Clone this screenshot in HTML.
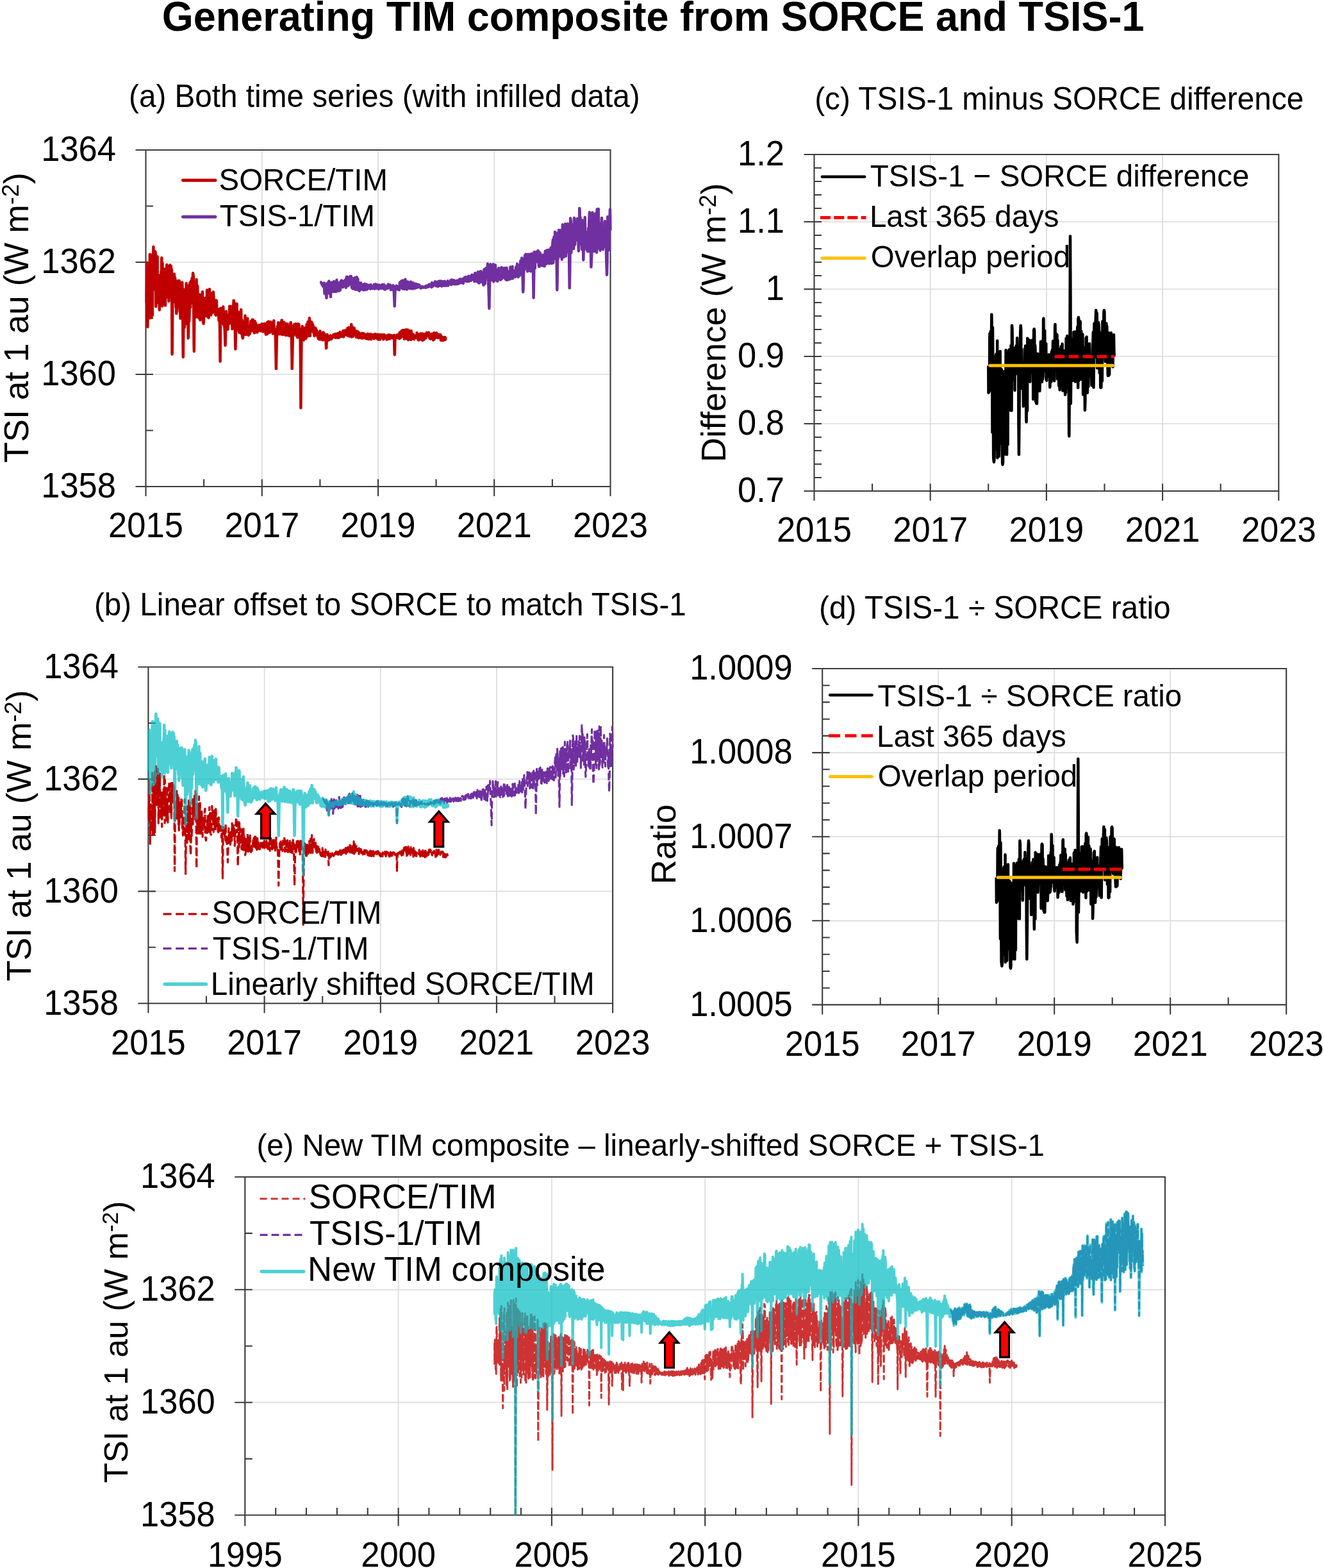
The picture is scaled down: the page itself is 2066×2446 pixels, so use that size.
<!DOCTYPE html>
<html><head><meta charset="utf-8"><title>Generating TIM composite from SORCE and TSIS-1</title>
<style>html,body{margin:0;padding:0;background:#fff;}svg{display:block;filter:blur(0.5px);}</style></head>
<body>
<svg width="2066" height="2446" viewBox="0 0 2066 2446" font-family="Liberation Sans, Arial, sans-serif" fill="#000">
<rect width="100%" height="100%" fill="#fff"/>
<defs>
<clipPath id="ca"><rect x="226.5" y="231.0" width="729.0" height="528.0"/></clipPath>
<clipPath id="cb"><rect x="230.4" y="1037.5" width="728.7" height="527.8"/></clipPath>
<clipPath id="cc"><rect x="1269.5" y="238.0" width="728.8" height="528.0"/></clipPath>
<clipPath id="cd"><rect x="1282.2" y="1040.0" width="728.0" height="527.4"/></clipPath>
<clipPath id="ce"><rect x="381.3" y="1833.0" width="1439.7" height="530.5"/></clipPath>
</defs>
<text transform="translate(252.7 47.8) scale(1 1.03)" font-size="63" font-weight="bold">Generating TIM composite from SORCE and TSIS-1</text>
<path d="M408.8 234.0V759.0M590.0 234.0V759.0M771.2 234.0V759.0M227.5 584.0H952.5M227.5 409.0H952.5" stroke="#dcdcdc" stroke-width="1.7" fill="none"/>
<path d="M227.5 234.0H952.5V759.0H227.5ZM211.5 759.0H239.0M211.5 584.0H239.0M211.5 409.0H239.0M211.5 234.0H239.0M227.5 671.5H239.0M227.5 496.5H239.0M227.5 321.5H239.0M227.5 747.5V774.0M408.8 747.5V774.0M590.0 747.5V774.0M771.2 747.5V774.0M952.5 747.5V774.0M318.1 759.0V747.5M499.4 759.0V747.5M680.6 759.0V747.5M861.9 759.0V747.5" stroke="#3c3c3c" stroke-width="2.1" fill="none"/>
<text transform="translate(181.0 776.3) scale(1 1.04)" font-size="52.5" text-anchor="end">1358</text>
<text transform="translate(181.0 601.3) scale(1 1.04)" font-size="52.5" text-anchor="end">1360</text>
<text transform="translate(181.0 426.3) scale(1 1.04)" font-size="52.5" text-anchor="end">1362</text>
<text transform="translate(181.0 251.3) scale(1 1.04)" font-size="52.5" text-anchor="end">1364</text>
<text transform="translate(227.5 838.3) scale(1 1.04)" font-size="52.5" text-anchor="middle">2015</text>
<text transform="translate(408.8 838.3) scale(1 1.04)" font-size="52.5" text-anchor="middle">2017</text>
<text transform="translate(590.0 838.3) scale(1 1.04)" font-size="52.5" text-anchor="middle">2019</text>
<text transform="translate(771.2 838.3) scale(1 1.04)" font-size="52.5" text-anchor="middle">2021</text>
<text transform="translate(952.5 838.3) scale(1 1.04)" font-size="52.5" text-anchor="middle">2023</text>
<path d="M412.6 1040.5V1565.3M593.8 1040.5V1565.3M774.9 1040.5V1565.3M231.4 1390.4H956.1M231.4 1215.4H956.1" stroke="#dcdcdc" stroke-width="1.7" fill="none"/>
<path d="M231.4 1040.5H956.1V1565.3H231.4ZM215.4 1565.3H242.9M215.4 1390.4H242.9M215.4 1215.4H242.9M215.4 1040.5H242.9M231.4 1477.8H242.9M231.4 1302.9H242.9M231.4 1128.0H242.9M231.4 1553.8V1580.3M412.6 1553.8V1580.3M593.8 1553.8V1580.3M774.9 1553.8V1580.3M956.1 1553.8V1580.3M322.0 1565.3V1553.8M503.2 1565.3V1553.8M684.3 1565.3V1553.8M865.5 1565.3V1553.8" stroke="#3c3c3c" stroke-width="2.1" fill="none"/>
<text transform="translate(184.9 1582.6) scale(1 1.04)" font-size="52.5" text-anchor="end">1358</text>
<text transform="translate(184.9 1407.7) scale(1 1.04)" font-size="52.5" text-anchor="end">1360</text>
<text transform="translate(184.9 1232.8) scale(1 1.04)" font-size="52.5" text-anchor="end">1362</text>
<text transform="translate(184.9 1057.8) scale(1 1.04)" font-size="52.5" text-anchor="end">1364</text>
<text transform="translate(231.4 1644.6) scale(1 1.04)" font-size="52.5" text-anchor="middle">2015</text>
<text transform="translate(412.6 1644.6) scale(1 1.04)" font-size="52.5" text-anchor="middle">2017</text>
<text transform="translate(593.8 1644.6) scale(1 1.04)" font-size="52.5" text-anchor="middle">2019</text>
<text transform="translate(774.9 1644.6) scale(1 1.04)" font-size="52.5" text-anchor="middle">2021</text>
<text transform="translate(956.1 1644.6) scale(1 1.04)" font-size="52.5" text-anchor="middle">2023</text>
<path d="M1451.7 241.0V766.0M1632.9 241.0V766.0M1814.1 241.0V766.0M1270.5 661.0H1995.3M1270.5 556.0H1995.3M1270.5 451.0H1995.3M1270.5 346.0H1995.3" stroke="#dcdcdc" stroke-width="1.7" fill="none"/>
<path d="M1270.5 241.0H1995.3V766.0H1270.5ZM1254.5 766.0H1282.0M1254.5 661.0H1282.0M1254.5 556.0H1282.0M1254.5 451.0H1282.0M1254.5 346.0H1282.0M1254.5 241.0H1282.0M1270.5 745.0H1282.0M1270.5 724.0H1282.0M1270.5 703.0H1282.0M1270.5 682.0H1282.0M1270.5 640.0H1282.0M1270.5 619.0H1282.0M1270.5 598.0H1282.0M1270.5 577.0H1282.0M1270.5 535.0H1282.0M1270.5 514.0H1282.0M1270.5 493.0H1282.0M1270.5 472.0H1282.0M1270.5 430.0H1282.0M1270.5 409.0H1282.0M1270.5 388.0H1282.0M1270.5 367.0H1282.0M1270.5 325.0H1282.0M1270.5 304.0H1282.0M1270.5 283.0H1282.0M1270.5 262.0H1282.0M1270.5 754.5V781.0M1451.7 754.5V781.0M1632.9 754.5V781.0M1814.1 754.5V781.0M1995.3 754.5V781.0M1361.1 766.0V754.5M1542.3 766.0V754.5M1723.5 766.0V754.5M1904.7 766.0V754.5" stroke="#3c3c3c" stroke-width="2.1" fill="none"/>
<text transform="translate(1224.0 783.3) scale(1 1.04)" font-size="52.5" text-anchor="end">0.7</text>
<text transform="translate(1224.0 678.3) scale(1 1.04)" font-size="52.5" text-anchor="end">0.8</text>
<text transform="translate(1224.0 573.3) scale(1 1.04)" font-size="52.5" text-anchor="end">0.9</text>
<text transform="translate(1224.0 468.3) scale(1 1.04)" font-size="52.5" text-anchor="end">1</text>
<text transform="translate(1224.0 363.3) scale(1 1.04)" font-size="52.5" text-anchor="end">1.1</text>
<text transform="translate(1224.0 258.3) scale(1 1.04)" font-size="52.5" text-anchor="end">1.2</text>
<text transform="translate(1270.5 845.3) scale(1 1.04)" font-size="52.5" text-anchor="middle">2015</text>
<text transform="translate(1451.7 845.3) scale(1 1.04)" font-size="52.5" text-anchor="middle">2017</text>
<text transform="translate(1632.9 845.3) scale(1 1.04)" font-size="52.5" text-anchor="middle">2019</text>
<text transform="translate(1814.1 845.3) scale(1 1.04)" font-size="52.5" text-anchor="middle">2021</text>
<text transform="translate(1995.3 845.3) scale(1 1.04)" font-size="52.5" text-anchor="middle">2023</text>
<path d="M1464.2 1043.0V1567.4M1645.2 1043.0V1567.4M1826.2 1043.0V1567.4M1283.2 1436.3H2007.2M1283.2 1305.2H2007.2M1283.2 1174.1H2007.2" stroke="#dcdcdc" stroke-width="1.7" fill="none"/>
<path d="M1283.2 1043.0H2007.2V1567.4H1283.2ZM1267.2 1567.4H1294.7M1267.2 1436.3H1294.7M1267.2 1305.2H1294.7M1267.2 1174.1H1294.7M1267.2 1043.0H1294.7M1283.2 1541.2H1294.7M1283.2 1515.0H1294.7M1283.2 1488.7H1294.7M1283.2 1462.5H1294.7M1283.2 1410.1H1294.7M1283.2 1383.9H1294.7M1283.2 1357.6H1294.7M1283.2 1331.4H1294.7M1283.2 1279.0H1294.7M1283.2 1252.8H1294.7M1283.2 1226.5H1294.7M1283.2 1200.3H1294.7M1283.2 1147.9H1294.7M1283.2 1121.7H1294.7M1283.2 1095.4H1294.7M1283.2 1069.2H1294.7M1283.2 1555.9V1582.4M1464.2 1555.9V1582.4M1645.2 1555.9V1582.4M1826.2 1555.9V1582.4M2007.2 1555.9V1582.4M1373.7 1567.4V1555.9M1554.7 1567.4V1555.9M1735.7 1567.4V1555.9M1916.7 1567.4V1555.9" stroke="#3c3c3c" stroke-width="2.1" fill="none"/>
<text transform="translate(1236.7 1584.7) scale(1 1.04)" font-size="52.5" text-anchor="end">1.0005</text>
<text transform="translate(1236.7 1453.6) scale(1 1.04)" font-size="52.5" text-anchor="end">1.0006</text>
<text transform="translate(1236.7 1322.5) scale(1 1.04)" font-size="52.5" text-anchor="end">1.0007</text>
<text transform="translate(1236.7 1191.4) scale(1 1.04)" font-size="52.5" text-anchor="end">1.0008</text>
<text transform="translate(1236.7 1060.3) scale(1 1.04)" font-size="52.5" text-anchor="end">1.0009</text>
<text transform="translate(1283.2 1646.7) scale(1 1.04)" font-size="52.5" text-anchor="middle">2015</text>
<text transform="translate(1464.2 1646.7) scale(1 1.04)" font-size="52.5" text-anchor="middle">2017</text>
<text transform="translate(1645.2 1646.7) scale(1 1.04)" font-size="52.5" text-anchor="middle">2019</text>
<text transform="translate(1826.2 1646.7) scale(1 1.04)" font-size="52.5" text-anchor="middle">2021</text>
<text transform="translate(2007.2 1646.7) scale(1 1.04)" font-size="52.5" text-anchor="middle">2023</text>
<path d="M621.6 1836.0V2363.5M860.9 1836.0V2363.5M1100.2 1836.0V2363.5M1339.4 1836.0V2363.5M1578.7 1836.0V2363.5M382.3 2187.7H1818.0M382.3 2011.8H1818.0" stroke="#dcdcdc" stroke-width="1.7" fill="none"/>
<path d="M382.3 1836.0H1818.0V2363.5H382.3ZM366.3 2363.5H393.8M366.3 2187.7H393.8M366.3 2011.8H393.8M366.3 1836.0H393.8M382.3 2275.6H393.8M382.3 2099.8H393.8M382.3 1923.9H393.8M382.3 2352.0V2380.5M621.6 2352.0V2380.5M860.9 2352.0V2380.5M1100.2 2352.0V2380.5M1339.4 2352.0V2380.5M1578.7 2352.0V2380.5M1818.0 2352.0V2380.5M430.2 2363.5V2352.0M478.0 2363.5V2352.0M525.9 2363.5V2352.0M573.7 2363.5V2352.0M669.4 2363.5V2352.0M717.3 2363.5V2352.0M765.2 2363.5V2352.0M813.0 2363.5V2352.0M908.7 2363.5V2352.0M956.6 2363.5V2352.0M1004.4 2363.5V2352.0M1052.3 2363.5V2352.0M1148.0 2363.5V2352.0M1195.9 2363.5V2352.0M1243.7 2363.5V2352.0M1291.6 2363.5V2352.0M1387.3 2363.5V2352.0M1435.1 2363.5V2352.0M1483.0 2363.5V2352.0M1530.9 2363.5V2352.0M1626.6 2363.5V2352.0M1674.4 2363.5V2352.0M1722.3 2363.5V2352.0M1770.1 2363.5V2352.0" stroke="#3c3c3c" stroke-width="2.1" fill="none"/>
<text transform="translate(335.8 2380.8) scale(1 1.04)" font-size="52.5" text-anchor="end">1358</text>
<text transform="translate(335.8 2205.0) scale(1 1.04)" font-size="52.5" text-anchor="end">1360</text>
<text transform="translate(335.8 2029.2) scale(1 1.04)" font-size="52.5" text-anchor="end">1362</text>
<text transform="translate(335.8 1853.3) scale(1 1.04)" font-size="52.5" text-anchor="end">1364</text>
<text transform="translate(382.3 2443.5) scale(1 1.04)" font-size="52.5" text-anchor="middle">1995</text>
<text transform="translate(621.6 2443.5) scale(1 1.04)" font-size="52.5" text-anchor="middle">2000</text>
<text transform="translate(860.9 2443.5) scale(1 1.04)" font-size="52.5" text-anchor="middle">2005</text>
<text transform="translate(1100.2 2443.5) scale(1 1.04)" font-size="52.5" text-anchor="middle">2010</text>
<text transform="translate(1339.4 2443.5) scale(1 1.04)" font-size="52.5" text-anchor="middle">2015</text>
<text transform="translate(1578.7 2443.5) scale(1 1.04)" font-size="52.5" text-anchor="middle">2020</text>
<text transform="translate(1818.0 2443.5) scale(1 1.04)" font-size="52.5" text-anchor="middle">2025</text>
<text transform="translate(201.0 167.0) scale(1 1.03)" font-size="47.7">(a) Both time series (with infilled data)</text>
<text transform="translate(147.0 960.2) scale(1 1.03)" font-size="47.6">(b) Linear offset to SORCE to match TSIS-1</text>
<text transform="translate(1271.2 170.7) scale(1 1.03)" font-size="47.8">(c) TSIS-1 minus SORCE difference</text>
<text transform="translate(1278.1 965.3) scale(1 1.03)" font-size="47.8">(d) TSIS-1 &#247; SORCE ratio</text>
<text transform="translate(400.4 1802.5) scale(1 1.03)" font-size="47.4">(e) New TIM composite &#8211; linearly-shifted SORCE + TSIS-1</text>
<text transform="translate(43.7 495.7) rotate(-90)" text-anchor="middle" font-size="53.3">TSI at 1 au (W m<tspan font-size="36.2" dy="-14.7">-2</tspan><tspan dy="14.7">)</tspan></text>
<text transform="translate(47.8 1303.6) rotate(-90)" text-anchor="middle" font-size="53.5">TSI at 1 au (W m<tspan font-size="36.4" dy="-14.7">-2</tspan><tspan dy="14.7">)</tspan></text>
<text transform="translate(1131.5 503.5) rotate(-90)" text-anchor="middle" font-size="53.5">Difference (W m<tspan font-size="36.4" dy="-14.7">-2</tspan><tspan dy="14.7">)</tspan></text>
<text transform="translate(1053.7 1317.2) rotate(-90)" text-anchor="middle" font-size="53.7">Ratio</text>
<text transform="translate(198.6 2093.5) rotate(-90)" text-anchor="middle" font-size="51.8">TSI at 1 au (W m<tspan font-size="35.2" dy="-14.2">-2</tspan><tspan dy="14.2">)</tspan></text>
<path clip-path="url(#ca)" d="M227.7 453.9 228.2 471.7 229.2 409.8 229.7 451.0 230.4 509.9 230.7 455.7 231.2 483.1 231.4 448.2 232.2 491.0 232.7 457.5 233.4 459.8 233.7 440.7 233.9 396.8 234.4 496.2 234.9 486.0 235.6 421.0 236.4 494.7 236.6 428.7 237.1 412.0 237.6 397.5 237.9 491.8 238.6 396.9 239.1 430.3 239.4 385.0 239.9 407.2 240.1 449.0 240.9 451.1 241.1 421.2 242.1 445.7 242.3 392.6 243.1 399.3 243.3 477.9 243.8 441.9 244.3 409.6 245.3 425.8 245.6 400.2 245.8 471.9 246.3 438.9 247.3 450.0 247.6 429.6 247.8 466.3 248.5 444.0 248.8 483.5 249.5 429.5 250.0 469.1 250.5 443.6 251.3 467.0 251.5 424.0 251.8 435.9 252.3 402.3 253.3 477.6 253.5 410.2 253.8 455.9 254.5 437.0 254.8 434.1 255.5 458.0 255.7 473.6 256.5 446.0 256.7 419.7 257.5 454.9 258.0 476.5 258.5 449.2 259.2 448.7 259.5 425.6 260.2 413.0 260.5 436.0 261.4 427.6 261.7 463.7 261.9 438.9 262.7 462.3 263.2 415.2 263.4 469.7 263.9 451.0 264.4 439.7 265.2 413.4 265.7 446.8 266.2 444.0 266.4 432.2 266.9 415.1 267.7 442.3 267.9 420.7 268.6 552.4 268.9 535.7 269.4 453.5 270.1 469.9 270.6 445.3 271.1 452.4 271.4 445.6 271.9 427.4 272.6 470.6 272.9 460.7 273.1 433.2 273.9 458.9 274.6 480.0 274.8 437.9 275.3 489.0 276.3 474.7 276.6 460.2 276.8 471.6 277.3 445.1 277.8 464.1 278.3 445.1 278.8 467.7 279.1 437.8 279.8 438.2 280.6 485.9 280.8 468.6 281.5 496.7 282.0 484.3 282.3 495.6 283.0 483.4 283.3 494.7 283.8 462.8 284.3 440.4 285.0 462.3 285.5 537.1 285.8 557.0 286.5 493.4 286.8 490.0 287.5 452.3 287.8 452.0 288.0 510.5 289.2 451.3 289.5 472.9 289.7 496.1 290.2 467.4 290.7 442.1 291.2 504.9 292.0 483.8 292.5 449.4 292.7 445.6 293.7 527.5 294.0 520.8 294.7 472.3 294.9 476.5 295.2 501.0 295.9 472.9 296.2 441.4 297.2 479.3 297.7 439.6 297.9 438.6 298.2 458.7 299.2 458.6 299.7 433.4 300.2 439.4 300.7 456.6 300.9 472.4 301.1 425.9 301.9 431.3 302.6 536.8 302.9 547.9 303.4 466.5 304.4 493.7 304.6 462.5 305.1 447.1 305.4 488.4 306.1 494.6 306.6 436.0 306.9 493.9 307.4 457.3 307.8 463.2 308.3 446.2 308.8 494.1 309.3 475.9 310.1 469.9 310.3 495.9 311.1 459.4 311.3 478.3 312.3 499.2 312.6 480.7 312.8 487.8 313.1 470.1 313.8 474.9 314.3 467.0 315.0 484.0 315.5 457.8 316.0 455.2 316.3 492.8 316.8 499.8 317.5 504.8 317.8 502.8 318.5 485.7 318.8 476.6 319.3 473.5 319.8 492.9 320.3 464.9 320.8 489.4 321.5 479.9 322.0 492.8 322.5 470.7 322.7 485.6 323.0 452.6 324.0 461.6 324.5 494.5 324.7 494.7 325.5 495.7 325.7 495.2 326.7 468.8 327.0 451.0 327.7 472.0 328.2 457.6 328.7 479.4 329.4 491.4 329.7 474.9 329.9 460.4 330.7 474.0 331.2 486.4 331.7 457.0 331.9 458.8 332.4 487.3 332.9 455.4 333.7 470.2 333.9 475.9 334.4 484.3 335.4 468.5 335.6 477.9 336.1 490.4 336.4 481.8 336.9 491.9 337.4 468.5 337.9 469.7 338.4 489.7 338.9 481.9 339.6 489.0 340.4 490.6 340.6 482.5 341.1 491.4 341.6 499.6 341.8 500.5 342.3 483.1 342.8 492.6 343.6 563.8 343.8 540.1 344.3 480.7 344.8 489.3 345.6 487.4 345.8 488.4 346.6 496.6 346.8 498.9 347.1 491.7 348.0 504.7 348.3 478.6 348.8 493.2 349.3 507.2 349.8 500.0 350.3 509.2 350.8 514.8 351.5 538.8 351.8 531.2 352.5 500.5 353.0 485.7 353.3 506.8 354.0 499.7 354.2 492.5 354.7 500.4 355.2 512.7 355.7 513.6 356.5 491.4 357.0 500.6 357.5 493.4 357.7 505.0 358.2 477.8 359.0 498.0 359.7 483.8 360.0 495.1 360.2 477.9 360.9 492.6 361.7 497.4 361.9 486.1 362.4 513.1 362.9 502.6 363.4 485.4 364.2 477.4 364.7 468.7 365.2 472.6 365.7 492.1 366.2 487.8 366.7 502.7 366.9 520.3 367.4 544.5 367.9 519.9 368.4 473.7 369.1 515.3 369.6 474.0 370.4 510.5 370.6 486.8 370.9 511.8 371.1 486.3 372.4 503.4 372.6 494.5 373.1 518.4 373.6 504.0 373.8 487.5 374.6 513.2 374.8 490.3 375.1 517.2 375.8 519.6 376.1 482.9 376.8 512.9 377.6 499.2 377.8 522.3 378.6 526.6 378.8 527.5 379.6 523.2 379.8 510.9 380.3 502.5 380.8 517.2 381.0 504.3 382.3 512.4 382.5 492.4 382.8 521.7 383.0 508.5 383.8 521.9 384.5 499.9 385.3 501.7 385.5 512.1 385.8 510.6 386.3 496.8 386.7 514.4 387.5 522.4 387.7 522.9 388.5 521.5 388.7 521.0 389.0 512.8 389.7 520.7 390.5 513.4 390.7 514.9 391.5 501.1 391.7 516.8 392.2 501.0 393.0 514.8 393.7 498.8 394.2 499.4 394.4 512.2 394.9 498.8 395.7 516.7 396.2 501.8 396.4 517.0 396.9 519.3 397.4 507.3 397.9 501.3 398.7 518.0 398.9 508.0 399.2 504.4 399.9 509.2 400.1 516.7 400.9 512.0 401.6 518.5 401.9 516.5 402.1 512.1 402.9 514.8 403.4 508.1 404.1 514.3 404.4 506.9 405.1 514.4 405.4 509.9 405.9 516.0 406.6 512.2 406.8 508.0 407.6 514.2 407.8 515.0 408.6 505.3 408.8 516.6 409.6 513.4 409.8 511.5 410.3 517.3 411.3 512.5 411.6 509.8 412.1 505.1 412.3 515.8 412.8 515.0 413.0 505.6 414.0 505.0 414.5 520.3 414.8 517.1 415.0 521.8 416.3 511.9 416.5 510.4 417.0 502.9 417.3 521.0 417.8 505.6 418.3 507.6 419.0 501.4 419.5 508.7 419.7 511.2 420.0 514.9 420.7 518.6 421.2 506.1 422.2 516.7 422.5 502.2 422.7 516.8 423.5 503.8 424.2 505.9 424.5 511.7 425.0 510.1 425.7 520.5 426.0 513.5 426.7 506.4 427.2 500.2 427.7 516.0 428.2 516.3 428.4 513.5 429.2 514.4 429.7 522.9 429.9 525.9 430.7 564.1 430.9 575.1 431.7 535.2 432.2 519.9 432.7 509.2 433.4 520.2 433.6 514.0 433.9 511.7 434.1 503.2 434.9 521.0 435.4 508.0 435.9 509.7 436.4 519.7 436.9 521.1 437.4 508.4 437.9 509.9 438.1 502.9 438.9 511.5 439.6 499.5 439.8 499.6 440.3 521.9 440.8 503.5 441.3 514.4 442.3 521.8 442.6 512.2 442.8 514.8 443.1 502.7 444.1 513.5 444.3 506.7 444.8 504.4 445.6 522.9 445.8 512.6 446.5 515.8 446.8 515.7 447.3 508.6 447.8 521.0 448.5 505.3 449.0 523.1 449.3 513.9 450.3 510.8 450.5 516.5 451.0 518.1 451.5 523.7 452.0 507.8 452.5 517.7 452.7 523.9 453.5 503.2 453.7 503.1 454.5 512.0 454.7 517.4 455.5 556.1 455.7 575.1 456.5 540.7 456.7 527.5 457.5 508.7 458.0 511.0 458.2 523.1 459.2 505.9 459.7 517.1 460.2 517.1 460.7 511.4 461.2 514.4 461.4 505.2 461.9 516.4 462.2 509.7 462.9 524.3 463.7 511.0 463.9 506.4 464.4 526.4 464.9 505.3 465.2 519.4 466.4 505.8 466.6 514.9 466.9 512.0 467.4 518.4 468.1 514.4 468.6 532.2 468.9 564.4 469.4 636.3 469.9 580.0 470.6 519.0 471.4 519.5 471.6 509.0 471.9 513.7 472.4 523.2 472.8 520.6 473.6 511.4 473.8 530.6 474.1 514.9 474.8 528.8 475.3 513.6 475.8 511.5 476.6 523.6 476.8 521.3 477.3 528.0 477.8 526.0 478.6 507.8 478.8 505.7 479.5 523.0 480.3 521.5 480.5 501.9 480.8 501.9 481.0 524.3 482.0 503.0 482.3 512.7 482.8 496.3 483.5 502.6 484.0 524.0 484.3 512.6 484.8 515.9 485.3 504.9 486.2 502.4 486.5 511.1 486.7 514.9 487.2 504.5 488.0 516.8 488.5 507.2 489.2 513.7 489.5 519.5 490.2 518.6 490.5 523.9 490.7 524.0 491.7 512.6 492.2 511.5 492.7 514.2 492.9 513.3 493.4 522.3 493.9 520.6 494.2 515.5 494.9 519.4 495.4 522.3 496.2 526.7 496.4 521.2 496.9 528.4 497.4 519.7 497.9 525.8 498.7 529.5 499.4 516.5 499.6 520.9 499.9 519.7 500.6 525.2 500.9 522.3 501.4 529.6 502.1 521.3 502.6 524.7 502.9 525.9 503.1 528.5 503.9 530.5 504.1 518.6 504.9 524.3 505.1 519.1 506.3 522.7 506.6 526.6 507.1 524.4 507.6 530.0 508.3 522.2 508.6 533.9 509.1 543.3 509.6 535.1 510.1 529.7 510.6 521.9 510.8 528.2 511.6 531.1 512.3 528.2 512.5 530.2 513.0 526.4 513.3 530.3 514.0 528.0 514.5 524.5 514.8 527.8 515.5 523.5 515.8 524.6 516.5 527.7 516.8 529.1 517.5 526.2 517.8 527.5 518.3 524.8 518.7 524.1 519.5 526.0 520.0 525.0 520.5 522.0 521.0 524.1 521.5 522.2 522.0 522.9 522.5 526.2 523.0 521.1 523.2 524.3 524.0 526.9 524.2 522.1 525.4 524.6 525.7 525.9 525.9 523.8 526.4 521.1 526.9 520.2 527.4 526.9 527.9 520.9 528.7 522.4 528.9 526.9 529.4 524.1 530.4 518.1 530.7 524.1 530.9 524.7 531.7 521.3 532.1 519.5 532.6 524.9 533.1 518.8 533.6 523.7 534.4 518.5 534.6 520.4 535.1 520.0 535.6 516.1 535.9 519.7 536.1 525.5 537.1 519.4 537.6 522.4 537.9 523.0 538.3 516.1 539.1 515.4 539.6 522.0 539.8 515.5 540.3 519.0 541.1 522.1 541.3 519.4 542.3 512.0 542.6 523.6 543.1 519.8 543.3 515.6 543.8 515.9 544.1 510.9 545.0 524.6 545.5 518.9 546.0 524.4 546.3 515.7 547.3 520.5 547.5 514.6 548.3 506.1 548.5 525.0 548.8 525.6 549.3 511.6 550.0 510.2 550.5 515.1 550.8 517.4 551.0 524.7 551.7 518.0 552.0 512.8 552.7 511.9 553.5 519.9 554.0 517.6 554.5 521.1 554.7 518.2 555.0 521.1 556.2 526.1 556.5 516.6 556.7 521.5 557.7 519.9 558.0 522.0 558.2 518.9 559.2 518.0 559.7 527.3 560.2 519.7 560.7 524.0 560.9 524.4 561.4 520.3 562.4 521.4 562.7 526.5 562.9 523.9 563.4 522.5 563.9 527.6 564.6 519.9 565.1 522.7 565.4 527.6 565.9 525.6 566.6 520.0 567.1 521.0 567.6 523.2 568.1 520.4 568.4 526.3 568.9 527.1 569.6 521.6 569.9 527.4 570.4 523.4 570.9 523.5 571.3 526.5 571.8 524.2 572.3 528.6 572.8 524.2 573.6 521.5 573.8 520.8 574.1 525.6 575.3 529.0 575.6 521.3 576.1 528.9 576.6 524.5 576.8 528.4 577.6 522.0 578.0 523.3 578.5 521.3 579.3 529.3 579.5 522.2 579.8 523.7 580.0 525.2 581.0 522.2 581.5 524.9 581.8 525.6 582.5 522.8 582.8 525.3 583.5 522.0 583.8 528.3 584.5 524.5 585.0 525.5 585.5 521.5 585.7 521.2 586.2 523.2 587.2 524.4 587.5 527.1 588.0 523.4 588.5 528.3 588.7 527.9 589.0 521.7 590.5 529.7 590.7 525.6 591.4 525.8 591.7 524.1 591.9 521.9 592.7 525.8 593.2 529.5 593.7 523.5 593.9 524.1 594.4 522.2 594.9 522.8 595.2 524.3 595.9 524.1 596.7 526.5 596.9 522.3 597.2 526.8 597.9 524.7 598.4 529.5 598.9 527.0 599.1 521.9 599.9 522.9 600.6 527.1 601.1 526.5 601.4 523.4 602.1 523.6 602.6 525.9 603.4 527.4 603.6 529.7 603.9 529.7 604.3 528.6 604.8 528.1 605.6 522.6 605.8 528.8 606.1 526.3 607.1 524.5 607.6 525.6 607.8 522.4 608.1 528.6 608.8 523.5 609.3 526.3 609.8 525.8 610.3 527.1 610.8 523.2 611.5 525.8 611.8 525.6 612.3 526.9 612.8 525.8 613.5 526.7 614.0 528.1 614.3 523.1 615.0 523.1 615.5 546.5 615.8 553.5 616.5 526.7 617.0 524.7 617.5 526.3 617.7 525.7 618.5 523.6 618.7 523.5 619.2 526.9 619.7 522.6 620.2 525.1 620.7 524.7 621.2 522.0 621.7 527.4 622.0 524.4 623.2 528.1 623.7 518.8 623.9 526.6 624.4 518.2 625.4 526.8 625.7 517.4 625.9 521.7 626.7 516.4 627.2 515.8 627.4 519.5 627.9 518.4 628.4 521.8 628.9 515.0 629.7 525.7 630.2 522.7 630.6 515.2 630.9 528.8 631.4 519.9 632.1 523.7 632.6 526.8 632.9 523.1 633.4 514.2 634.1 528.3 634.4 519.6 634.9 523.8 635.6 516.2 636.1 514.5 636.6 524.9 637.1 530.3 637.3 515.2 637.8 525.5 638.6 518.5 638.8 518.3 639.6 523.1 639.8 517.8 640.3 523.7 641.3 530.0 641.6 516.1 642.1 521.3 642.6 524.3 643.1 523.6 643.3 525.5 643.8 524.9 644.0 528.2 644.8 521.4 645.0 522.4 645.8 522.9 646.0 529.3 647.3 525.1 647.5 526.4 647.8 527.1 648.5 524.6 648.8 523.8 649.5 526.0 649.8 526.1 650.5 519.3 651.0 522.7 651.2 526.2 651.7 523.1 652.2 529.7 653.0 530.4 653.2 522.0 654.0 521.7 654.2 529.8 654.7 523.4 655.5 528.9 656.2 520.4 656.5 527.5 657.2 520.6 657.7 528.8 657.9 529.6 658.7 525.5 659.4 530.9 659.7 520.6 660.2 530.0 660.7 521.4 660.9 524.0 661.2 525.3 661.9 529.5 662.2 527.4 662.9 527.9 663.6 524.3 664.1 520.5 664.6 525.7 665.1 527.0 665.6 523.3 665.9 519.0 666.1 524.1 667.1 522.5 667.6 518.9 667.9 522.6 668.4 520.6 669.1 518.9 669.6 521.6 670.1 524.9 670.6 527.8 671.1 523.7 671.3 528.2 671.8 528.7 672.6 521.9 672.8 523.0 673.3 521.4 673.8 521.0 674.1 526.4 675.3 524.0 675.6 527.4 675.8 526.0 676.1 530.6 677.3 519.3 677.5 528.1 677.8 528.9 678.5 521.9 679.3 520.4 679.5 526.7 680.3 520.4 680.5 523.4 681.0 519.3 681.5 525.7 681.8 520.4 682.5 525.1 683.0 525.2 683.3 527.1 683.7 525.7 684.5 523.4 685.0 522.0 685.2 526.6 686.0 526.1 686.5 525.1 686.7 525.9 687.2 522.1 687.7 523.3 688.0 530.8 688.7 525.4 689.2 527.2 689.9 525.5 690.7 530.9 691.2 530.8 691.7 527.1 691.9 527.4 692.2 530.8 693.2 526.3 693.7 527.5 694.4 526.2 694.7 529.1 694.9 529.8 695.4 528.0 695.9 528.8" stroke="#C00000" stroke-width="4.5" fill="none" stroke-linejoin="round"/>
<path clip-path="url(#ca)" d="M499.4 439.5 500.4 440.0 500.6 440.2 501.4 441.1 501.9 441.6 502.4 443.3 502.6 444.5 503.3 443.0 504.1 446.4 504.3 443.7 505.1 443.6 505.3 447.9 505.8 441.6 506.3 455.2 506.6 457.9 507.3 446.7 507.6 446.3 508.3 451.9 508.6 448.4 509.1 456.9 509.5 464.8 510.3 442.2 511.0 443.5 511.3 457.7 512.0 455.2 512.3 440.4 512.8 448.4 513.3 438.5 513.5 443.4 514.0 455.7 514.5 440.7 514.8 454.0 516.0 463.1 516.2 453.1 516.5 451.0 516.7 442.7 517.5 440.5 518.2 454.8 518.5 443.1 519.2 447.8 519.7 446.5 520.2 452.7 520.7 455.1 521.0 438.9 521.5 451.6 521.7 444.5 522.4 452.0 522.9 448.9 523.4 450.9 524.2 454.9 524.4 451.1 525.2 441.3 525.4 436.8 525.9 444.1 526.7 442.9 526.9 448.5 527.4 454.0 527.7 447.3 528.4 442.7 528.7 453.8 529.4 446.3 530.1 440.5 530.4 444.2 530.9 452.4 531.4 447.6 532.1 438.3 532.9 443.9 533.1 437.5 533.6 440.9 534.1 447.0 534.9 443.6 535.1 448.0 535.6 445.7 536.3 438.4 536.6 443.6 536.8 440.9 537.8 441.4 538.3 437.5 538.6 436.7 539.3 444.4 539.8 448.7 540.1 442.6 540.6 432.3 540.8 446.6 541.6 431.7 542.3 443.7 542.8 437.2 543.0 445.8 543.5 445.4 544.0 434.6 544.5 442.8 545.3 432.5 545.8 436.5 546.3 431.1 546.8 436.8 547.3 443.2 547.8 431.0 548.3 443.0 548.5 434.8 548.8 446.5 549.5 449.5 550.0 434.0 550.7 450.4 551.2 435.9 552.0 439.1 552.2 435.9 552.5 436.2 553.0 443.3 554.0 433.3 554.2 451.6 554.5 441.4 554.7 450.6 555.7 451.5 555.9 442.5 556.4 445.6 556.7 432.3 557.7 437.4 557.9 448.6 558.4 435.2 558.9 452.2 559.9 441.1 560.2 446.3 560.4 450.4 560.7 453.7 561.7 444.2 561.9 449.2 562.6 451.9 563.1 441.2 563.4 445.5 564.1 449.7 564.4 445.8 565.1 449.2 565.6 450.5 566.1 451.6 567.1 443.8 567.4 452.3 568.1 448.1 568.4 444.7 568.8 442.8 569.3 451.1 569.6 451.9 570.1 449.9 570.8 451.9 571.3 447.0 571.6 443.4 572.3 445.7 572.6 446.1 573.1 451.3 573.6 448.1 573.8 445.5 574.6 448.5 575.1 444.8 575.8 449.3 576.0 446.1 577.0 446.0 577.3 447.0 578.0 450.7 578.3 448.0 578.5 444.0 578.8 447.9 580.0 448.9 580.3 446.4 580.5 447.8 581.0 446.6 581.5 450.1 582.0 447.4 582.7 448.5 583.2 446.2 583.7 443.9 584.2 447.4 584.5 450.5 585.2 445.0 586.0 443.4 586.2 445.7 586.7 449.7 587.2 445.6 588.0 444.2 588.2 446.7 588.4 448.8 589.2 447.9 589.7 450.0 589.9 445.5 590.4 446.1 590.9 450.9 591.4 444.5 591.9 449.0 592.4 447.2 592.7 445.2 593.9 448.6 594.2 447.1 594.7 449.7 595.1 445.2 595.9 447.6 596.1 445.9 596.6 443.9 597.1 447.4 598.1 446.3 598.4 450.4 598.6 448.0 599.4 444.1 599.6 446.9 600.4 451.3 600.9 448.3 601.1 451.5 601.6 447.8 601.8 448.7 602.6 449.6 603.1 446.2 603.8 447.2 604.3 448.4 604.6 449.9 605.3 447.1 605.6 448.6 605.8 443.5 606.8 448.4 607.1 446.2 607.8 445.5 608.1 448.7 608.8 444.4 609.3 449.2 609.8 452.0 610.0 450.9 610.5 451.3 611.3 446.3 611.8 449.5 612.3 451.3 612.5 451.6 613.0 448.7 613.5 445.3 614.3 449.0 614.5 448.6 615.2 464.7 615.7 477.6 616.2 461.9 616.5 454.8 616.7 447.5 617.7 447.2 618.0 448.9 618.5 448.5 618.7 445.7 619.5 446.4 620.2 450.2 620.7 451.3 621.0 448.4 621.4 451.0 621.7 448.5 622.7 447.5 622.9 452.3 623.4 448.9 623.9 440.6 624.7 445.2 625.2 441.6 625.9 444.9 626.2 438.6 626.4 448.6 626.7 444.1 627.4 449.4 627.9 441.1 628.4 437.6 628.6 450.6 629.4 448.9 629.9 440.0 630.9 443.3 631.1 451.0 631.6 440.2 632.4 435.8 632.9 440.4 633.4 439.3 633.6 442.2 634.4 447.2 634.6 447.8 634.8 451.4 635.6 450.3 636.3 439.5 636.6 441.4 636.8 446.6 637.6 443.7 638.1 446.3 638.8 449.7 639.3 446.2 639.6 442.3 640.1 445.4 640.8 439.6 641.1 450.3 641.8 440.6 642.3 444.9 642.5 449.1 643.3 447.5 644.0 441.1 644.3 450.4 645.0 447.7 645.3 443.9 645.5 441.8 646.3 447.5 646.5 449.4 647.0 444.6 647.5 449.7 647.7 444.8 648.7 446.8 649.2 442.7 649.5 446.5 650.2 447.8 650.5 448.9 650.7 445.4 651.5 448.1 651.7 443.8 652.5 447.4 653.2 446.2 653.5 444.3 654.0 446.5 654.4 444.7 654.9 448.0 655.4 447.6 656.2 449.4 656.4 449.2 656.9 448.5 657.7 449.0 658.2 447.7 658.4 448.1 658.9 446.9 659.4 448.1 659.9 447.6 660.4 448.1 660.7 448.3 661.6 448.6 661.9 448.4 662.4 448.3 662.6 447.9 663.9 446.7 664.4 448.7 664.6 446.3 665.4 445.7 666.1 446.2 666.4 447.8 666.6 447.8 667.1 445.7 667.8 445.1 668.3 447.6 668.8 447.1 669.1 445.5 669.6 446.6 669.8 443.8 670.6 444.4 671.3 443.9 671.6 444.4 671.8 446.1 672.8 444.6 673.3 447.9 673.8 446.2 674.0 441.1 674.5 447.2 675.3 446.1 675.5 446.3 676.0 442.2 676.5 442.2 677.3 444.3 677.8 444.4 678.3 441.5 679.0 439.2 679.3 443.3 679.5 443.0 680.3 445.9 680.7 444.4 681.0 445.0 681.5 445.2 681.7 439.9 682.7 444.0 683.2 447.0 683.5 439.6 683.7 446.0 684.5 440.6 685.2 438.7 685.7 445.7 686.0 438.5 686.7 440.5 687.2 443.0 687.4 443.4 688.2 438.4 688.4 439.9 689.2 446.4 689.4 439.1 689.7 443.7 690.4 441.8 690.9 439.3 691.4 445.5 692.2 440.4 692.4 443.2 693.2 439.6 693.7 445.8 693.9 438.8 694.4 444.5 694.6 441.9 695.6 441.0 695.9 445.6 696.4 442.5 696.6 445.6 697.9 443.9 698.4 440.8 698.6 438.3 699.1 445.4 699.6 441.1 699.9 444.1 700.6 442.1 701.3 440.0 701.6 440.4 701.8 441.7 702.6 441.8 703.3 437.3 703.6 440.3 704.3 444.0 704.8 442.0 705.3 436.6 705.8 436.8 706.3 439.8 706.6 441.3 707.0 437.9 707.8 443.0 708.3 437.3 709.0 438.3 709.3 439.8 709.5 440.3 710.0 443.2 710.8 438.2 711.3 441.3 711.8 438.5 712.0 443.2 712.5 438.8 712.8 440.0 713.7 437.6 714.2 441.4 714.7 438.9 715.0 442.7 715.7 439.5 716.2 442.1 716.5 440.5 717.0 435.8 718.0 436.0 718.2 435.3 718.7 435.9 719.0 438.1 719.5 439.6 719.7 441.3 720.4 438.5 720.7 436.5 721.7 441.1 722.2 435.0 722.4 438.9 722.9 442.0 723.4 438.8 724.2 433.5 724.7 433.7 724.9 435.5 725.7 432.6 726.2 436.9 726.7 436.8 726.9 432.2 727.4 438.7 727.9 435.1 728.6 437.9 728.9 436.3 729.6 438.8 730.1 436.8 730.6 437.1 731.1 430.7 731.6 438.9 732.4 435.1 732.9 431.5 733.1 437.8 734.1 431.6 734.3 435.7 734.6 433.0 734.8 437.8 736.1 428.9 736.3 435.0 736.6 429.0 737.3 436.1 738.1 429.9 738.3 434.7 738.6 429.3 739.3 433.6 739.6 436.8 740.3 428.7 740.5 439.1 741.3 426.0 741.8 428.2 742.3 431.4 742.5 433.7 742.8 438.1 743.8 437.3 744.3 428.9 744.5 439.3 744.8 429.0 745.8 424.1 746.3 440.5 746.7 428.6 747.2 438.6 747.7 441.5 748.2 432.6 748.7 436.4 749.2 430.6 749.5 423.4 750.0 433.6 750.5 423.2 751.2 434.4 751.7 437.5 752.0 440.2 752.5 437.5 753.0 426.4 753.7 426.9 754.2 441.9 754.4 444.8 754.9 430.0 755.4 420.5 756.2 428.9 756.4 420.1 756.7 442.8 757.4 431.8 758.2 418.3 758.4 424.5 758.9 419.4 759.4 426.0 759.7 418.4 760.4 426.4 760.9 411.6 761.4 425.0 762.1 442.8 762.4 445.7 763.4 480.9 763.6 466.7 764.4 424.3 765.1 423.5 765.4 412.2 765.6 423.8 766.1 415.4 766.6 418.8 767.1 437.0 767.6 433.4 768.3 422.2 768.6 422.6 769.3 428.5 769.8 412.2 770.3 439.3 770.6 421.7 771.1 414.3 772.1 433.2 772.3 422.7 773.0 413.6 773.3 424.6 773.8 431.4 774.0 437.1 774.5 430.1 775.0 420.4 776.0 424.7 776.3 438.7 776.5 438.0 776.8 429.5 777.8 434.3 778.3 418.3 778.5 426.7 778.8 433.0 779.7 423.1 780.0 427.1 780.5 429.6 781.0 436.7 781.5 427.6 782.2 431.7 782.5 417.3 783.0 434.9 783.5 426.0 784.0 417.7 784.7 423.4 785.2 421.0 785.5 425.7 786.2 433.1 786.4 430.7 787.2 425.8 787.9 417.9 788.2 433.5 788.7 435.5 789.2 424.0 789.7 423.8 789.9 430.4 790.4 436.8 790.7 417.9 791.4 429.6 791.9 436.6 792.4 429.0 792.9 434.2 793.4 427.0 793.6 423.9 794.4 427.0 794.6 435.9 795.6 434.9 796.4 416.5 796.6 423.7 797.1 434.7 797.9 432.6 798.1 426.9 798.6 423.2 799.1 416.4 799.6 415.9 799.8 434.5 800.6 421.4 801.3 430.2 802.1 423.1 802.3 430.6 803.1 430.3 803.3 432.3 803.6 430.5 803.8 425.5 804.8 424.8 805.3 416.6 805.6 423.4 806.0 430.8 806.5 425.5 807.0 411.8 807.5 419.9 808.0 430.0 808.5 432.1 809.3 426.2 809.8 421.9 810.3 426.1 810.5 413.4 811.0 429.7 811.5 422.7 812.3 407.1 812.5 427.6 813.0 409.5 813.7 411.2 814.2 402.6 814.5 409.3 815.2 425.4 815.5 426.3 816.2 455.4 816.5 450.5 817.2 422.9 817.5 422.6 818.2 406.5 818.5 406.4 819.2 398.0 819.4 408.8 819.7 419.7 820.7 396.5 821.2 404.9 821.9 398.4 822.2 416.0 822.9 414.8 823.2 423.3 823.7 418.5 824.2 396.8 824.4 416.3 825.2 399.3 825.4 409.6 825.9 422.2 826.4 403.4 827.1 412.9 827.4 396.4 827.9 414.9 828.4 423.2 829.1 396.0 829.6 410.7 829.9 418.8 830.9 414.8 831.4 404.6 831.6 395.6 832.3 445.4 832.6 464.5 833.3 421.7 833.8 392.9 834.3 413.4 834.8 418.3 835.1 401.9 835.6 408.3 835.8 397.3 837.1 408.4 837.3 404.8 837.8 392.7 838.3 404.2 839.0 402.4 839.3 394.2 839.5 390.9 840.3 404.7 840.8 415.2 841.0 404.5 841.5 416.1 842.3 394.1 842.8 412.6 843.3 406.6 843.8 396.9 844.3 410.4 844.5 411.8 845.0 398.4 845.7 403.6 846.0 414.4 846.5 406.4 847.0 398.0 847.7 408.8 848.2 398.9 849.0 397.6 849.2 415.3 849.5 415.2 850.2 413.5 850.5 411.7 850.7 392.0 851.5 393.3 852.2 412.0 852.9 410.2 853.2 390.5 853.9 405.8 854.2 391.7 854.7 396.1 855.2 390.1 855.4 410.6 855.9 392.8 856.4 405.0 856.7 411.2 857.4 403.2 857.9 391.2 858.6 388.7 858.9 409.6 859.4 405.3 859.6 386.5 860.6 410.9 861.1 392.6 861.4 395.7 862.1 382.7 862.9 373.9 863.1 410.2 863.9 395.5 864.4 369.8 865.1 381.6 865.3 394.7 865.6 394.5 866.1 361.7 866.8 378.1 867.3 403.8 867.8 373.8 868.1 394.4 868.6 407.9 869.3 452.3 869.6 439.0 870.3 363.7 870.6 404.3 870.8 392.0 872.0 359.1 872.3 380.7 872.5 396.0 873.0 369.2 873.5 359.8 874.3 389.3 874.8 359.2 875.0 400.6 875.5 373.5 876.3 381.9 876.5 390.0 876.8 404.7 877.8 350.6 878.3 376.0 878.5 386.0 879.0 368.7 879.5 364.0 880.0 400.7 880.5 371.4 881.2 356.5 882.0 349.2 882.2 377.2 882.7 370.3 883.0 399.5 883.5 364.4 883.7 371.6 884.5 373.6 884.7 360.5 885.9 349.0 886.2 374.4 886.4 393.5 886.9 374.7 887.9 362.0 888.2 411.7 888.7 449.2 889.2 424.1 889.4 408.3 890.2 340.6 890.9 344.4 891.2 371.9 891.4 394.0 891.9 368.3 892.9 353.7 893.1 375.6 893.4 384.3 893.6 350.4 894.6 355.1 895.1 387.9 896.1 340.1 896.4 374.0 896.6 368.2 897.1 382.0 897.6 372.1 898.3 368.6 899.1 351.6 899.3 370.3 899.6 350.0 899.8 373.4 900.8 341.3 901.1 374.6 901.6 356.1 902.3 367.4 902.8 391.5 903.3 354.0 903.8 364.1 904.3 324.9 904.6 328.8 905.0 361.2 905.5 338.8 906.0 380.4 907.0 347.8 907.3 365.8 908.0 389.0 908.3 343.6 908.8 368.8 909.3 349.3 909.5 359.9 910.3 405.4 910.5 398.9 911.3 369.1 911.5 370.1 912.2 358.4 912.7 338.9 913.2 359.4 913.7 382.2 914.0 367.4 914.5 388.1 914.7 369.5 915.7 362.2 916.2 390.6 916.5 373.1 917.2 392.3 917.9 392.3 918.2 356.0 918.7 377.9 919.2 347.7 919.9 331.2 920.2 350.3 920.4 360.1 920.7 349.0 921.4 347.2 922.2 409.8 922.4 416.6 923.2 399.5 923.4 393.5 924.2 344.9 924.4 331.6 925.1 374.5 925.9 386.0 926.1 356.1 926.4 334.4 926.9 374.0 927.4 391.9 927.9 345.8 928.9 373.0 929.1 333.2 929.6 351.5 929.9 344.0 931.1 393.7 931.3 359.3 931.6 326.6 931.8 388.1 932.6 383.2 933.3 349.7 933.8 326.1 934.1 352.7 934.6 375.0 935.3 348.5 935.6 355.6 936.3 388.5 936.6 390.7 937.1 359.2 937.6 353.2 938.3 384.7 939.0 340.1 939.3 365.1 939.8 357.1 940.3 377.2 941.0 389.2 941.3 360.5 941.5 378.9 942.3 362.2 942.5 370.1 943.3 360.0 943.5 362.5 943.8 345.3 944.5 360.6 945.0 385.3 945.7 368.2 946.2 404.0 946.5 412.8 947.0 428.8 947.5 409.7 948.2 338.2 948.7 343.8 949.0 388.4 949.7 389.6 950.2 357.9 950.5 389.9 950.7 363.7 951.9 326.8 952.2 343.2 952.4 359.5" stroke="#7030A0" stroke-width="4.5" fill="none" stroke-linejoin="round"/>
<path clip-path="url(#cb)" d="M231.6 1260.3 232.1 1278.1 233.1 1216.2 233.6 1257.4 234.3 1316.3 234.6 1262.1 235.1 1289.5 235.3 1254.6 236.1 1297.4 236.6 1263.9 237.3 1266.2 237.6 1247.1 237.8 1203.3 238.3 1302.6 238.8 1292.5 239.5 1227.4 240.3 1301.1 240.5 1235.1 241.0 1218.4 241.5 1203.9 241.8 1298.2 242.5 1203.3 243.0 1236.8 243.3 1191.5 243.8 1213.6 244.0 1255.4 244.8 1257.6 245.0 1227.6 246.0 1252.1 246.2 1199.1 247.0 1205.8 247.2 1284.3 247.7 1248.3 248.2 1216.0 249.2 1232.2 249.5 1206.6 249.7 1278.4 250.2 1245.3 251.2 1256.4 251.4 1236.0 251.7 1272.7 252.4 1250.4 252.7 1289.9 253.4 1236.0 253.9 1275.5 254.4 1250.0 255.2 1273.4 255.4 1230.5 255.7 1242.4 256.2 1208.7 257.2 1284.0 257.4 1216.6 257.6 1262.3 258.4 1243.4 258.6 1240.6 259.4 1264.4 259.6 1280.0 260.4 1252.4 260.6 1226.1 261.4 1261.4 261.9 1282.9 262.4 1255.7 263.1 1255.1 263.4 1232.0 264.1 1219.4 264.3 1242.4 265.3 1234.0 265.6 1270.1 265.8 1245.4 266.6 1268.7 267.1 1221.6 267.3 1276.1 267.8 1257.5 268.3 1246.1 269.1 1219.9 269.6 1253.2 270.0 1250.4 270.3 1238.6 270.8 1221.5 271.5 1248.7 271.8 1227.1 272.5 1358.8 272.8 1342.1 273.3 1259.9 274.0 1276.3 274.5 1251.8 275.0 1258.8 275.3 1252.0 275.8 1233.8 276.5 1277.0 276.7 1267.1 277.0 1239.7 277.7 1265.4 278.5 1286.5 278.7 1244.3 279.2 1295.4 280.2 1281.1 280.5 1266.6 280.7 1278.1 281.2 1251.5 281.7 1270.6 282.2 1251.5 282.7 1274.1 282.9 1244.2 283.7 1244.6 284.4 1292.3 284.7 1275.0 285.4 1303.1 285.9 1290.7 286.2 1302.0 286.9 1289.8 287.2 1301.1 287.7 1269.2 288.2 1246.8 288.9 1268.7 289.4 1343.5 289.6 1363.3 290.4 1299.8 290.6 1296.4 291.4 1258.7 291.6 1258.5 291.9 1316.9 293.1 1257.7 293.4 1279.3 293.6 1302.5 294.6 1248.5 295.1 1311.3 295.3 1282.9 295.8 1290.2 296.6 1252.0 296.8 1316.1 297.6 1333.9 297.8 1327.2 298.6 1278.7 298.8 1282.9 299.1 1307.4 299.8 1279.3 300.1 1247.8 301.1 1285.7 301.5 1246.0 301.8 1245.0 302.0 1265.1 303.0 1265.1 303.5 1239.9 304.0 1245.8 304.5 1263.1 304.8 1278.8 305.0 1232.4 305.8 1237.7 306.5 1343.2 306.8 1354.3 307.3 1272.9 308.2 1300.1 308.5 1268.9 309.0 1253.5 309.2 1294.8 310.0 1301.0 310.5 1242.4 310.7 1300.3 311.2 1263.7 311.7 1269.6 312.2 1252.6 312.7 1300.5 313.2 1282.3 313.9 1276.3 314.2 1302.3 314.9 1265.8 315.2 1284.7 316.2 1305.6 316.4 1287.1 316.7 1294.2 316.9 1276.5 317.7 1281.3 318.2 1273.4 318.9 1290.4 319.4 1264.2 319.9 1261.6 320.1 1299.2 320.6 1306.2 321.4 1311.2 321.6 1309.2 322.4 1292.1 322.6 1283.1 323.1 1280.0 323.6 1299.3 324.1 1271.3 324.6 1295.8 325.6 1284.3 325.9 1299.2 326.3 1277.2 326.8 1259.0 327.6 1299.6 327.8 1268.0 328.6 1301.1 328.8 1301.4 329.3 1302.1 329.8 1301.0 330.6 1275.2 330.8 1257.4 331.6 1278.4 332.1 1264.0 332.5 1285.8 333.3 1297.8 333.5 1281.3 333.8 1266.8 334.5 1280.4 335.0 1292.8 335.5 1263.4 335.8 1265.3 336.3 1293.7 336.8 1261.8 337.5 1276.6 337.8 1282.3 338.3 1290.7 339.2 1274.9 339.5 1284.3 340.0 1296.8 340.2 1288.2 340.7 1298.3 341.2 1275.0 341.7 1276.1 342.2 1296.1 342.7 1288.3 343.5 1295.4 344.2 1297.0 344.5 1288.9 344.9 1297.8 345.4 1306.0 345.7 1306.9 346.2 1289.5 346.7 1299.0 347.4 1370.1 347.7 1346.5 348.2 1287.1 348.7 1295.7 349.4 1293.8 349.7 1294.8 350.4 1303.0 350.7 1305.3 350.9 1298.1 351.9 1311.1 352.1 1285.0 352.6 1299.6 353.1 1313.6 353.6 1306.4 354.1 1315.6 354.6 1321.2 355.4 1345.2 355.6 1337.6 356.6 1295.8 356.9 1292.1 357.1 1313.2 358.1 1298.9 358.6 1306.8 358.8 1307.4 359.6 1320.0 360.3 1297.8 360.6 1305.0 361.3 1299.8 361.6 1311.3 361.8 1310.5 362.1 1284.2 362.8 1304.4 363.5 1290.2 363.8 1301.5 364.0 1284.3 364.8 1299.0 365.5 1303.8 365.8 1292.5 366.3 1319.5 366.8 1309.0 367.3 1291.8 368.0 1283.8 368.5 1275.1 369.0 1279.0 369.5 1298.5 370.0 1294.2 370.5 1309.1 370.7 1326.7 371.2 1350.9 371.7 1326.3 372.2 1280.1 373.0 1321.7 373.5 1280.4 374.2 1316.9 374.5 1293.2 374.7 1318.2 375.0 1292.7 376.2 1309.8 376.4 1300.9 376.9 1324.8 377.4 1310.4 377.7 1293.9 378.4 1319.6 378.7 1296.7 378.9 1323.6 379.7 1326.0 379.9 1289.3 380.7 1319.3 381.4 1305.6 381.7 1328.7 382.4 1333.0 382.6 1333.9 383.4 1329.6 383.6 1317.3 384.1 1308.9 384.6 1323.6 384.9 1310.7 386.1 1318.8 386.4 1298.8 386.6 1328.1 386.9 1314.9 387.6 1328.3 388.4 1306.3 389.1 1308.1 389.3 1318.5 390.1 1303.2 390.6 1320.8 390.8 1327.9 391.6 1329.3 391.8 1329.0 392.6 1327.4 392.8 1319.2 393.3 1327.2 394.1 1324.0 394.3 1319.8 395.3 1307.5 395.5 1323.2 396.0 1307.4 396.5 1316.4 396.8 1321.2 397.5 1305.2 398.0 1305.8 398.3 1318.6 398.8 1305.2 399.5 1323.1 400.0 1308.2 400.3 1323.3 400.8 1325.7 401.2 1313.7 401.7 1307.7 402.5 1324.4 402.7 1314.4 403.0 1310.8 403.7 1315.6 404.0 1323.1 404.7 1318.4 405.5 1324.8 405.7 1322.9 406.0 1318.5 406.7 1321.2 407.2 1314.5 407.9 1320.7 408.2 1313.3 408.9 1320.8 409.2 1316.3 409.7 1322.4 410.4 1318.5 410.7 1314.4 411.4 1320.6 411.7 1321.4 412.4 1311.7 412.7 1323.0 413.4 1319.8 413.6 1317.9 414.1 1323.7 415.1 1318.9 415.4 1316.2 415.9 1311.5 416.1 1322.2 416.6 1321.3 416.9 1312.0 417.9 1311.4 418.4 1326.7 418.9 1328.2 419.6 1317.2 420.3 1316.8 420.6 1319.9 420.8 1309.3 421.1 1327.3 422.1 1314.0 422.6 1311.7 422.8 1307.8 423.6 1317.6 424.1 1318.3 424.6 1325.0 425.1 1312.5 425.3 1322.7 426.3 1308.6 426.5 1323.2 427.3 1310.2 427.5 1317.4 428.0 1312.3 428.5 1320.3 428.8 1316.5 429.5 1326.9 429.8 1319.9 430.5 1312.8 431.0 1306.6 431.5 1322.4 432.0 1322.7 432.3 1319.9 433.0 1320.8 433.5 1329.3 433.7 1332.3 434.5 1370.5 434.7 1381.5 435.5 1341.6 436.0 1326.3 436.5 1315.6 437.2 1326.6 437.5 1320.4 437.7 1318.1 438.0 1309.6 438.7 1327.4 439.2 1314.4 439.7 1316.1 440.2 1326.1 440.7 1327.5 441.2 1314.8 441.7 1316.3 441.9 1309.3 442.7 1317.9 443.4 1305.9 443.7 1306.0 444.2 1328.3 444.7 1309.9 445.1 1320.8 446.1 1328.2 446.4 1318.6 446.6 1321.2 446.9 1309.1 447.9 1319.9 448.1 1313.1 448.6 1310.8 449.4 1329.3 449.6 1319.0 450.4 1322.2 451.1 1315.0 451.6 1327.4 452.3 1311.7 452.6 1326.9 452.8 1329.5 453.6 1317.4 454.1 1317.2 454.6 1327.0 455.3 1330.1 455.6 1322.7 455.8 1314.2 456.6 1330.3 456.8 1321.4 457.5 1309.5 458.0 1309.5 458.5 1323.8 458.8 1335.6 459.5 1381.5 459.8 1373.7 460.5 1333.9 461.3 1315.1 461.5 1322.0 461.8 1317.4 462.0 1329.5 463.0 1312.3 463.5 1323.5 464.0 1323.5 464.5 1317.8 465.0 1320.8 465.2 1311.6 465.7 1322.8 466.0 1316.1 466.7 1330.7 467.5 1317.4 467.7 1312.8 468.2 1332.8 468.7 1311.7 469.0 1325.8 470.2 1312.2 470.4 1321.3 470.7 1318.4 471.2 1324.8 471.9 1320.8 472.4 1338.6 472.7 1370.7 473.2 1442.7 473.7 1386.4 474.4 1325.4 475.2 1325.8 475.4 1315.4 475.7 1320.1 476.1 1329.5 476.6 1327.0 477.4 1317.8 477.6 1337.0 477.9 1321.3 478.6 1335.2 479.1 1320.0 479.6 1317.9 480.4 1330.0 480.6 1327.6 481.1 1334.4 481.9 1322.2 482.6 1312.1 482.8 1312.3 483.3 1329.4 484.1 1327.9 484.6 1308.3 484.8 1330.7 485.6 1317.1 486.1 1319.1 486.6 1302.7 486.8 1307.8 487.6 1330.0 487.8 1330.4 488.1 1319.0 488.8 1317.9 489.0 1311.3 490.0 1308.8 490.5 1321.3 490.8 1318.5 491.0 1310.9 492.3 1313.6 492.5 1324.8 493.0 1320.1 493.5 1328.7 494.0 1325.0 494.5 1330.4 494.7 1329.4 495.5 1319.0 496.0 1317.9 496.5 1320.6 496.7 1319.6 497.2 1328.7 497.7 1327.0 498.0 1321.9 498.7 1325.8 499.2 1328.7 500.0 1333.1 500.2 1327.6 500.7 1334.8 501.2 1326.1 501.7 1332.2 502.4 1335.9 503.2 1322.9 503.4 1327.3 503.7 1326.1 504.4 1331.6 504.7 1328.7 505.2 1336.0 505.9 1327.6 506.4 1331.1 506.7 1332.3 506.9 1334.9 507.6 1336.9 507.9 1325.0 508.6 1330.7 508.9 1325.5 510.1 1329.1 510.4 1333.0 510.9 1330.7 511.4 1336.4 512.1 1328.6 512.4 1340.3 512.9 1349.7 513.6 1334.8 513.8 1336.1 514.3 1328.3 515.1 1335.0 515.3 1337.5 516.3 1336.5 516.6 1333.9 517.1 1336.7 517.6 1332.3 517.8 1334.4 518.3 1330.9 518.8 1333.2 519.3 1329.8 520.0 1331.2 520.5 1335.5 521.0 1334.4 521.3 1332.6 521.8 1333.8 522.5 1330.5 523.3 1332.4 523.5 1328.6 523.8 1331.3 524.3 1328.4 525.3 1328.6 525.5 1331.9 526.2 1332.6 526.5 1328.5 526.7 1327.5 527.0 1330.7 527.7 1333.3 528.0 1328.5 529.2 1331.0 529.5 1332.3 529.7 1330.2 530.2 1327.5 530.7 1326.5 531.2 1333.3 531.7 1327.3 532.4 1328.8 532.7 1333.3 533.2 1330.5 534.2 1324.5 534.4 1330.5 534.7 1331.1 535.4 1327.7 535.9 1325.9 536.4 1331.3 536.9 1325.2 537.4 1330.1 538.2 1324.9 538.4 1326.7 538.9 1326.3 539.4 1322.5 539.6 1326.1 539.9 1331.9 540.9 1325.7 541.4 1328.8 541.6 1329.4 542.1 1322.5 542.9 1321.8 543.4 1328.4 543.6 1321.9 544.6 1326.9 544.8 1328.5 545.6 1324.7 546.1 1318.4 546.3 1330.0 546.8 1326.1 547.1 1322.0 547.8 1317.3 548.6 1326.8 548.8 1331.0 549.3 1325.3 549.8 1330.8 550.1 1322.1 551.0 1326.9 551.5 1315.8 552.0 1312.5 552.5 1332.0 552.8 1331.8 553.0 1318.0 553.8 1316.6 554.5 1323.8 554.8 1331.1 555.0 1324.4 556.0 1320.6 556.5 1318.3 556.8 1321.4 557.2 1326.3 557.7 1324.0 558.2 1327.5 559.0 1325.9 559.5 1327.9 560.0 1332.5 560.2 1323.0 560.7 1327.5 561.5 1326.3 561.7 1328.4 562.0 1325.3 563.0 1324.4 563.5 1333.7 563.9 1326.1 564.4 1330.4 564.7 1330.8 565.2 1326.7 566.2 1327.8 566.4 1332.9 566.7 1330.3 567.2 1328.9 567.7 1334.0 568.4 1326.2 568.9 1329.1 569.2 1334.0 569.7 1331.9 570.4 1326.4 570.9 1327.4 571.4 1329.6 571.9 1326.8 572.1 1332.7 572.6 1333.5 573.4 1328.0 573.6 1333.8 574.1 1329.8 574.6 1329.9 575.1 1332.9 576.1 1335.0 576.6 1330.6 576.8 1329.1 577.6 1327.1 578.1 1329.7 578.6 1332.5 579.1 1335.4 579.3 1327.6 579.8 1335.3 580.3 1330.9 580.8 1330.9 581.3 1328.4 582.3 1327.7 582.5 1331.2 583.0 1335.7 583.3 1328.6 583.8 1331.6 584.5 1328.6 584.8 1328.6 585.5 1332.0 586.3 1329.2 586.5 1331.7 587.3 1328.4 587.5 1334.7 588.0 1333.7 588.5 1330.0 588.7 1331.9 589.5 1327.6 589.7 1327.6 590.5 1331.4 591.2 1333.5 591.5 1330.4 591.7 1329.8 592.2 1334.7 592.7 1328.0 593.5 1334.7 594.2 1336.1 594.5 1332.0 595.2 1332.2 595.4 1330.5 595.7 1328.3 596.4 1332.2 596.9 1335.9 597.4 1329.9 597.7 1330.5 598.2 1328.5 598.7 1329.2 598.9 1330.7 599.7 1330.5 600.4 1332.9 600.7 1328.6 600.9 1333.2 601.6 1331.1 602.1 1335.9 602.6 1333.4 602.9 1328.3 603.6 1329.3 604.4 1333.5 604.9 1332.9 605.1 1329.8 605.9 1330.0 606.6 1334.3 607.1 1333.8 607.3 1336.1 607.8 1336.1 608.6 1334.4 609.3 1329.0 609.6 1335.2 610.3 1333.3 610.6 1331.9 611.3 1332.0 611.6 1328.8 611.8 1335.0 612.6 1329.9 612.8 1330.0 613.1 1332.7 614.0 1333.5 614.5 1329.6 615.0 1330.8 615.3 1332.2 616.0 1333.3 616.5 1332.2 617.3 1333.1 617.5 1332.1 617.8 1334.5 618.0 1329.5 618.8 1329.5 619.5 1359.9 619.7 1347.4 620.5 1332.1 620.7 1331.1 621.2 1332.7 621.7 1331.2 622.5 1329.9 623.0 1333.3 623.5 1329.0 623.7 1330.2 624.0 1331.5 625.0 1328.4 625.5 1333.8 625.7 1330.7 626.2 1333.6 626.9 1334.5 627.4 1325.2 627.7 1333.0 628.2 1324.6 629.2 1333.2 629.4 1323.8 629.7 1328.1 630.4 1322.8 630.9 1322.2 631.2 1325.9 631.7 1324.8 632.2 1328.2 632.6 1321.4 633.4 1332.1 633.9 1329.1 634.4 1321.6 634.6 1335.2 635.1 1326.2 635.9 1330.1 636.4 1333.1 636.6 1329.5 637.1 1320.6 637.9 1334.7 638.1 1326.0 638.8 1327.2 639.3 1322.6 639.8 1320.8 640.3 1331.2 640.8 1336.7 641.1 1321.6 641.8 1328.0 642.6 1324.7 643.3 1329.5 643.6 1324.2 643.8 1327.0 644.6 1332.3 645.0 1336.4 645.3 1322.5 645.8 1327.7 646.5 1331.5 646.8 1329.9 647.0 1331.8 647.8 1334.6 648.5 1327.8 649.0 1328.4 649.5 1329.2 649.8 1335.7 650.0 1329.6 651.0 1331.5 651.5 1333.4 652.0 1331.9 652.5 1330.2 652.7 1330.6 653.5 1332.5 654.0 1331.6 654.2 1325.7 654.7 1329.1 655.0 1332.6 656.0 1336.1 656.2 1330.1 656.7 1336.8 657.0 1328.4 657.7 1328.1 657.9 1336.2 658.7 1330.2 659.2 1335.3 659.9 1326.7 660.2 1333.9 660.9 1327.0 661.4 1335.2 661.7 1335.9 662.4 1331.9 663.2 1337.3 663.4 1327.0 663.9 1336.4 664.4 1327.8 664.6 1330.4 664.9 1331.6 665.6 1335.8 665.9 1333.7 666.6 1334.3 667.4 1330.7 667.9 1326.9 668.4 1332.1 668.9 1333.4 669.6 1325.4 669.8 1330.5 670.6 1325.5 671.3 1325.3 671.6 1329.0 671.8 1328.9 672.6 1326.8 672.8 1325.3 673.6 1331.7 673.8 1331.3 674.3 1334.1 674.8 1330.1 675.6 1335.1 675.8 1331.6 676.3 1328.3 677.3 1329.0 677.5 1327.4 677.8 1332.8 678.0 1329.1 679.0 1330.4 679.3 1333.8 679.8 1336.9 680.5 1329.8 681.0 1325.7 681.5 1335.2 681.8 1333.6 682.2 1328.3 683.0 1326.8 683.2 1333.1 684.0 1326.8 684.2 1329.8 684.7 1325.6 685.2 1332.1 686.0 1330.3 686.5 1333.1 686.7 1331.5 687.0 1333.5 687.7 1331.5 688.2 1329.8 688.7 1328.4 688.9 1333.0 689.7 1332.5 690.2 1331.5 690.9 1328.5 691.2 1330.4 691.7 1337.2 691.9 1330.8 692.7 1332.2 692.9 1333.6 693.7 1331.9 694.4 1337.3 694.9 1337.1 695.4 1333.5 695.6 1333.8 695.9 1337.2 696.9 1332.6 697.4 1333.9 698.1 1332.6 698.4 1335.5 698.6 1336.2 699.1 1334.4 699.6 1335.2" stroke="#C00000" stroke-width="3.2" stroke-dasharray="12 5" fill="none" stroke-linejoin="round"/>
<path clip-path="url(#cb)" d="M503.2 1245.9 504.2 1246.4 504.4 1246.6 505.1 1247.6 505.6 1248.0 506.1 1249.7 506.4 1250.9 507.1 1249.4 507.9 1252.8 508.1 1250.1 508.9 1250.1 509.1 1254.3 509.6 1248.0 510.1 1261.7 510.4 1264.3 511.1 1253.1 511.3 1252.7 512.1 1258.4 512.3 1254.8 512.8 1263.3 513.3 1271.2 514.1 1248.7 514.8 1250.0 515.1 1264.1 515.8 1261.6 516.1 1246.8 516.6 1254.8 517.1 1244.9 517.3 1249.8 517.8 1262.1 518.3 1247.1 518.5 1260.4 519.8 1269.5 520.0 1259.5 520.3 1257.4 520.5 1249.1 521.3 1246.9 522.0 1261.3 522.3 1249.6 523.0 1254.2 523.5 1252.9 524.0 1259.1 524.5 1261.5 524.7 1245.3 525.2 1258.1 525.5 1250.9 526.2 1258.5 526.7 1255.3 527.2 1257.3 528.0 1261.3 528.2 1257.5 529.0 1247.8 529.2 1243.2 529.7 1250.5 530.4 1249.3 530.7 1254.9 531.2 1260.4 531.4 1253.7 532.2 1249.1 532.4 1260.2 533.2 1252.7 533.9 1247.0 534.2 1250.7 534.7 1258.8 535.4 1251.9 535.9 1244.7 536.6 1250.3 536.9 1243.9 537.4 1247.3 537.9 1253.4 538.6 1250.0 538.9 1254.4 539.4 1252.2 540.1 1244.8 540.4 1250.0 540.6 1247.3 541.6 1247.8 542.1 1243.9 542.3 1243.1 543.1 1250.8 543.6 1255.1 543.8 1249.0 544.3 1238.7 544.6 1253.0 545.3 1238.1 546.1 1250.1 546.6 1243.6 546.8 1252.3 547.3 1251.8 547.8 1241.0 548.3 1249.2 549.0 1238.9 549.5 1242.9 550.0 1237.5 550.5 1243.3 551.0 1249.6 551.5 1237.4 552.0 1249.5 552.3 1241.3 552.5 1252.9 553.3 1255.9 553.8 1240.5 554.5 1256.9 555.0 1242.3 555.7 1245.5 556.0 1242.3 556.2 1242.6 556.7 1249.8 557.7 1239.8 558.0 1258.0 558.2 1247.8 558.5 1257.0 559.5 1257.9 559.7 1249.0 560.2 1252.0 560.5 1238.7 561.4 1243.9 561.7 1255.0 562.2 1241.7 562.7 1258.6 563.7 1247.5 563.9 1252.7 564.2 1256.8 564.4 1260.1 565.4 1250.7 566.2 1256.4 566.4 1258.3 566.9 1247.6 567.9 1256.1 568.1 1252.2 568.6 1254.2 568.9 1255.6 569.4 1256.9 569.9 1258.1 570.9 1250.2 571.1 1258.8 571.9 1254.5 572.1 1251.1 572.6 1249.2 573.1 1257.5 573.4 1258.3 573.8 1256.3 574.6 1258.3 575.1 1253.4 575.3 1249.8 576.1 1252.1 576.3 1252.5 576.8 1257.7 577.3 1254.5 577.6 1251.9 578.3 1254.9 578.8 1251.3 579.6 1255.7 579.8 1252.6 580.8 1252.4 581.0 1253.4 581.8 1257.2 582.0 1254.4 582.3 1250.4 582.5 1254.3 583.8 1255.3 584.0 1252.8 584.3 1254.2 584.8 1253.0 585.3 1256.6 585.8 1253.9 586.5 1255.0 587.0 1252.6 587.5 1250.3 588.0 1253.8 588.2 1256.9 589.0 1251.4 589.7 1249.8 590.0 1252.1 590.5 1256.1 591.0 1252.0 591.7 1250.7 592.0 1253.1 592.2 1255.2 592.9 1254.3 593.4 1256.4 593.7 1251.9 594.2 1252.5 594.7 1257.3 595.2 1250.9 595.7 1255.4 596.4 1251.6 597.2 1254.6 597.9 1253.5 598.2 1255.4 598.4 1256.1 598.9 1251.6 599.6 1254.0 600.1 1252.2 600.4 1250.3 601.1 1254.5 601.9 1252.7 602.1 1256.8 602.4 1254.4 603.1 1250.5 603.4 1253.3 604.1 1257.7 604.6 1254.7 604.8 1257.9 605.3 1254.2 605.6 1255.1 606.3 1256.0 606.8 1252.7 607.6 1253.6 608.1 1254.8 608.3 1256.3 609.1 1253.5 609.3 1255.0 609.6 1249.9 610.6 1254.8 610.8 1252.6 611.5 1251.9 611.8 1255.1 612.5 1250.8 613.0 1255.6 613.5 1258.4 613.8 1257.3 614.3 1257.7 615.0 1252.8 615.5 1255.9 616.0 1257.7 616.3 1258.0 616.8 1255.1 617.2 1251.7 618.0 1255.4 618.2 1255.0 619.0 1271.1 619.5 1284.0 620.0 1268.3 620.2 1261.2 620.5 1253.9 621.5 1253.6 621.7 1255.4 622.2 1254.9 622.5 1252.1 623.2 1252.8 623.9 1256.6 624.4 1257.7 624.7 1254.8 625.2 1257.5 625.4 1254.9 626.4 1253.9 626.7 1258.8 627.2 1255.3 627.7 1247.0 628.4 1251.6 628.9 1248.1 629.9 1245.1 630.1 1255.0 630.4 1250.5 631.1 1255.8 631.9 1249.9 632.1 1244.0 632.4 1257.0 632.9 1250.9 633.6 1246.5 634.1 1252.0 634.6 1249.7 634.9 1257.4 635.4 1246.6 636.1 1242.3 636.6 1246.9 637.1 1245.7 637.3 1248.6 638.1 1253.7 638.3 1254.2 638.6 1257.8 639.3 1256.7 640.1 1246.0 640.3 1247.8 640.6 1253.1 641.3 1250.1 641.8 1252.7 642.5 1256.1 643.0 1252.7 643.3 1248.7 643.8 1251.8 644.5 1246.0 644.8 1256.7 645.5 1247.0 646.0 1251.3 646.3 1255.5 647.0 1254.0 647.8 1247.5 648.0 1256.8 648.7 1254.2 649.0 1250.4 649.2 1248.2 650.0 1253.9 650.2 1255.8 650.7 1251.0 651.2 1256.1 651.5 1251.2 652.5 1253.3 653.0 1249.1 653.2 1252.9 654.0 1254.2 654.2 1255.4 654.5 1251.8 655.2 1254.5 655.4 1250.2 656.2 1253.8 656.9 1252.6 657.2 1250.7 657.7 1252.9 658.2 1251.1 658.7 1254.4 659.2 1254.0 659.9 1255.8 660.9 1255.3 661.1 1254.5 661.4 1255.4 661.9 1254.1 662.6 1253.3 663.1 1254.6 663.6 1254.1 664.1 1254.5 664.9 1254.6 665.1 1255.0 665.4 1255.0 666.1 1254.7 666.4 1254.3 667.1 1254.7 667.6 1253.1 668.1 1255.1 668.3 1252.7 669.1 1252.1 669.8 1252.7 670.1 1254.2 670.3 1254.2 670.8 1252.1 671.6 1251.5 672.1 1254.0 672.6 1253.5 672.8 1251.9 673.3 1253.0 673.5 1250.2 674.3 1250.8 675.0 1250.3 675.3 1250.8 675.5 1252.6 676.5 1251.0 677.0 1254.4 677.5 1252.6 677.8 1247.6 678.3 1253.6 679.0 1252.6 679.3 1252.8 679.7 1248.6 680.2 1248.7 681.0 1250.8 681.5 1250.8 682.0 1247.9 682.7 1245.6 683.0 1249.7 683.2 1249.5 684.0 1252.3 684.5 1250.8 684.7 1251.4 685.2 1251.6 685.5 1246.3 686.4 1250.4 686.9 1253.5 687.2 1246.0 687.4 1252.4 688.2 1247.0 688.9 1245.1 689.4 1252.1 689.7 1244.9 690.4 1246.9 691.2 1249.8 691.4 1248.6 691.9 1244.8 692.9 1252.9 693.1 1245.6 693.4 1250.1 693.6 1246.0 694.6 1245.7 695.1 1251.9 695.6 1250.0 695.9 1246.8 696.4 1247.2 697.1 1245.6 697.4 1252.2 697.6 1245.2 698.4 1248.3 698.8 1250.7 699.3 1247.4 699.6 1252.0 700.3 1252.0 700.8 1249.4 701.6 1250.3 702.1 1247.2 702.3 1244.7 702.8 1251.8 703.3 1247.5 703.6 1250.6 704.3 1248.5 705.0 1246.4 705.3 1246.9 705.5 1248.1 706.3 1248.2 707.0 1243.7 707.3 1246.7 708.0 1250.4 708.5 1248.4 709.0 1243.0 709.5 1243.2 710.0 1246.2 710.3 1247.7 710.8 1244.3 711.5 1249.4 712.0 1243.7 712.7 1244.8 713.0 1246.2 713.2 1246.7 713.7 1249.6 714.5 1244.6 715.0 1247.7 715.5 1244.9 715.7 1249.7 716.2 1245.3 716.5 1246.4 717.4 1244.0 717.9 1247.8 718.4 1245.3 718.7 1249.2 719.4 1245.9 719.9 1248.6 720.2 1247.0 720.7 1242.2 721.9 1241.7 722.2 1242.8 722.4 1242.3 723.2 1246.0 723.4 1247.7 724.1 1244.9 724.4 1242.9 724.9 1244.5 725.4 1247.5 725.9 1241.4 726.6 1248.4 727.1 1245.2 727.4 1242.4 727.9 1239.9 728.4 1240.1 728.6 1241.9 729.4 1239.1 729.8 1243.3 730.6 1238.6 731.1 1245.1 731.6 1241.5 731.8 1243.6 732.6 1242.7 733.1 1245.0 733.3 1245.3 733.8 1243.2 734.3 1243.5 734.8 1237.1 735.3 1245.4 736.0 1241.5 736.5 1237.9 736.8 1244.2 737.8 1238.0 738.0 1242.1 738.3 1239.5 738.5 1244.2 739.8 1235.3 740.0 1241.4 740.3 1235.5 741.0 1242.5 741.8 1236.3 742.0 1241.1 742.2 1235.7 743.0 1240.0 743.2 1243.2 744.0 1235.1 744.2 1245.5 745.0 1232.4 745.5 1234.6 746.0 1237.8 746.2 1240.1 746.5 1244.5 747.5 1243.7 748.0 1235.4 748.2 1245.8 748.4 1235.5 749.4 1230.6 749.9 1246.9 750.4 1235.0 750.9 1245.0 751.4 1247.9 751.9 1239.1 752.4 1242.8 753.2 1229.8 753.7 1240.1 754.2 1229.6 754.4 1238.2 755.1 1246.1 755.4 1243.9 755.6 1246.6 756.6 1232.9 756.9 1239.9 757.4 1233.3 758.1 1251.3 758.4 1242.6 759.1 1227.0 759.9 1235.4 760.1 1226.5 760.4 1249.2 761.1 1238.2 761.6 1233.4 761.8 1224.7 762.6 1225.8 763.1 1232.5 763.3 1224.8 764.1 1232.8 764.3 1232.2 764.6 1218.1 765.3 1240.2 766.1 1252.1 766.3 1261.9 767.1 1287.3 767.3 1273.1 768.0 1230.7 768.8 1230.0 769.0 1218.6 769.3 1230.3 769.8 1221.8 770.3 1225.3 770.8 1243.4 771.3 1239.8 772.0 1228.6 772.3 1229.0 773.0 1234.9 773.5 1218.6 774.0 1245.7 774.2 1228.1 774.7 1220.8 775.7 1239.6 776.0 1229.1 776.7 1220.0 777.0 1231.0 777.5 1237.8 777.7 1243.5 778.2 1236.5 778.7 1226.9 779.7 1231.1 779.9 1245.1 780.2 1244.5 780.4 1235.9 781.4 1240.7 781.9 1224.7 782.2 1233.2 782.4 1239.4 783.4 1229.5 783.7 1233.6 784.7 1243.1 785.2 1234.0 785.9 1238.1 786.1 1223.7 786.6 1241.3 786.9 1229.4 787.6 1224.1 787.9 1230.7 788.9 1227.4 789.1 1232.1 789.4 1234.8 789.9 1239.5 790.9 1232.2 791.1 1234.7 791.6 1224.3 791.9 1239.9 792.3 1242.0 792.8 1230.4 793.3 1230.2 794.1 1243.2 794.3 1224.3 795.1 1236.0 795.6 1243.0 796.1 1235.4 796.6 1240.6 797.1 1233.4 797.3 1230.3 798.1 1233.4 798.3 1242.3 799.0 1232.9 799.3 1241.3 800.0 1222.9 800.3 1230.1 800.8 1241.2 801.5 1239.0 801.8 1233.3 802.3 1229.6 802.8 1222.8 803.3 1222.3 803.5 1240.9 804.3 1227.8 805.0 1236.6 805.7 1229.5 806.0 1237.0 806.7 1236.7 807.0 1238.7 807.2 1236.9 807.5 1231.9 808.5 1231.3 809.0 1223.0 809.2 1229.8 809.7 1237.2 810.2 1231.9 810.7 1218.3 811.2 1226.3 811.7 1236.5 812.2 1238.5 812.9 1232.6 813.4 1228.3 813.9 1232.5 814.2 1219.9 814.7 1236.1 815.9 1213.6 816.2 1234.0 816.9 1223.1 817.1 1215.7 817.4 1217.6 817.9 1209.0 818.6 1224.9 819.1 1232.7 819.4 1241.5 819.9 1261.8 820.4 1248.4 821.1 1229.0 821.4 1225.5 822.1 1212.9 822.9 1204.4 823.1 1215.3 823.3 1226.1 824.1 1203.5 824.3 1203.0 824.8 1211.3 825.6 1204.8 825.8 1222.4 826.8 1229.8 827.1 1215.3 827.3 1225.0 827.8 1203.3 828.8 1205.8 829.1 1216.0 829.6 1228.7 830.0 1209.8 830.8 1219.3 831.0 1202.8 831.3 1204.6 832.0 1229.6 832.3 1216.2 832.8 1202.4 833.3 1217.1 833.5 1225.3 834.5 1221.2 835.0 1211.1 835.3 1202.0 836.0 1251.8 836.2 1271.0 837.0 1228.1 837.5 1199.3 838.0 1219.8 838.5 1224.7 838.7 1208.3 839.2 1214.7 839.5 1203.7 840.7 1214.8 841.0 1211.2 841.5 1199.1 842.0 1210.6 842.7 1208.9 842.9 1200.6 843.2 1197.4 843.9 1211.1 844.4 1221.6 844.7 1211.0 845.2 1222.5 845.9 1200.5 846.4 1219.0 847.2 1211.9 847.4 1203.3 848.2 1218.2 848.4 1214.2 848.6 1204.9 849.4 1210.0 849.6 1220.8 850.6 1204.5 850.9 1208.3 851.4 1215.3 851.9 1205.3 852.6 1204.0 852.9 1221.7 853.4 1221.6 854.1 1218.1 854.4 1198.5 854.6 1212.6 855.3 1201.6 855.8 1218.4 856.6 1216.6 856.8 1196.9 857.6 1212.2 857.8 1198.2 858.8 1196.5 859.1 1217.0 859.3 1212.4 859.6 1199.3 860.3 1217.6 861.0 1209.6 861.3 1209.5 861.5 1197.7 862.3 1195.1 862.5 1216.0 863.3 1193.0 863.5 1208.8 864.3 1217.3 864.8 1199.0 865.3 1201.1 865.8 1189.1 866.5 1180.3 866.8 1216.7 867.5 1202.0 868.0 1176.3 868.7 1188.0 869.0 1201.2 869.2 1201.0 869.7 1168.2 870.5 1184.5 871.0 1210.3 871.5 1180.2 871.7 1200.8 872.2 1214.3 873.0 1258.7 873.2 1245.4 873.9 1170.2 874.2 1210.7 874.4 1198.5 875.7 1165.6 875.9 1187.2 876.2 1202.5 876.7 1175.6 877.2 1166.2 877.9 1195.8 878.4 1165.7 878.7 1207.0 879.4 1181.7 880.1 1196.4 880.4 1211.2 881.1 1166.4 881.4 1157.0 882.1 1192.4 882.9 1178.7 883.1 1170.5 883.6 1207.1 884.1 1177.9 884.6 1174.7 885.1 1158.0 885.6 1155.7 886.1 1185.2 886.6 1206.0 887.1 1170.9 887.8 1176.2 888.1 1180.0 888.3 1166.9 888.8 1176.3 889.6 1155.4 890.1 1200.0 890.8 1189.9 891.1 1178.6 891.6 1168.5 892.1 1233.7 892.3 1255.7 893.0 1214.7 893.3 1178.9 893.8 1147.0 894.5 1150.8 895.0 1200.5 895.8 1194.6 896.0 1163.4 896.5 1160.2 897.0 1190.8 897.3 1156.8 897.8 1174.6 898.3 1161.6 898.7 1194.3 899.7 1146.5 900.0 1180.4 900.2 1174.7 900.7 1188.4 901.2 1178.5 902.0 1175.1 902.7 1158.0 903.0 1176.7 903.2 1156.5 903.5 1179.9 904.5 1147.8 904.7 1181.1 905.2 1162.6 905.9 1173.9 906.4 1197.9 906.9 1160.4 907.4 1170.5 907.9 1131.3 908.2 1135.3 908.7 1167.7 909.2 1145.2 909.7 1186.8 910.7 1154.3 910.9 1172.3 911.6 1195.4 911.9 1150.1 912.4 1175.3 912.9 1155.8 913.4 1202.2 913.9 1211.8 914.4 1200.1 914.9 1175.6 915.6 1168.5 916.1 1154.0 916.4 1145.3 917.1 1181.0 917.6 1173.9 918.1 1194.6 918.6 1183.4 919.1 1172.5 919.3 1168.7 919.8 1197.1 920.8 1198.7 921.1 1176.3 921.6 1198.8 921.8 1162.5 922.3 1184.3 923.1 1153.2 923.5 1137.6 924.0 1166.5 924.8 1161.1 925.0 1153.7 925.3 1204.1 926.0 1223.0 926.3 1217.8 927.0 1200.0 927.3 1192.8 928.0 1138.1 928.3 1158.8 928.8 1181.0 929.5 1192.4 930.0 1140.8 930.2 1154.6 931.0 1198.4 931.5 1152.3 932.0 1169.6 932.5 1179.5 932.7 1139.7 933.2 1157.9 933.5 1150.5 934.7 1200.1 935.0 1165.8 935.2 1133.1 935.5 1194.6 936.2 1189.6 936.9 1156.1 937.4 1132.5 937.7 1159.2 938.2 1181.4 938.9 1154.9 939.2 1162.0 939.9 1194.9 940.2 1197.2 941.2 1159.6 941.7 1165.4 941.9 1191.1 942.6 1146.6 943.1 1173.9 943.4 1163.6 943.9 1183.7 944.6 1195.6 944.9 1167.0 945.4 1176.9 945.9 1168.7 946.4 1175.7 946.9 1166.5 947.4 1151.8 948.1 1167.0 948.3 1187.2 949.1 1198.7 949.3 1174.7 950.1 1219.2 950.6 1235.3 951.1 1216.2 951.3 1207.5 951.8 1144.7 952.3 1150.2 952.6 1194.8 953.8 1164.3 954.1 1196.3 954.8 1175.4 955.0 1149.1 955.5 1133.3 956.0 1166.0" stroke="#7030A0" stroke-width="3.2" stroke-dasharray="12 5" fill="none" stroke-linejoin="round"/>
<path clip-path="url(#cb)" d="M231.6 1182.5 232.1 1200.3 233.1 1138.4 233.6 1179.6 234.3 1238.4 234.6 1184.3 235.1 1211.7 235.3 1176.8 236.1 1219.5 236.6 1186.1 237.3 1188.4 237.6 1169.3 237.8 1125.4 238.3 1224.8 238.8 1214.6 239.5 1149.6 240.3 1223.2 240.5 1157.3 241.0 1140.6 241.5 1126.1 241.8 1220.3 242.5 1125.5 243.0 1158.9 243.3 1113.6 243.8 1135.8 244.0 1177.6 244.8 1179.7 245.0 1149.8 246.0 1174.2 246.2 1121.2 247.0 1127.9 247.2 1206.4 247.7 1170.5 248.2 1138.2 249.2 1154.4 249.5 1128.8 249.7 1200.5 250.2 1167.4 251.2 1178.6 251.4 1158.2 251.7 1194.9 252.4 1172.6 252.7 1212.1 253.4 1158.1 253.9 1197.6 254.4 1172.2 255.2 1195.5 255.4 1152.6 255.7 1164.5 256.2 1130.9 257.2 1206.1 257.4 1138.8 257.6 1184.4 258.4 1165.6 258.6 1162.7 259.4 1186.6 259.6 1202.2 260.4 1174.6 260.6 1148.3 261.4 1183.5 261.9 1205.0 262.4 1177.8 263.1 1177.2 263.4 1154.2 264.1 1141.5 264.3 1164.6 265.3 1156.2 265.6 1192.2 265.8 1167.5 266.6 1190.8 267.1 1143.7 267.3 1198.3 267.8 1179.6 268.3 1168.3 269.1 1142.0 269.6 1175.4 270.0 1172.6 270.3 1160.8 270.8 1143.7 271.5 1170.9 271.8 1149.3 272.5 1280.9 272.8 1264.3 273.3 1182.1 274.0 1198.4 274.5 1173.9 275.0 1180.9 275.3 1174.2 275.8 1156.0 276.5 1199.2 276.7 1189.3 277.0 1161.8 277.7 1187.5 278.5 1208.6 278.7 1166.4 279.2 1217.6 280.2 1203.2 280.5 1188.8 280.7 1200.2 281.2 1173.7 281.7 1192.7 282.2 1173.7 282.7 1196.3 282.9 1166.4 283.7 1166.7 284.4 1214.5 284.7 1197.1 285.4 1225.2 285.9 1212.9 286.2 1224.2 286.9 1212.0 287.2 1223.3 287.7 1191.4 288.2 1169.0 288.9 1190.9 289.4 1265.6 289.6 1285.5 290.4 1222.0 290.6 1218.6 291.4 1180.9 291.6 1180.6 291.9 1239.1 293.1 1179.9 293.4 1201.4 293.6 1224.7 294.6 1170.6 295.1 1233.4 295.3 1205.0 295.8 1212.4 296.6 1174.2 296.8 1238.3 297.6 1256.0 297.8 1249.4 298.6 1200.8 298.8 1205.0 299.1 1229.6 299.8 1201.5 300.1 1169.9 301.1 1207.8 301.5 1168.2 301.8 1167.2 302.0 1187.3 303.0 1187.2 303.5 1162.0 304.0 1168.0 304.5 1185.2 304.8 1200.9 305.0 1154.5 305.8 1159.8 306.5 1265.4 306.8 1276.4 307.3 1195.1 308.2 1222.3 308.5 1191.1 309.0 1175.6 309.2 1216.9 310.0 1223.1 310.5 1164.6 310.7 1222.4 311.2 1185.9 311.7 1191.8 312.2 1174.7 312.7 1222.6 313.2 1204.5 313.9 1198.5 314.2 1224.4 314.9 1188.0 315.2 1206.8 316.2 1227.7 316.4 1209.3 316.7 1216.4 316.9 1198.6 317.7 1203.5 318.2 1195.5 318.9 1212.5 319.4 1186.4 319.9 1183.8 320.1 1221.4 320.6 1228.3 321.4 1233.3 321.6 1231.3 322.4 1214.3 322.6 1205.2 323.1 1202.1 323.6 1221.5 324.1 1193.4 324.6 1217.9 325.6 1206.5 325.9 1221.4 326.3 1199.3 326.8 1181.2 327.6 1221.7 327.8 1190.2 328.6 1223.3 328.8 1223.6 329.3 1224.3 329.8 1223.2 330.6 1197.4 330.8 1179.6 331.6 1200.5 332.1 1186.2 332.5 1208.0 333.3 1219.9 333.5 1203.5 333.8 1188.9 334.5 1202.6 335.0 1215.0 335.5 1185.6 335.8 1187.4 336.3 1215.9 336.8 1184.0 337.5 1198.8 337.8 1204.4 338.3 1212.8 339.2 1197.1 339.5 1206.5 340.0 1218.9 340.2 1210.4 340.7 1220.4 341.2 1197.1 341.7 1198.3 342.2 1218.3 342.7 1210.4 343.5 1217.5 344.2 1219.2 344.5 1211.1 344.9 1220.0 345.4 1228.2 345.7 1229.0 346.2 1211.6 346.7 1221.2 347.4 1292.3 347.7 1268.7 348.2 1209.3 348.7 1217.9 349.4 1216.0 349.7 1217.0 350.4 1225.2 350.7 1227.5 350.9 1220.3 351.9 1233.3 352.1 1207.1 352.6 1221.7 353.1 1235.8 353.6 1228.5 354.1 1237.8 354.6 1243.3 355.4 1267.3 355.6 1259.7 356.6 1218.0 356.9 1214.3 357.1 1235.3 358.1 1221.1 358.6 1228.9 358.8 1229.6 359.6 1242.2 360.3 1220.0 360.6 1227.1 361.3 1222.0 361.6 1233.5 361.8 1232.6 362.1 1206.3 362.8 1226.5 363.5 1212.4 363.8 1223.6 364.0 1206.5 364.8 1221.2 365.5 1225.9 365.8 1214.7 366.3 1241.6 366.8 1231.1 367.3 1214.0 368.0 1206.0 368.5 1197.3 369.0 1201.2 369.5 1220.6 370.0 1216.3 370.5 1231.3 370.7 1248.9 371.2 1273.0 371.7 1248.5 372.2 1202.3 373.0 1243.8 373.5 1202.5 374.2 1239.0 374.5 1215.3 374.7 1240.3 375.0 1214.8 376.2 1232.0 376.4 1223.0 376.9 1247.0 377.4 1232.6 377.7 1216.0 378.4 1241.8 378.7 1218.8 378.9 1245.8 379.7 1248.2 379.9 1211.5 380.7 1241.4 381.4 1227.7 381.7 1250.8 382.4 1255.2 382.6 1256.0 383.4 1251.8 383.6 1239.5 384.1 1231.0 384.6 1245.8 384.9 1232.9 386.1 1240.9 386.4 1220.9 386.6 1250.2 386.9 1237.0 387.6 1250.5 388.4 1228.4 389.1 1230.2 389.3 1240.7 390.1 1225.4 390.6 1242.9 390.8 1250.1 391.6 1251.5 391.8 1251.1 392.6 1249.5 392.8 1241.4 393.3 1249.3 394.1 1246.1 394.3 1242.0 395.3 1229.6 395.5 1245.3 396.0 1229.6 396.5 1238.5 396.8 1243.3 397.5 1227.3 398.0 1227.9 398.3 1240.7 398.8 1227.4 399.5 1245.3 400.0 1230.4 400.3 1245.5 400.8 1247.8 401.2 1235.9 401.7 1229.8 402.5 1246.5 402.7 1236.6 403.0 1232.9 403.7 1237.8 404.0 1245.2 404.7 1240.6 405.5 1247.0 405.7 1245.1 406.0 1240.6 406.7 1243.4 407.2 1236.7 407.9 1242.8 408.2 1235.4 408.9 1243.0 409.2 1238.5 409.7 1244.6 410.4 1240.7 410.7 1236.5 411.4 1242.7 411.7 1243.6 412.4 1233.9 412.7 1245.2 413.4 1241.9 413.6 1240.1 414.1 1245.9 415.1 1241.1 415.4 1238.4 415.9 1233.6 416.1 1244.4 416.6 1243.5 416.9 1234.1 417.9 1233.5 418.4 1248.9 418.9 1250.4 419.6 1239.3 420.3 1238.9 420.6 1242.0 420.8 1231.5 421.1 1249.5 422.1 1236.1 422.6 1233.9 422.8 1229.9 423.6 1239.8 424.1 1240.5 424.6 1247.2 425.1 1234.7 425.3 1244.8 426.3 1230.8 426.5 1245.3 427.3 1232.4 427.5 1239.5 428.0 1234.5 428.5 1242.5 428.8 1238.7 429.5 1249.0 429.8 1242.1 430.5 1234.9 431.0 1228.7 431.5 1244.6 432.0 1244.8 432.3 1242.1 433.0 1242.9 433.5 1251.4 433.7 1254.5 434.5 1292.6 434.7 1303.6 435.5 1263.7 436.0 1248.4 436.5 1237.8 437.2 1248.7 437.5 1242.5 437.7 1240.2 438.0 1231.8 438.7 1249.6 439.2 1236.6 439.7 1238.3 440.2 1248.2 440.7 1249.6 441.2 1237.0 441.7 1238.4 441.9 1231.5 442.7 1240.1 443.4 1228.1 443.7 1228.2 444.2 1250.5 444.7 1232.1 445.1 1243.0 446.1 1250.4 446.4 1240.7 446.6 1243.3 446.9 1231.3 447.9 1242.1 448.1 1235.3 448.6 1232.9 449.4 1251.5 449.6 1241.1 450.4 1244.3 451.1 1237.2 451.6 1249.6 452.3 1233.8 452.6 1249.1 452.8 1251.6 453.6 1239.6 454.1 1239.3 454.6 1249.1 455.3 1252.2 455.6 1244.9 455.8 1236.4 456.6 1252.4 456.8 1243.5 457.5 1231.6 458.0 1231.7 458.5 1246.0 458.8 1257.7 459.5 1303.6 459.8 1295.8 460.5 1256.0 461.3 1237.3 461.5 1244.2 461.8 1239.5 462.0 1251.7 463.0 1234.5 463.5 1245.7 464.0 1245.6 464.5 1239.9 465.0 1243.0 465.2 1233.8 465.7 1244.9 466.0 1238.2 466.7 1252.8 467.5 1239.5 467.7 1235.0 468.2 1254.9 468.7 1233.8 469.0 1247.9 470.2 1234.3 470.4 1243.5 470.7 1240.5 471.2 1247.0 471.9 1242.9 472.4 1260.7 472.7 1292.9 473.2 1364.8 473.7 1308.5 474.4 1247.5 475.2 1248.0 475.4 1237.6 475.7 1242.2 476.1 1251.7 476.6 1249.2 477.4 1239.9 477.6 1259.1 477.9 1243.4 478.6 1257.3 479.1 1242.2 479.6 1240.1 480.4 1252.2 480.6 1249.8 481.1 1256.6 481.9 1244.4 482.6 1234.2 482.8 1234.5 483.3 1251.6 484.1 1250.0 484.6 1230.4 484.8 1252.8 485.6 1239.2 486.1 1241.2 486.6 1224.9 486.8 1229.9 487.6 1252.1 487.8 1252.5 488.1 1241.1 488.8 1240.0 489.0 1233.4 490.0 1231.0 490.5 1243.5 490.8 1240.7 491.0 1233.0 492.3 1235.8 492.5 1246.9 493.0 1242.3 493.5 1250.8 494.0 1247.1 494.5 1252.6 494.7 1251.5 495.5 1241.2 496.0 1240.1 496.5 1242.7 496.7 1241.8 497.2 1250.9 497.7 1249.2 498.0 1244.0 498.7 1248.0 499.2 1250.9 500.0 1255.2 500.2 1249.8 500.7 1257.0 501.2 1248.2 501.7 1254.3 502.4 1258.1 503.2 1245.1 503.4 1249.5 503.7 1248.3 504.4 1253.8 504.7 1250.8 505.2 1258.2 505.9 1249.8 506.4 1253.2 506.7 1254.4 506.9 1257.1 507.6 1259.1 507.9 1247.2 508.6 1252.8 508.9 1247.6 510.1 1251.3 510.4 1255.1 510.9 1252.9 511.4 1258.5 512.1 1250.8 512.4 1262.4 512.9 1271.9 513.6 1257.0 513.8 1258.2 514.3 1250.5 515.1 1257.1 515.3 1259.7 516.3 1258.7 516.6 1256.1 517.1 1258.8 517.6 1254.5 517.8 1256.5 518.3 1253.0 518.8 1255.3 519.3 1252.0 520.0 1253.3 520.5 1257.6 521.0 1256.6 521.3 1254.7 521.8 1255.9 522.5 1252.7 523.3 1254.5 523.5 1250.7 523.8 1253.5 524.3 1250.5 525.3 1250.8 525.5 1254.1 526.2 1254.7 526.5 1250.7 526.7 1249.7 527.0 1252.9 527.7 1255.5 528.0 1250.7 529.2 1253.1 529.5 1254.5 529.7 1252.3 530.2 1249.6 530.7 1248.7 531.2 1255.5 531.7 1249.5 532.4 1250.9 532.7 1255.5 533.2 1252.6 534.2 1246.6 534.4 1252.7 534.7 1253.2 535.4 1249.9 535.9 1248.1 536.4 1253.4 536.9 1247.3 537.4 1252.3 538.2 1247.0 538.4 1248.9 538.9 1248.5 539.4 1244.7 539.6 1248.3 539.9 1254.0 540.9 1247.9 541.4 1250.9 541.6 1251.5 542.1 1244.6 542.9 1244.0 543.4 1250.6 543.6 1244.0 544.6 1249.0 544.8 1250.7 545.6 1246.8 546.1 1240.5 546.3 1252.2 546.8 1248.3 547.1 1244.1 547.8 1239.5 548.6 1248.9 548.8 1253.2 549.3 1247.4 549.8 1252.9 550.1 1244.3 551.0 1249.1 551.5 1238.0 552.0 1234.7 552.5 1254.1 552.8 1254.0 553.0 1240.2 553.8 1238.7 554.5 1246.0 554.8 1253.2 555.0 1246.5 556.0 1242.8 556.5 1240.5 556.8 1243.5 557.2 1248.4 557.7 1246.2 558.2 1249.7 559.0 1248.0 559.5 1250.1 560.0 1254.7 560.2 1245.1 560.7 1249.7 561.5 1248.4 561.7 1250.5 562.0 1247.5 563.0 1246.6 563.5 1255.9 563.9 1248.2 564.4 1252.6 564.7 1252.9 565.2 1248.9 566.2 1249.9 566.4 1255.0 566.7 1252.4 567.2 1251.0 567.7 1256.1 568.4 1248.4 568.9 1251.3 569.2 1256.1 569.7 1254.1 570.4 1248.6 570.9 1249.5 571.4 1251.8 571.9 1249.0 572.1 1254.9 572.6 1255.7 573.4 1250.2 573.6 1256.0 574.1 1252.0 574.6 1252.0 575.1 1255.1 576.1 1257.1 576.6 1252.7 576.8 1251.3 577.6 1249.3 578.1 1251.9 578.6 1254.7 579.1 1257.5 579.3 1249.8 579.8 1257.5 580.3 1253.0 580.8 1253.1 581.3 1250.6 582.3 1249.8 582.5 1253.3 583.0 1257.8 583.3 1250.7 583.8 1253.7 584.5 1250.8 584.8 1250.7 585.5 1254.2 586.3 1251.4 586.5 1253.9 587.3 1250.6 587.5 1256.8 588.0 1255.9 588.5 1252.2 588.7 1254.1 589.5 1249.8 589.7 1249.8 590.5 1253.6 591.2 1255.7 591.5 1252.5 591.7 1252.0 592.2 1256.8 592.7 1250.2 593.5 1256.9 594.2 1258.3 594.5 1254.1 595.2 1254.3 595.4 1252.7 595.7 1250.5 596.4 1254.4 596.9 1258.1 597.4 1252.0 597.7 1252.7 598.2 1250.7 598.7 1251.4 598.9 1252.8 599.7 1252.6 600.4 1255.0 600.7 1250.8 600.9 1255.3 601.6 1253.3 602.1 1258.0 602.6 1255.5 602.9 1250.4 603.6 1251.4 604.4 1255.7 604.9 1255.1 605.1 1252.0 605.9 1252.2 606.6 1256.5 607.1 1256.0 607.3 1258.3 607.8 1258.3 608.6 1256.6 609.3 1251.2 609.6 1257.4 610.3 1255.5 610.6 1254.1 611.3 1254.1 611.6 1251.0 611.8 1257.2 612.6 1252.1 612.8 1252.2 613.1 1254.8 614.0 1255.6 614.5 1251.8 615.0 1253.0 615.3 1254.4 616.0 1255.4 616.5 1254.3 617.3 1255.3 617.5 1254.3 617.8 1256.6 618.0 1251.6 618.8 1251.6 619.5 1282.1 619.7 1269.5 620.5 1254.3 620.7 1253.2 621.2 1254.8 621.7 1253.4 622.5 1252.1 623.0 1255.4 623.5 1251.1 623.7 1252.3 624.0 1253.7 625.0 1250.5 625.5 1256.0 625.7 1252.9 626.2 1255.8 626.9 1256.7 627.4 1247.3 627.7 1255.2 628.2 1246.8 629.2 1255.4 629.4 1246.0 629.7 1250.3 630.4 1245.0 630.9 1244.3 631.2 1248.0 631.7 1246.9 632.2 1250.3 632.6 1243.6 633.4 1254.2 633.9 1251.2 634.4 1243.7 634.6 1257.4 635.1 1248.4 635.9 1252.3 636.4 1255.3 636.6 1251.7 637.1 1242.7 637.9 1256.8 638.1 1248.2 638.8 1249.4 639.3 1244.7 639.8 1243.0 640.3 1253.4 640.8 1258.8 641.1 1243.7 641.8 1250.2 642.6 1246.8 643.3 1251.6 643.6 1246.3 643.8 1249.1 644.6 1254.5 645.0 1258.6 645.3 1244.6 645.8 1249.8 646.5 1253.6 646.8 1252.1 647.0 1254.0 647.8 1256.7 648.5 1249.9 649.0 1250.6 649.5 1251.4 649.8 1257.9 650.0 1251.8 651.0 1253.6 651.5 1255.6 652.0 1254.1 652.5 1252.4 652.7 1252.7 653.5 1254.6 654.0 1253.8 654.2 1247.9 654.7 1251.3 655.0 1254.8 656.0 1258.3 656.2 1252.2 656.7 1259.0 657.0 1250.6 657.7 1250.3 657.9 1258.3 658.7 1252.4 659.2 1257.5 659.9 1248.9 660.2 1256.1 660.9 1249.2 661.4 1257.3 661.7 1258.1 662.4 1254.1 663.2 1259.4 663.4 1249.2 663.9 1258.5 664.4 1249.9 664.6 1252.6 664.9 1253.8 665.6 1258.0 665.9 1255.9 666.6 1256.5 667.4 1252.8 667.9 1249.1 668.4 1254.2 668.9 1255.6 669.6 1247.6 669.8 1252.6 670.6 1247.6 671.3 1247.5 671.6 1251.2 671.8 1251.1 672.6 1248.9 672.8 1247.5 673.6 1253.8 673.8 1253.4 674.3 1256.3 674.8 1252.2 675.6 1257.3 675.8 1253.8 676.3 1250.5 677.3 1251.1 677.5 1249.6 677.8 1254.9 678.0 1251.2 679.0 1252.6 679.3 1256.0 679.8 1259.1 680.5 1252.0 681.0 1247.8 681.5 1257.4 681.8 1255.8 682.2 1250.4 683.0 1249.0 683.2 1255.2 684.0 1248.9 684.2 1252.0 684.7 1247.8 685.2 1254.3 686.0 1252.5 686.5 1255.3 686.7 1253.7 687.0 1255.7 687.7 1253.7 688.2 1252.0 688.7 1250.6 688.9 1255.2 689.7 1254.6 690.2 1253.7 690.9 1250.7 691.2 1252.6 691.7 1259.4 691.9 1252.9 692.7 1254.4 692.9 1255.8 693.7 1254.0 694.4 1259.4 694.9 1259.3 695.4 1255.7 695.6 1256.0 695.9 1259.3 696.9 1254.8 697.4 1256.1 698.1 1254.8 698.4 1257.6 698.6 1258.3 699.1 1256.6 699.6 1257.3" stroke="rgb(8,190,195)" stroke-width="4.5" stroke-opacity="0.72" fill="none" stroke-linejoin="round"/>
<path d="M414.5 1253.5L428.7 1269.3H421.4V1307.9H407.6V1269.3H400.3Z" fill="#FF0000" stroke="#000" stroke-width="3.2" stroke-linejoin="miter"/>
<path d="M684.8 1265.7L699.0 1282.0H691.7V1320.8H677.9V1282.0H670.6Z" fill="#FF0000" stroke="#000" stroke-width="3.2" stroke-linejoin="miter"/>
<path clip-path="url(#cc)" d="M1542.3 570.5 1542.5 612.7 1543.8 609.9 1544.3 528.1 1544.5 520.2 1545.3 563.9 1545.8 516.8 1546.0 593.6 1546.5 584.8 1547.3 490.4 1547.5 495.7 1548.3 604.7 1548.5 674.5 1549.0 510.8 1549.5 580.0 1550.2 713.8 1550.5 717.1 1551.0 720.8 1551.5 716.1 1552.2 643.4 1552.5 598.0 1553.0 701.1 1553.5 616.5 1554.0 554.2 1554.5 552.3 1555.0 640.4 1555.9 656.8 1556.2 531.5 1556.4 714.3 1556.9 630.5 1557.9 628.7 1558.2 700.0 1558.7 632.2 1558.9 711.7 1559.4 662.2 1560.2 569.3 1560.7 548.1 1560.9 651.5 1561.9 691.4 1562.1 603.3 1562.9 576.2 1563.1 597.7 1563.4 643.9 1564.1 722.2 1564.6 724.7 1565.1 720.9 1565.4 612.7 1565.9 700.6 1566.6 579.5 1567.1 614.1 1567.8 594.4 1568.1 636.6 1568.3 628.2 1568.8 708.5 1569.6 546.3 1570.1 659.9 1570.8 637.6 1571.1 709.0 1571.6 598.8 1572.1 666.8 1572.6 693.5 1573.1 550.7 1573.8 586.9 1574.1 549.6 1574.5 545.6 1575.3 628.1 1575.5 547.9 1576.3 617.2 1576.5 600.5 1577.0 640.3 1577.5 539.0 1578.3 628.7 1578.5 640.4 1579.0 507.7 1579.5 513.3 1580.3 582.0 1580.7 568.7 1581.2 583.0 1581.5 592.0 1582.0 566.2 1582.5 584.4 1583.2 543.0 1583.5 609.1 1583.7 582.9 1584.5 574.5 1585.0 551.6 1585.5 539.4 1586.0 578.0 1586.5 582.1 1587.2 527.3 1587.4 540.4 1587.9 569.9 1588.4 584.2 1589.2 546.8 1589.4 656.4 1589.9 709.1 1590.4 664.4 1591.2 569.4 1591.4 571.1 1592.2 519.8 1592.7 507.7 1593.2 514.5 1593.4 606.0 1594.1 544.7 1594.4 559.1 1595.1 585.4 1595.6 583.8 1596.1 591.4 1596.6 603.0 1596.9 633.7 1597.4 630.2 1597.9 566.0 1598.9 627.2 1599.1 543.7 1599.4 632.5 1600.1 539.4 1600.6 611.6 1601.1 566.7 1601.3 650.2 1601.6 658.3 1602.3 557.7 1603.1 640.7 1603.3 527.7 1604.1 579.4 1604.6 580.9 1604.8 529.7 1606.0 590.9 1606.3 530.7 1606.5 558.0 1607.3 595.4 1607.5 569.9 1608.3 531.4 1608.5 537.9 1608.8 557.9 1609.5 571.0 1610.0 544.0 1610.5 580.7 1611.0 530.6 1612.0 547.5 1612.2 622.7 1612.5 577.3 1613.2 514.5 1613.7 513.2 1614.2 516.4 1614.5 596.7 1615.2 538.6 1615.7 551.2 1616.2 626.6 1616.7 599.1 1617.2 629.5 1617.5 602.4 1618.0 629.6 1618.7 594.8 1619.2 551.8 1619.4 566.8 1619.9 609.0 1620.9 570.4 1621.2 581.4 1621.4 576.0 1622.2 599.4 1622.4 610.0 1622.7 599.9 1623.4 578.4 1623.9 533.0 1624.7 551.6 1625.1 565.8 1625.4 544.9 1625.9 595.7 1626.6 531.5 1626.9 591.8 1627.6 586.5 1628.1 498.2 1628.4 496.8 1628.9 541.8 1629.6 578.9 1630.1 515.8 1630.4 540.9 1630.6 561.5 1631.8 543.2 1632.1 559.9 1632.3 536.0 1632.6 591.9 1633.3 593.6 1634.1 568.4 1634.3 566.6 1634.6 581.9 1635.6 579.8 1636.1 553.2 1636.8 587.3 1637.1 574.1 1638.0 553.5 1638.3 604.2 1638.8 591.4 1639.3 560.8 1639.8 554.2 1640.3 566.8 1640.5 595.5 1640.8 549.0 1641.5 577.3 1642.0 545.4 1642.5 583.2 1643.0 532.1 1643.8 532.0 1644.0 590.2 1644.7 536.5 1645.2 594.3 1645.5 568.4 1646.2 507.8 1646.5 505.9 1647.2 549.2 1647.5 552.4 1648.0 520.9 1648.7 548.7 1649.2 523.8 1649.5 521.9 1650.0 591.3 1650.4 530.8 1650.9 586.0 1651.7 572.3 1652.2 601.7 1652.4 571.7 1652.9 580.9 1653.7 608.2 1654.2 544.7 1654.9 578.1 1655.2 554.1 1655.7 540.6 1656.2 568.9 1656.4 559.5 1656.7 575.4 1657.6 536.6 1657.9 582.0 1658.4 609.6 1658.6 548.7 1659.9 593.8 1660.1 565.9 1660.9 575.2 1661.1 598.4 1661.6 547.1 1662.1 615.7 1662.6 584.2 1662.9 612.7 1663.3 600.4 1663.6 528.1 1664.6 527.0 1664.8 539.4 1665.3 523.9 1665.8 589.6 1666.3 566.2 1666.6 525.7 1667.3 550.5 1668.1 677.2 1668.3 680.4 1669.1 581.1 1669.3 575.1 1670.0 368.5 1670.5 467.8 1670.8 629.4 1671.5 567.2 1672.3 584.0 1672.5 559.6 1672.8 529.2 1673.5 534.4 1674.0 557.0 1674.5 593.7 1675.3 541.7 1675.5 518.1 1676.2 545.2 1676.5 538.2 1676.7 575.7 1677.5 517.4 1678.0 595.5 1678.5 594.1 1678.7 563.8 1679.7 594.5 1680.0 532.9 1680.7 549.9 1681.2 512.1 1681.5 509.3 1682.2 604.8 1682.4 497.6 1682.9 495.0 1683.4 498.9 1683.7 593.7 1684.4 545.4 1684.7 566.5 1685.7 501.4 1686.2 591.8 1686.4 580.6 1687.2 516.5 1687.7 567.5 1687.9 532.1 1688.6 552.6 1689.1 535.7 1689.4 521.6 1690.1 615.5 1690.4 568.5 1690.9 542.0 1691.6 593.5 1692.1 563.0 1692.4 582.8 1692.9 640.0 1693.4 625.0 1693.9 552.5 1694.4 554.2 1694.6 527.8 1695.6 525.6 1696.1 568.8 1696.3 574.9 1696.8 612.8 1697.3 592.2 1698.1 567.5 1698.3 603.0 1699.1 554.2 1699.3 568.3 1700.1 536.1 1700.3 543.9 1700.6 566.7 1701.8 586.3 1702.0 558.1 1702.5 562.5 1703.3 591.5 1703.5 601.2 1703.8 588.9 1704.5 583.2 1705.3 536.5 1705.8 518.1 1706.3 554.4 1706.5 604.4 1706.8 571.6 1707.5 504.4 1708.2 543.5 1708.5 533.5 1708.7 556.6 1709.5 503.8 1710.2 484.1 1710.5 486.5 1710.7 538.3 1711.7 488.5 1712.0 574.2 1712.5 533.0 1713.2 574.1 1713.5 546.6 1714.2 502.9 1714.4 555.2 1714.7 506.4 1715.4 521.6 1715.7 581.7 1716.7 519.0 1717.2 604.2 1717.7 604.8 1718.2 604.5 1718.4 603.9 1719.2 545.9 1719.7 520.5 1719.9 594.6 1720.4 501.2 1721.1 555.1 1721.4 514.6 1721.6 554.1 1722.4 485.8 1722.9 484.1 1723.4 486.5 1723.9 547.3 1724.4 545.9 1724.9 564.1 1725.6 544.4 1725.9 534.4 1726.4 504.6 1726.8 551.6 1727.3 509.3 1728.1 566.7 1728.3 560.8 1728.8 585.9 1729.6 518.9 1729.8 586.0 1730.3 537.9 1731.1 584.3 1731.3 565.6 1731.6 530.3 1732.3 520.1 1733.3 564.8 1733.5 555.2 1733.8 519.2 1734.8 549.2 1735.0 566.8 1736.0 535.8 1736.3 556.8 1736.5 572.3 1737.0 536.8 1737.5 554.4 1738.0 522.3 1738.5 554.5 1738.8 550.6" stroke="#000" stroke-width="4.5" fill="none" stroke-linejoin="round"/>
<path d="M1645.6 556.2H1738.9" stroke="#FF0000" stroke-width="5" stroke-dasharray="15.5 6.5" fill="none" stroke-linecap="butt"/>
<path d="M1544.8 570.2H1736.4" stroke="#FFC000" stroke-width="5" fill="none" stroke-linecap="round"/>
<path clip-path="url(#cd)" d="M1554.7 1369.0 1554.9 1407.8 1556.2 1405.2 1556.7 1330.2 1556.9 1322.9 1557.7 1363.0 1558.2 1319.8 1558.4 1390.3 1558.9 1382.2 1559.7 1295.6 1559.9 1300.4 1560.6 1400.5 1560.9 1464.5 1561.4 1314.3 1561.9 1377.8 1562.6 1500.6 1562.9 1503.6 1563.4 1507.0 1563.9 1502.7 1564.6 1435.9 1564.9 1394.3 1565.4 1488.9 1565.8 1411.3 1566.3 1354.1 1566.8 1352.4 1567.3 1433.2 1568.3 1448.3 1568.6 1333.3 1568.8 1501.1 1569.3 1424.2 1570.3 1422.5 1570.6 1487.9 1571.1 1425.7 1571.3 1498.6 1571.8 1453.3 1572.5 1368.0 1573.0 1348.5 1573.3 1443.4 1574.3 1480.0 1574.5 1399.2 1575.3 1374.3 1575.5 1394.1 1575.8 1436.4 1576.5 1508.3 1577.0 1510.6 1577.5 1507.0 1577.7 1407.8 1578.2 1488.5 1579.0 1377.4 1579.5 1409.1 1580.2 1391.0 1580.5 1429.8 1580.7 1422.0 1581.2 1495.7 1582.0 1346.8 1582.7 1452.8 1583.4 1496.2 1583.7 1427.4 1583.9 1395.0 1584.4 1457.5 1584.9 1481.9 1585.4 1350.9 1586.2 1384.1 1586.4 1349.9 1586.9 1346.2 1587.7 1421.9 1587.9 1348.3 1588.6 1411.9 1588.9 1396.6 1589.4 1433.1 1589.9 1340.2 1590.6 1422.5 1590.9 1433.2 1591.4 1311.5 1591.9 1316.6 1592.6 1379.6 1593.1 1367.4 1593.6 1380.6 1593.8 1388.8 1594.3 1365.2 1594.8 1381.9 1595.6 1343.8 1595.8 1404.5 1596.1 1380.5 1596.8 1372.8 1597.3 1351.7 1597.8 1340.6 1598.3 1376.0 1598.8 1379.8 1599.5 1329.5 1599.8 1341.5 1600.3 1368.6 1600.8 1381.7 1601.5 1347.3 1601.8 1447.9 1602.3 1496.2 1602.8 1455.3 1603.5 1368.1 1603.8 1369.6 1604.5 1322.6 1605.0 1311.5 1605.5 1317.7 1605.7 1401.6 1606.5 1345.4 1606.7 1358.6 1607.5 1382.8 1608.0 1381.2 1608.5 1388.2 1609.0 1398.9 1609.2 1427.1 1609.7 1423.9 1610.2 1365.0 1611.4 1344.5 1611.7 1426.0 1611.9 1420.2 1612.4 1340.6 1613.4 1365.6 1613.7 1442.2 1613.9 1449.6 1614.7 1357.3 1615.4 1433.5 1615.7 1329.8 1615.9 1346.3 1616.4 1377.2 1616.9 1378.6 1617.1 1331.7 1618.4 1387.8 1618.6 1332.6 1618.9 1357.6 1619.6 1391.9 1619.9 1368.5 1620.6 1333.2 1620.9 1339.1 1621.1 1357.5 1621.8 1369.5 1622.3 1344.8 1622.8 1378.5 1623.3 1332.5 1624.3 1348.0 1624.6 1417.0 1624.8 1375.3 1625.6 1317.7 1626.1 1316.5 1626.6 1319.4 1626.8 1393.1 1627.5 1339.8 1628.0 1351.4 1628.5 1420.5 1629.0 1395.3 1629.5 1423.2 1629.8 1398.4 1630.3 1423.3 1631.0 1391.4 1631.5 1351.9 1631.8 1365.7 1632.3 1404.4 1633.2 1369.0 1633.5 1379.1 1633.7 1374.1 1634.5 1395.6 1634.7 1405.3 1635.0 1396.0 1635.7 1376.3 1636.2 1334.7 1637.0 1351.7 1637.5 1364.7 1637.7 1345.6 1638.2 1392.2 1639.2 1388.6 1639.7 1329.3 1639.9 1383.8 1640.7 1301.4 1640.9 1306.0 1641.7 1354.8 1641.9 1376.8 1642.4 1318.9 1642.9 1360.8 1643.2 1350.5 1644.4 1359.3 1644.6 1337.4 1645.1 1384.2 1645.6 1390.3 1646.1 1380.8 1646.6 1365.5 1646.9 1379.5 1647.6 1365.0 1647.9 1377.6 1648.4 1353.2 1649.1 1384.5 1649.4 1372.4 1650.3 1353.5 1650.6 1400.0 1651.1 1388.3 1651.6 1360.2 1652.1 1354.1 1652.6 1365.6 1652.8 1392.0 1653.1 1349.4 1653.8 1375.3 1654.3 1346.1 1654.8 1380.7 1655.3 1333.9 1656.0 1333.8 1656.3 1387.2 1657.0 1337.9 1657.5 1390.9 1657.8 1367.1 1658.5 1311.5 1658.8 1309.8 1659.5 1349.6 1659.8 1352.5 1660.3 1323.6 1661.0 1349.1 1661.5 1326.2 1661.7 1324.5 1662.2 1388.2 1662.7 1332.6 1663.2 1383.3 1664.0 1370.8 1664.5 1397.7 1664.7 1370.2 1665.2 1378.7 1666.0 1403.7 1666.4 1345.4 1667.2 1376.1 1667.7 1346.7 1667.9 1341.6 1668.4 1367.6 1669.4 1360.0 1669.7 1379.1 1669.9 1338.0 1670.7 1405.0 1670.9 1349.1 1671.4 1403.1 1672.4 1364.8 1672.6 1394.0 1673.4 1394.6 1673.6 1365.7 1673.9 1347.6 1674.4 1410.5 1674.9 1381.7 1675.1 1407.8 1675.9 1330.2 1676.1 1372.4 1677.1 1340.5 1677.6 1326.3 1677.8 1335.4 1678.1 1386.6 1678.8 1328.0 1679.6 1350.7 1679.8 1454.5 1680.6 1469.9 1680.8 1460.5 1681.6 1373.3 1681.8 1302.2 1682.3 1183.7 1682.8 1274.8 1683.0 1423.1 1683.8 1366.0 1684.5 1381.4 1684.8 1359.1 1685.0 1331.2 1685.8 1336.0 1686.3 1356.7 1686.8 1390.3 1687.5 1342.6 1687.8 1321.0 1688.5 1345.8 1688.7 1339.4 1689.0 1373.8 1689.7 1320.4 1690.2 1392.0 1690.7 1390.7 1691.0 1362.9 1692.0 1391.1 1692.2 1334.6 1693.0 1350.2 1693.5 1315.5 1694.4 1400.5 1694.7 1302.2 1695.2 1299.8 1695.7 1303.4 1695.9 1390.4 1696.4 1345.7 1696.9 1365.4 1697.7 1334.9 1697.9 1305.7 1698.4 1388.6 1698.9 1356.9 1699.4 1319.5 1699.9 1366.4 1700.1 1333.8 1700.9 1352.6 1701.6 1324.2 1702.4 1410.4 1702.6 1367.3 1703.1 1342.9 1703.6 1381.2 1703.9 1390.2 1704.4 1362.2 1705.1 1432.9 1705.6 1419.1 1706.1 1352.6 1706.3 1388.9 1706.8 1329.9 1707.3 1345.6 1707.8 1327.8 1708.6 1373.1 1708.8 1376.3 1709.1 1407.9 1710.3 1366.3 1710.6 1398.9 1710.8 1385.9 1711.3 1354.2 1712.0 1354.7 1712.3 1337.5 1712.8 1365.6 1713.0 1349.7 1714.0 1383.6 1714.3 1357.7 1714.8 1361.7 1715.5 1388.3 1715.8 1397.2 1716.0 1385.9 1716.7 1380.7 1717.5 1337.9 1718.0 1321.0 1718.5 1354.3 1718.7 1400.2 1719.0 1370.1 1719.7 1308.5 1720.5 1344.3 1720.7 1335.1 1721.0 1356.3 1721.7 1307.8 1722.4 1289.8 1722.9 1339.5 1723.4 1300.5 1723.9 1293.8 1724.2 1372.5 1724.9 1339.4 1725.4 1372.4 1726.4 1307.0 1726.7 1355.1 1726.9 1310.2 1727.4 1336.1 1727.9 1379.4 1728.6 1347.6 1728.9 1321.8 1729.6 1400.4 1729.9 1400.6 1730.6 1399.7 1731.4 1346.5 1731.6 1380.5 1732.1 1391.2 1732.6 1305.5 1733.3 1354.9 1733.6 1317.8 1733.8 1354.0 1734.6 1291.4 1735.1 1289.8 1735.6 1292.0 1735.8 1305.6 1736.1 1347.8 1737.1 1363.2 1737.6 1338.5 1737.8 1345.1 1738.5 1308.6 1738.8 1309.0 1739.0 1351.7 1740.0 1340.3 1740.3 1365.6 1741.0 1383.2 1741.5 1350.4 1741.8 1321.7 1742.0 1383.3 1742.8 1348.1 1743.3 1381.7 1744.2 1347.3 1744.5 1322.8 1744.7 1339.5 1745.5 1363.8 1745.7 1355.0 1746.0 1322.0 1747.0 1349.5 1747.2 1365.7 1748.2 1337.2 1748.5 1356.5 1748.7 1370.7 1749.2 1338.2 1750.2 1324.8 1750.7 1354.4 1750.9 1350.8" stroke="#000" stroke-width="4.5" fill="none" stroke-linejoin="round"/>
<path d="M1657.9 1356.0H1751.1" stroke="#FF0000" stroke-width="5" stroke-dasharray="19 5.5" fill="none" stroke-linecap="butt"/>
<path d="M1557.2 1368.8H1748.6" stroke="#FFC000" stroke-width="5" fill="none" stroke-linecap="round"/>
<path clip-path="url(#ce)" d="M771.6 2094.9 771.7 2127.7 772.3 2090.0 772.7 2109.5 773.5 2136.8 773.8 2093.7 774.2 2143.3 774.8 2070.8 775.2 2069.9 775.7 2123.2 776.0 2100.4 776.5 2125.5 777.3 2090.4 777.6 2118.9 778.0 2094.2 778.5 2125.5 779.2 2128.5 779.4 2056.0 780.1 2077.3 780.3 2120.7 781.0 2042.0 781.8 2153.6 782.2 2107.3 782.4 2037.1 783.2 2066.6 783.7 2146.1 784.0 2130.6 784.7 2196.9 784.9 2183.0 785.7 2078.6 786.6 2047.6 786.9 2169.2 787.1 2040.4 787.4 2135.4 788.1 2107.9 788.8 2140.2 789.2 2145.6 789.8 2075.2 790.4 2161.0 790.8 2047.8 791.2 2078.0 791.6 2168.4 792.1 2125.1 792.6 2032.0 793.6 2083.2 793.7 2130.9 794.1 2132.1 794.9 2037.3 795.0 2049.7 795.5 2153.5 796.1 2042.1 796.2 2151.2 797.2 2028.2 797.9 2133.7 798.0 2067.6 798.8 2129.5 799.1 2145.0 799.9 2078.9 800.0 2092.3 800.6 2163.5 801.0 2028.1 801.4 2153.5 802.7 2147.4 802.9 2074.9 803.1 2139.7 803.5 2086.7 803.9 2033.7 804.3 2383.5 805.2 2025.4 805.6 2152.9 806.5 2163.4 806.7 2046.3 807.3 2129.2 807.6 2062.6 808.1 2040.6 808.6 2140.5 809.3 2078.9 809.7 2116.6 810.5 2044.0 810.9 2147.0 811.6 2048.1 811.8 2086.8 812.6 2157.3 812.7 2097.7 813.0 2122.3 813.9 2149.0 814.1 2061.2 814.5 2112.2 815.1 2048.3 815.8 2131.7 816.1 2098.7 816.9 2144.2 817.5 2077.7 817.7 2110.2 817.9 2101.8 818.2 2064.4 819.4 2049.1 819.6 2156.3 820.6 2055.5 820.8 2157.1 821.1 2155.1 821.7 2069.6 822.1 2071.9 822.7 2141.0 822.9 2052.1 823.3 2136.8 824.4 2069.3 824.6 2150.4 825.1 2130.3 825.4 2073.8 826.7 2089.1 826.8 2113.1 827.1 2149.0 827.5 2069.4 828.3 2050.5 828.4 2130.7 829.5 2096.5 829.7 2051.0 830.0 2090.0 830.8 2148.9 831.2 2054.6 831.6 2152.4 832.2 2140.8 832.5 2086.9 833.5 2091.2 833.8 2117.3 834.0 2149.3 834.3 2053.8 835.4 2083.7 835.8 2150.2 836.3 2104.1 836.5 2139.0 836.9 2142.1 837.5 2097.8 838.2 2131.4 838.8 2084.2 838.9 2058.4 839.8 2248.6 839.9 2209.7 840.9 2107.0 841.1 2112.3 841.3 2068.3 842.3 2142.6 842.8 2077.9 843.4 2136.5 843.7 2078.1 844.0 2148.6 844.8 2072.2 845.7 2145.3 845.8 2076.6 846.0 2073.4 846.4 2143.5 847.2 2087.0 847.8 2147.3 847.9 2149.6 848.3 2064.8 849.0 2132.4 849.8 2069.4 850.2 2063.7 850.6 2122.9 851.7 2100.8 851.9 2143.3 852.1 2076.7 852.7 2124.1 853.0 2065.6 853.8 2199.3 854.0 2178.7 854.9 2098.6 855.1 2093.5 855.5 2147.2 856.1 2108.7 856.5 2143.6 857.4 2122.9 857.5 2139.8 857.9 2146.5 858.4 2095.0 859.1 2140.8 859.6 2085.0 860.3 2122.8 860.6 2085.9 861.0 2101.5 861.8 2203.1 862.1 2293.1 862.5 2088.4 863.0 2145.1 863.8 2103.2 864.2 2081.3 864.4 2143.0 865.1 2140.6 865.4 2086.5 866.2 2136.1 866.5 2093.8 866.9 2082.9 867.7 2128.2 868.2 2087.4 868.8 2138.6 869.2 2135.3 869.4 2104.8 870.1 2132.8 870.7 2112.2 871.4 2085.9 871.7 2130.1 871.9 2098.6 872.7 2142.4 873.0 2142.3 873.9 2082.5 874.3 2136.3 874.8 2092.0 874.9 2081.3 875.8 2150.6 876.1 2208.7 876.5 2087.0 877.3 2137.7 877.6 2083.7 878.2 2139.6 878.9 2099.6 879.0 2086.9 879.8 2127.4 880.0 2101.7 880.4 2136.1 881.0 2127.3 881.7 2082.6 882.1 2132.1 882.7 2090.1 883.1 2108.5 883.6 2080.8 884.4 2113.1 884.9 2081.3 885.0 2086.4 885.3 2123.0 886.2 2115.6 886.9 2083.6 887.4 2087.7 887.8 2114.9 888.0 2083.8 888.3 2130.0 889.2 2132.4 889.3 2090.8 890.3 2098.0 890.5 2124.5 891.2 2130.9 891.7 2100.0 892.0 2116.6 892.4 2089.7 893.0 2113.3 893.7 2206.3 893.9 2164.4 894.8 2105.6 895.2 2091.9 895.4 2127.9 896.3 2094.0 896.4 2135.3 897.2 2112.8 897.6 2127.7 898.5 2118.3 898.8 2133.3 899.0 2099.8 899.4 2125.1 900.0 2104.9 900.3 2126.7 901.0 2121.0 901.4 2136.4 902.3 2112.0 902.4 2132.2 903.8 2135.4 903.9 2102.6 904.0 2129.3 904.5 2102.6 905.2 2125.9 905.3 2104.9 906.5 2133.7 906.6 2104.6 906.9 2121.8 907.3 2136.4 907.9 2118.7 908.6 2133.8 909.1 2133.0 909.7 2115.2 910.0 2126.7 910.4 2104.9 911.1 2106.2 911.5 2130.5 912.3 2105.7 912.5 2128.8 913.2 2109.0 913.7 2132.0 914.1 2117.6 914.2 2129.0 915.0 2125.7 915.5 2113.8 915.9 2124.1 916.7 2105.6 917.0 2121.7 917.3 2107.8 917.9 2115.4 918.2 2124.0 919.0 2129.4 919.5 2192.6 920.0 2128.4 920.5 2109.6 921.3 2107.3 921.8 2133.9 922.8 2108.0 922.9 2136.3 923.5 2133.9 923.8 2110.0 924.1 2106.5 924.2 2126.9 925.5 2105.8 925.6 2124.6 925.9 2136.4 926.3 2117.2 927.1 2134.0 927.3 2110.6 928.0 2134.3 928.8 2111.4 929.2 2124.4 929.6 2130.3 930.0 2131.2 930.4 2113.9 931.0 2139.1 931.4 2144.9 931.9 2138.3 932.1 2113.2 933.1 2121.0 933.6 2137.7 934.0 2125.0 934.5 2135.8 934.9 2123.9 935.5 2114.2 936.0 2116.7 936.2 2129.6 937.2 2138.1 937.8 2116.1 938.2 2180.7 938.6 2117.9 939.3 2139.8 939.4 2118.1 940.4 2120.6 940.6 2136.0 941.0 2121.7 941.2 2137.9 942.3 2120.6 942.4 2131.7 942.9 2123.3 943.7 2133.3 944.2 2141.3 944.4 2123.0 945.3 2124.7 945.8 2141.5 945.9 2140.7 946.5 2123.0 947.1 2123.9 947.3 2137.7 947.9 2136.7 948.6 2125.0 949.2 2123.0 949.9 2172.6 950.1 2190.9 950.8 2134.5 951.6 2141.5 951.7 2123.8 952.2 2140.7 952.6 2124.2 953.0 2132.4 953.8 2141.1 954.6 2124.6 954.9 2142.3 955.2 2161.9 955.8 2130.2 955.9 2133.7 956.8 2128.7 957.0 2127.1 957.2 2137.9 958.1 2129.9 958.7 2139.2 959.0 2134.9 959.2 2141.5 960.4 2141.4 960.8 2129.3 961.4 2141.5 961.8 2129.6 962.3 2125.8 962.5 2136.3 963.0 2138.5 963.6 2126.9 964.4 2136.5 964.8 2141.5 965.6 2132.1 965.7 2140.7 966.4 2131.4 966.6 2139.7 966.9 2137.9 967.7 2125.5 968.0 2125.5 968.2 2134.9 969.3 2133.5 969.5 2128.8 969.9 2125.5 970.6 2167.1 971.1 2166.4 971.8 2131.6 972.3 2168.7 972.7 2126.0 972.9 2134.0 973.1 2129.5 974.5 2125.9 974.6 2140.3 975.2 2125.7 975.6 2138.3 975.9 2130.3 976.7 2141.5 977.4 2129.3 977.8 2139.9 977.9 2136.6 978.7 2125.9 979.2 2126.0 979.7 2140.6 980.0 2128.6 980.8 2133.6 980.9 2126.1 981.3 2141.3 982.0 2144.3 982.5 2161.9 983.2 2126.9 983.5 2137.0 984.2 2141.6 984.6 2127.7 985.3 2130.2 985.8 2141.1 985.9 2140.7 986.8 2127.6 987.0 2127.1 987.7 2141.2 988.0 2137.6 988.3 2131.1 989.6 2142.1 989.8 2129.7 990.5 2128.5 990.8 2138.4 991.5 2128.0 991.8 2132.9 992.1 2129.8 992.3 2141.6 993.2 2143.0 993.8 2129.9 993.9 2143.0 994.3 2128.6 995.3 2141.3 995.5 2129.0 996.1 2143.0 996.7 2130.1 997.2 2132.4 997.4 2139.2 998.1 2129.3 998.7 2141.8 999.4 2130.6 999.8 2139.2 1000.6 2136.7 1000.8 2147.2 1001.1 2156.8 1001.9 2127.7 1002.0 2128.1 1002.3 2138.8 1003.3 2126.0 1003.6 2135.3 1004.0 2137.5 1004.3 2124.0 1005.0 2126.8 1005.8 2138.9 1006.0 2127.2 1006.1 2138.4 1007.0 2129.9 1007.8 2139.6 1008.1 2136.6 1008.4 2125.0 1009.2 2143.1 1009.8 2125.4 1010.1 2142.6 1010.5 2130.2 1011.1 2139.1 1011.7 2134.4 1012.2 2135.4 1012.4 2141.6 1013.0 2143.3 1013.7 2127.2 1014.1 2135.8 1014.7 2158.5 1015.0 2152.7 1015.4 2133.7 1016.7 2140.4 1016.8 2131.5 1017.0 2127.5 1017.6 2143.9 1018.3 2136.1 1018.5 2142.1 1019.1 2141.1 1019.3 2128.6 1020.4 2128.6 1020.6 2138.4 1021.0 2136.4 1021.7 2144.9 1022.7 2144.8 1022.9 2134.2 1023.0 2131.8 1023.5 2140.6 1023.9 2140.8 1024.2 2133.9 1025.0 2143.1 1025.6 2139.1 1026.0 2135.6 1026.1 2143.7 1027.2 2135.7 1027.4 2144.6 1028.6 2142.5 1028.8 2139.3 1029.1 2142.9 1029.5 2140.0 1030.3 2140.6 1030.7 2143.2 1031.2 2142.7 1031.6 2140.5 1032.4 2144.7 1032.8 2141.5 1033.6 2141.1 1033.9 2143.7 1034.0 2144.6 1034.8 2139.4 1035.2 2139.1 1035.7 2142.5 1036.5 2145.1 1036.7 2139.5 1037.1 2140.1 1037.8 2144.2 1038.2 2139.8 1038.7 2144.9 1039.6 2139.1 1039.9 2143.5 1040.5 2143.8 1040.8 2140.6 1041.5 2141.4 1041.7 2142.9 1042.4 2145.7 1042.6 2143.3 1043.6 2139.3 1043.8 2146.2 1044.1 2145.9 1044.2 2139.8 1045.1 2144.2 1045.8 2141.0 1046.4 2140.2 1046.7 2146.4 1047.0 2145.7 1047.6 2139.1 1048.1 2144.7 1048.8 2139.4 1049.1 2139.2 1049.5 2145.5 1050.0 2146.3 1050.4 2139.9 1051.3 2139.3 1051.7 2144.5 1051.9 2145.9 1052.2 2140.5 1053.0 2145.6 1053.6 2140.4 1054.2 2143.5 1054.7 2139.5 1055.0 2144.9 1055.6 2139.6 1056.0 2144.6 1056.8 2141.3 1056.9 2145.1 1057.3 2141.5 1058.0 2145.1 1058.9 2139.3 1059.0 2140.0 1059.7 2144.4 1060.2 2139.5 1060.5 2145.3 1061.0 2145.2 1061.4 2139.9 1062.3 2144.6 1062.6 2139.1 1063.2 2142.3 1063.7 2144.8 1064.0 2144.5 1064.1 2140.4 1065.2 2143.1 1065.6 2138.8 1066.6 2142.7 1066.9 2137.5 1067.7 2144.5 1067.8 2140.3 1068.1 2136.4 1068.8 2144.0 1069.0 2135.6 1069.6 2144.1 1070.3 2139.2 1070.5 2134.9 1071.2 2139.5 1071.9 2135.1 1072.4 2133.9 1072.8 2144.2 1073.2 2144.0 1073.4 2136.7 1074.2 2133.9 1074.3 2141.9 1075.3 2137.4 1075.8 2145.9 1075.9 2146.6 1076.6 2136.5 1077.4 2134.5 1077.9 2141.9 1078.1 2144.7 1078.4 2141.0 1079.7 2137.5 1079.9 2141.6 1080.5 2143.6 1080.6 2135.6 1080.9 2139.3 1081.0 2144.2 1081.9 2138.5 1082.3 2142.2 1083.1 2141.6 1083.8 2136.5 1083.9 2135.1 1084.6 2139.7 1085.1 2144.5 1085.5 2137.1 1086.3 2141.7 1086.5 2135.1 1087.2 2142.0 1087.6 2133.9 1088.1 2132.8 1088.9 2144.2 1089.5 2131.9 1089.8 2143.3 1090.5 2128.6 1090.9 2136.4 1091.3 2138.4 1091.8 2132.2 1092.0 2133.8 1092.2 2143.0 1093.3 2143.7 1093.9 2126.2 1094.4 2126.7 1094.7 2137.6 1095.2 2123.0 1095.4 2134.2 1096.2 2142.3 1096.6 2121.4 1097.0 2136.6 1097.4 2125.7 1098.7 2142.4 1098.9 2121.6 1099.0 2125.1 1099.8 2151.7 1099.9 2149.8 1100.8 2115.3 1100.9 2114.8 1101.6 2125.6 1102.3 2113.6 1102.6 2134.8 1103.2 2138.9 1103.6 2113.5 1104.2 2132.1 1104.7 2117.0 1105.0 2140.1 1105.3 2114.7 1105.9 2130.2 1106.8 2109.5 1107.4 2131.0 1107.8 2115.2 1108.4 2108.8 1108.5 2122.4 1109.1 2124.7 1109.6 2152.4 1110.0 2151.7 1110.5 2121.6 1111.3 2127.7 1111.7 2151.7 1112.0 2139.5 1112.9 2106.5 1113.0 2117.1 1113.3 2136.5 1114.3 2123.0 1114.4 2112.7 1115.0 2118.8 1115.5 2106.2 1116.3 2132.6 1116.5 2106.2 1117.1 2130.1 1117.7 2109.0 1118.0 2119.3 1118.8 2131.9 1119.4 2119.0 1119.7 2104.5 1120.3 2104.4 1120.9 2130.4 1121.4 2135.6 1121.6 2117.3 1122.2 2134.0 1122.7 2109.1 1123.2 2134.2 1123.4 2107.4 1124.1 2135.3 1124.3 2103.7 1125.2 2130.9 1125.6 2104.6 1126.1 2107.0 1126.4 2131.8 1127.0 2130.8 1127.8 2111.8 1128.1 2105.3 1128.3 2133.6 1129.0 2106.1 1129.2 2134.1 1130.3 2126.5 1130.4 2103.8 1131.2 2128.7 1131.7 2109.2 1132.5 2127.5 1132.7 2101.8 1132.9 2133.8 1133.6 2111.7 1134.2 2111.9 1134.8 2130.0 1135.0 2134.4 1135.1 2119.6 1136.3 2107.9 1136.7 2134.3 1137.2 2125.8 1137.9 2117.0 1138.0 2112.3 1138.8 2145.2 1138.9 2148.3 1139.9 2118.8 1140.1 2110.1 1140.8 2134.6 1141.0 2128.6 1141.7 2101.0 1142.2 2124.4 1142.7 2100.9 1143.7 2124.8 1143.8 2110.3 1144.3 2106.7 1144.7 2130.9 1145.2 2118.1 1145.8 2133.9 1146.4 2111.7 1146.8 2135.8 1146.9 2119.6 1147.7 2098.9 1148.5 2126.2 1148.8 2102.6 1149.2 2136.4 1149.6 2105.3 1150.2 2115.1 1150.9 2095.9 1151.3 2121.8 1151.5 2093.9 1152.0 2134.7 1152.3 2092.3 1153.1 2092.2 1153.4 2113.8 1154.3 2091.8 1154.7 2117.2 1155.1 2112.4 1155.8 2155.7 1156.4 2159.4 1156.9 2088.6 1157.4 2119.5 1157.7 2082.8 1158.2 2129.6 1158.6 2065.7 1159.6 2093.9 1159.8 2138.0 1159.9 2092.5 1160.0 2120.7 1161.2 2098.2 1161.7 2118.8 1162.1 2091.3 1162.5 2109.3 1163.4 2131.4 1163.7 2090.3 1164.6 2116.6 1164.8 2093.1 1165.0 2124.3 1165.8 2088.8 1165.9 2098.2 1166.6 2124.8 1167.1 2089.2 1167.2 2124.4 1168.0 2110.7 1168.4 2085.7 1169.3 2082.9 1169.9 2111.0 1170.1 2082.8 1170.5 2111.8 1170.9 2084.6 1171.7 2104.4 1172.0 2077.3 1172.7 2113.5 1173.3 2087.2 1173.8 2148.3 1174.1 2211.0 1174.8 2076.1 1175.0 2084.1 1175.5 2101.8 1176.0 2096.1 1176.5 2075.0 1176.9 2111.7 1177.7 2083.2 1178.1 2101.9 1178.6 2072.9 1179.0 2089.3 1179.4 2056.0 1180.2 2069.8 1180.6 2105.4 1181.0 2053.7 1181.3 2111.5 1182.2 2164.1 1182.8 2055.3 1183.0 2046.3 1183.5 2106.7 1184.1 2044.9 1184.8 2100.0 1185.3 2107.4 1185.9 2054.6 1186.1 2040.3 1186.4 2103.6 1187.4 2049.5 1187.8 2121.4 1188.1 2154.7 1188.7 2061.4 1189.1 2049.1 1189.7 2092.0 1189.9 2052.3 1190.3 2103.8 1191.1 2073.4 1191.6 2053.9 1192.4 2099.9 1192.7 2033.9 1193.7 2037.1 1193.8 2081.1 1194.0 2075.2 1194.4 2102.1 1195.0 2089.5 1195.4 2059.2 1195.9 2107.6 1196.3 2066.0 1197.2 2056.1 1197.8 2092.1 1197.9 2109.4 1198.6 2067.3 1199.0 2107.7 1199.1 2061.6 1200.1 2061.4 1200.5 2086.0 1201.2 2047.0 1201.7 2085.3 1202.8 2104.5 1202.9 2048.8 1203.3 2189.9 1203.7 2048.3 1204.3 2046.9 1204.8 2092.3 1205.6 2087.2 1205.8 2049.4 1205.9 2107.6 1206.0 2038.9 1206.9 2042.9 1207.3 2086.1 1208.1 2042.6 1208.6 2082.9 1209.2 2097.1 1209.8 2050.5 1210.5 2064.4 1210.9 2030.8 1211.7 2029.7 1211.8 2040.7 1212.1 2106.9 1212.4 2062.4 1213.1 2040.2 1213.8 2099.0 1214.2 2036.9 1214.3 2094.9 1214.9 2034.2 1215.7 2103.4 1216.4 2032.3 1216.5 2086.6 1217.2 2052.1 1217.6 2105.6 1218.0 2032.6 1218.6 2101.0 1219.0 2047.0 1219.8 2182.9 1219.9 2157.7 1220.4 2028.7 1221.0 2034.3 1221.2 2102.2 1222.3 2104.2 1222.7 2032.1 1223.1 2039.5 1223.6 2097.0 1224.1 2033.3 1224.8 2090.1 1225.0 2071.2 1225.7 2032.9 1226.3 2103.0 1226.7 2033.2 1227.4 2076.9 1227.8 2048.9 1227.9 2085.9 1228.6 2044.2 1229.0 2022.7 1229.6 2093.7 1230.1 2023.4 1230.7 2098.1 1231.4 2079.6 1231.7 2024.7 1232.5 2089.5 1232.9 2027.8 1233.0 2069.9 1233.8 2029.0 1234.1 2043.2 1234.5 2096.3 1235.2 2052.7 1235.8 2095.5 1236.0 2095.8 1236.8 2040.2 1237.7 2033.9 1237.9 2093.3 1238.1 2101.2 1238.7 2031.7 1239.4 2099.4 1239.6 2052.1 1240.0 2070.9 1240.7 2101.4 1241.1 2094.1 1241.7 2026.6 1241.9 2052.3 1242.8 2102.4 1243.2 2128.9 1243.8 2054.5 1244.2 2092.6 1244.3 2050.5 1245.1 2080.8 1245.7 2037.1 1246.3 2028.5 1246.4 2079.1 1247.3 2026.8 1247.8 2098.9 1248.0 2056.3 1248.6 2089.9 1249.0 2023.7 1249.7 2100.6 1249.9 2029.8 1250.1 2095.4 1251.0 2091.9 1251.6 2045.3 1252.5 2025.5 1252.8 2089.5 1253.1 2025.4 1253.2 2072.1 1254.0 2052.5 1254.8 2111.3 1254.9 2119.5 1255.4 2061.3 1255.9 2075.2 1256.3 2024.3 1257.1 2029.5 1257.4 2102.0 1258.0 2041.5 1258.8 2094.8 1259.7 2031.5 1259.9 2091.8 1260.1 2081.8 1260.5 2034.3 1261.5 2025.3 1261.8 2093.4 1262.4 2072.2 1262.5 2019.7 1263.4 2020.5 1263.8 2068.0 1263.9 2082.7 1264.1 2049.4 1265.3 2057.4 1265.5 2031.2 1266.3 2050.4 1266.7 2088.6 1267.0 2071.2 1267.9 2121.8 1268.0 2115.8 1268.4 2038.8 1268.9 2098.8 1269.8 2033.9 1270.0 2097.6 1270.6 2061.8 1271.1 2050.9 1271.5 2101.6 1271.9 2086.2 1272.6 2047.7 1273.0 2076.2 1273.1 2048.0 1274.2 2046.6 1274.8 2093.3 1275.1 2060.0 1275.3 2100.6 1276.5 2078.5 1276.7 2096.7 1276.9 2094.9 1277.0 2071.8 1278.1 2093.6 1278.7 2059.4 1279.0 2085.8 1279.1 2070.0 1280.1 2073.9 1280.7 2171.1 1281.0 2130.3 1281.8 2060.3 1282.0 2063.6 1282.3 2085.8 1282.9 2072.3 1283.7 2094.0 1284.2 2090.2 1284.8 2064.1 1285.3 2097.6 1285.8 2055.8 1286.2 2103.5 1286.9 2048.1 1287.0 2049.9 1287.4 2099.2 1287.9 2054.6 1288.2 2100.7 1289.5 2037.5 1289.8 2074.3 1290.3 2085.8 1290.4 2047.7 1291.3 2106.0 1291.8 2062.3 1292.6 2041.7 1292.8 2083.0 1293.2 2021.2 1293.6 2087.3 1293.9 2029.7 1294.9 2236.8 1295.0 2177.1 1295.5 2016.1 1296.4 2106.8 1296.7 2021.0 1297.4 2042.7 1297.9 2072.3 1298.1 2015.6 1298.5 2057.5 1299.1 2038.3 1299.3 2077.2 1300.2 2109.9 1300.4 2060.2 1301.0 2101.2 1301.3 2018.4 1301.9 2073.3 1302.6 2034.8 1303.5 2076.6 1303.6 2016.0 1304.2 2024.6 1304.4 2087.3 1305.5 2102.6 1305.9 2038.3 1306.3 2050.2 1306.7 2105.4 1307.2 2105.7 1307.4 2023.2 1308.6 2100.0 1308.9 2027.9 1309.1 2034.3 1309.7 2065.8 1310.1 2058.2 1310.6 2080.5 1311.0 2037.4 1311.2 2098.6 1312.2 2039.0 1312.6 2093.0 1313.1 2100.6 1313.9 2058.8 1314.1 2057.2 1314.8 2178.2 1314.9 2160.0 1315.6 2060.6 1316.0 2073.6 1316.6 2031.8 1317.0 2040.5 1317.7 2101.3 1318.1 2050.4 1318.8 2095.5 1319.1 2025.2 1319.8 2104.3 1320.0 2059.8 1320.5 2025.4 1321.5 2025.4 1321.9 2103.4 1322.2 2095.8 1322.6 2046.1 1322.9 2048.6 1323.3 2099.3 1324.2 2020.7 1324.3 2095.5 1325.3 2025.3 1325.7 2100.0 1326.4 2014.7 1326.6 2080.5 1327.1 2094.7 1327.6 2038.5 1328.3 2008.0 1328.8 2316.6 1328.9 2277.1 1329.7 2039.0 1330.0 2073.1 1330.9 2043.4 1331.3 2034.2 1331.8 2073.9 1332.1 2052.7 1332.7 2095.8 1333.1 2013.3 1333.4 2096.1 1334.2 2028.3 1334.8 2094.4 1335.2 2109.4 1335.3 1999.9 1336.1 2051.2 1336.7 2091.1 1337.2 2013.5 1337.7 2074.7 1338.6 2098.7 1338.9 1996.7 1339.0 2031.1 1339.4 2094.3 1340.3 2012.6 1340.7 2076.6 1341.0 2113.2 1341.5 2051.2 1341.9 2094.2 1342.8 1999.6 1343.1 2099.4 1343.7 2023.9 1344.1 2097.9 1344.8 2000.3 1344.9 2095.0 1345.7 1987.8 1346.0 2010.0 1346.5 2054.2 1347.3 1995.4 1347.8 2081.0 1348.1 2044.9 1348.6 2010.1 1349.0 2003.0 1349.1 2075.1 1350.0 2032.5 1350.7 2086.7 1350.9 2075.6 1351.1 2032.5 1352.0 2070.1 1352.5 2005.1 1353.0 2080.7 1353.2 2013.0 1354.3 2076.7 1354.9 2022.6 1355.1 2022.7 1355.5 2079.6 1356.2 2051.7 1356.7 2015.8 1357.0 2019.5 1357.5 2066.7 1358.3 2018.0 1358.4 2072.8 1359.3 2016.3 1359.6 2049.8 1360.2 2018.0 1360.6 2045.3 1361.2 2155.9 1361.6 2056.5 1361.9 2073.0 1362.9 2030.3 1363.0 2035.9 1363.3 2073.7 1364.4 2040.8 1364.7 2092.2 1365.2 2077.8 1365.7 2048.1 1366.5 2070.8 1366.7 2040.8 1367.1 2041.1 1367.5 2089.1 1368.0 2099.9 1368.8 2086.6 1369.0 2090.8 1369.4 2043.4 1370.2 2160.5 1370.9 2069.7 1371.2 2055.1 1371.4 2113.8 1372.3 2099.4 1372.8 2045.1 1373.1 2108.2 1373.9 2048.6 1374.4 2130.9 1374.8 2111.0 1375.2 2104.3 1375.7 2044.3 1376.2 2082.5 1376.6 2041.6 1377.3 2061.7 1377.5 2036.4 1378.2 2075.5 1378.3 2028.8 1379.2 2151.4 1379.5 2069.6 1380.0 2097.0 1380.4 2050.1 1380.9 2097.8 1381.2 2039.0 1382.1 2049.2 1382.4 2097.3 1383.2 2099.1 1383.6 2062.5 1384.2 2102.4 1384.6 2073.2 1385.7 2087.2 1385.8 2067.6 1386.2 2058.3 1386.8 2106.4 1387.0 2108.1 1387.9 2076.7 1388.2 2096.2 1388.4 2068.0 1389.3 2096.0 1389.9 2055.7 1390.4 2064.7 1390.8 2098.0 1391.2 2099.0 1391.8 2071.9 1392.0 2054.0 1392.9 2082.6 1393.3 2094.6 1393.5 2063.4 1394.4 2060.1 1394.8 2090.5 1395.1 2058.5 1395.9 2087.5 1396.4 2071.6 1396.8 2093.6 1397.2 2095.1 1397.5 2071.7 1398.0 2093.0 1398.2 2085.0 1399.2 2085.7 1399.8 2103.7 1400.1 2086.3 1400.7 2167.3 1401.0 2119.7 1401.1 2083.9 1401.9 2091.7 1402.4 2102.2 1403.2 2081.7 1403.7 2110.5 1404.0 2103.3 1404.8 2134.2 1404.9 2142.3 1405.7 2088.9 1406.4 2095.7 1406.9 2116.0 1407.2 2116.9 1407.5 2094.7 1408.2 2108.2 1408.5 2080.9 1409.4 2098.3 1409.5 2081.1 1410.4 2089.3 1410.7 2116.4 1411.0 2105.8 1411.9 2071.8 1412.1 2075.7 1412.4 2095.3 1413.3 2148.0 1413.8 2076.8 1414.2 2118.6 1414.5 2077.1 1415.1 2115.1 1415.3 2089.5 1416.3 2121.8 1416.7 2090.7 1417.8 2123.0 1417.9 2086.1 1418.7 2102.4 1418.8 2125.6 1419.3 2130.9 1419.9 2114.2 1420.1 2105.8 1420.4 2120.6 1421.3 2095.6 1421.4 2125.0 1422.0 2125.3 1422.3 2103.1 1423.3 2100.1 1423.8 2125.3 1424.1 2126.3 1424.7 2116.2 1425.0 2124.2 1425.9 2107.2 1426.1 2120.1 1426.4 2104.3 1427.2 2102.0 1427.6 2115.5 1428.5 2105.1 1428.6 2120.3 1428.9 2122.7 1429.4 2104.6 1430.1 2107.7 1430.6 2120.0 1431.0 2115.3 1431.4 2121.8 1431.9 2119.1 1432.8 2110.2 1433.4 2113.2 1433.6 2119.4 1434.7 2118.3 1434.8 2110.8 1435.1 2108.6 1435.2 2120.0 1436.0 2120.7 1436.9 2108.4 1437.0 2119.2 1437.4 2108.9 1437.9 2108.3 1438.5 2125.2 1439.5 2106.2 1439.6 2124.3 1440.6 2104.6 1440.8 2112.0 1441.5 2122.0 1441.7 2109.4 1442.4 2105.5 1442.5 2120.1 1442.9 2107.1 1443.8 2120.6 1444.1 2123.8 1444.9 2103.4 1445.5 2116.9 1445.8 2125.3 1445.9 2117.7 1446.9 2178.7 1447.0 2164.2 1447.8 2112.5 1448.2 2123.5 1448.6 2106.5 1448.9 2124.4 1449.2 2111.3 1450.0 2124.4 1450.7 2106.2 1451.4 2102.8 1451.8 2125.3 1452.0 2103.2 1452.9 2125.2 1453.1 2118.1 1453.3 2106.0 1454.2 2107.6 1454.6 2126.3 1455.5 2111.9 1455.8 2124.4 1456.2 2108.6 1456.4 2126.5 1457.1 2114.1 1457.7 2127.1 1458.4 2127.3 1458.8 2106.5 1458.9 2106.4 1459.8 2159.7 1460.0 2178.7 1460.9 2112.0 1461.3 2126.5 1461.8 2109.2 1462.0 2120.5 1462.7 2113.4 1463.0 2108.5 1463.8 2127.7 1464.5 2129.8 1464.8 2108.6 1464.9 2122.7 1465.6 2109.1 1466.2 2115.9 1466.8 2135.6 1467.2 2240.2 1467.8 2122.4 1468.3 2112.3 1468.7 2126.5 1469.4 2114.7 1469.5 2134.0 1470.0 2132.2 1470.6 2114.9 1471.4 2131.4 1471.9 2112.4 1472.1 2109.0 1472.5 2126.4 1473.2 2105.1 1473.3 2127.7 1474.2 2099.6 1474.9 2127.4 1475.2 2124.9 1475.5 2108.2 1476.1 2105.7 1476.3 2118.3 1477.2 2110.5 1477.8 2122.9 1478.2 2121.9 1478.4 2127.4 1479.2 2114.9 1479.9 2125.7 1480.3 2118.8 1480.8 2125.0 1481.4 2124.6 1481.7 2131.8 1482.0 2123.0 1482.6 2132.9 1483.0 2119.9 1483.7 2128.6 1484.1 2133.0 1484.5 2124.6 1485.4 2133.9 1485.5 2122.0 1486.0 2122.4 1486.8 2130.0 1487.7 2125.6 1487.9 2137.3 1488.1 2146.8 1488.8 2130.5 1488.9 2125.3 1489.4 2134.5 1490.4 2133.7 1490.9 2128.6 1491.1 2131.2 1491.5 2126.8 1491.9 2128.2 1492.2 2132.5 1493.6 2129.4 1493.8 2125.5 1494.2 2125.4 1494.8 2128.9 1495.2 2129.6 1495.5 2124.5 1496.0 2130.3 1496.1 2125.5 1497.6 2123.5 1497.8 2130.3 1498.0 2124.1 1498.6 2130.3 1499.0 2129.5 1499.4 2121.4 1500.6 2128.3 1500.8 2122.1 1501.1 2127.1 1501.8 2121.5 1502.1 2119.5 1502.4 2128.9 1503.3 2126.3 1503.6 2119.4 1504.0 2118.8 1504.2 2125.4 1505.7 2115.3 1505.8 2127.0 1506.1 2123.1 1506.6 2114.3 1507.1 2128.0 1507.8 2119.1 1508.3 2123.9 1508.8 2109.4 1509.1 2129.0 1509.7 2113.5 1510.3 2128.1 1510.8 2116.2 1511.2 2115.3 1511.6 2123.2 1512.2 2121.6 1512.8 2124.9 1513.0 2129.5 1513.1 2119.9 1514.6 2121.4 1514.9 2130.7 1515.1 2123.0 1515.5 2127.8 1515.9 2124.0 1516.4 2129.9 1517.5 2123.2 1517.9 2131.0 1518.0 2131.0 1518.5 2123.4 1519.3 2123.8 1519.7 2130.5 1520.1 2125.0 1520.2 2130.8 1521.5 2132.0 1521.8 2127.6 1522.3 2124.1 1522.8 2129.5 1523.1 2132.4 1523.2 2124.6 1524.0 2127.9 1524.8 2124.6 1525.2 2132.7 1525.3 2125.5 1526.1 2125.5 1526.5 2129.0 1527.4 2125.4 1527.6 2131.7 1528.2 2128.9 1528.6 2124.6 1529.0 2125.6 1529.5 2130.5 1530.3 2125.0 1530.7 2131.8 1531.1 2133.1 1531.9 2125.3 1532.0 2125.8 1532.5 2132.9 1533.2 2125.5 1533.6 2127.6 1534.5 2125.6 1534.6 2130.2 1535.3 2132.9 1535.7 2125.2 1536.1 2126.3 1536.5 2130.5 1537.0 2126.9 1537.8 2132.6 1538.0 2133.1 1538.8 2126.7 1539.1 2126.0 1539.2 2132.2 1540.3 2125.8 1540.4 2132.0 1541.6 2130.5 1541.8 2126.6 1542.1 2127.8 1542.6 2130.3 1543.5 2131.5 1543.7 2126.5 1544.1 2126.5 1544.5 2157.1 1545.4 2129.7 1545.8 2127.5 1546.3 2130.3 1546.6 2126.0 1547.3 2125.4 1547.6 2130.8 1548.4 2131.5 1548.7 2122.2 1549.6 2130.2 1549.7 2120.8 1550.0 2122.9 1550.5 2119.1 1551.4 2118.4 1551.8 2129.1 1552.3 2118.5 1552.5 2132.2 1553.4 2130.1 1553.8 2117.5 1554.2 2131.7 1554.8 2121.3 1555.2 2117.8 1555.7 2133.7 1556.0 2119.4 1556.1 2128.9 1557.2 2121.1 1557.7 2129.3 1558.0 2133.5 1558.1 2119.4 1559.4 2131.6 1559.8 2124.8 1560.1 2125.4 1560.4 2132.7 1561.4 2130.4 1561.9 2127.2 1562.4 2129.5 1562.8 2122.7 1563.1 2126.1 1563.7 2133.1 1564.1 2133.8 1564.6 2125.1 1565.4 2132.3 1565.8 2123.7 1566.3 2124.0 1566.7 2133.0 1567.5 2134.3 1567.7 2124.0 1567.9 2133.4 1568.2 2124.7 1569.2 2132.1 1569.9 2126.1 1570.0 2123.9 1570.5 2130.4 1571.1 2127.5 1571.8 2122.3 1572.0 2126.0 1572.6 2122.3 1572.9 2124.9 1573.8 2131.6 1574.1 2132.1 1574.9 2124.7 1575.1 2124.4 1575.3 2129.8 1576.3 2134.0 1576.7 2126.8 1577.0 2122.7 1577.2 2132.3 1578.1 2130.1 1578.5 2123.7 1578.9 2122.6 1579.8 2130.1 1580.1 2130.5 1580.8 2126.8 1581.0 2125.4 1581.2 2130.0 1582.2 2125.5 1582.6 2134.2 1583.0 2128.7 1583.8 2131.8 1584.0 2134.3 1584.6 2130.5 1585.1 2132.7 1585.3 2129.6 1586.0 2129.6 1586.3 2133.2" stroke="#C00000" stroke-width="3" stroke-dasharray="12 4" stroke-opacity="0.8" fill="none" stroke-linejoin="round"/>
<path clip-path="url(#ce)" d="M1483.0 2042.5 1483.9 2043.7 1484.1 2044.1 1484.7 2047.5 1485.1 2046.0 1485.5 2049.4 1486.4 2044.6 1486.8 2061.0 1487.3 2049.3 1488.0 2059.4 1488.4 2067.9 1488.8 2045.2 1489.3 2060.8 1489.8 2043.4 1490.3 2041.4 1490.7 2058.7 1491.4 2052.9 1491.8 2066.2 1492.6 2043.5 1493.0 2057.9 1493.1 2046.1 1493.6 2054.6 1494.3 2058.2 1494.4 2041.8 1495.1 2051.7 1495.2 2055.1 1496.1 2057.9 1496.8 2039.8 1497.2 2041.1 1497.8 2057.1 1498.3 2045.7 1498.5 2056.9 1499.3 2043.5 1499.6 2055.5 1500.0 2048.5 1500.8 2040.5 1501.1 2043.9 1501.9 2051.0 1502.1 2048.8 1502.5 2041.3 1503.7 2039.6 1504.0 2046.5 1504.4 2051.7 1504.8 2035.2 1505.3 2034.6 1505.7 2046.7 1506.1 2048.9 1506.6 2037.5 1507.8 2034.0 1507.9 2044.5 1508.3 2046.2 1508.6 2033.9 1509.5 2052.5 1509.7 2037.0 1510.1 2053.5 1510.9 2038.9 1511.8 2036.3 1512.0 2054.6 1512.1 2044.4 1512.7 2054.5 1513.3 2035.3 1513.9 2051.6 1514.2 2038.2 1514.4 2055.2 1515.4 2056.7 1515.9 2047.2 1516.4 2054.9 1516.7 2044.1 1517.3 2048.8 1518.0 2053.6 1518.8 2046.8 1518.9 2055.4 1519.7 2045.8 1520.0 2054.1 1520.1 2054.9 1521.0 2050.0 1521.1 2046.4 1521.9 2054.4 1522.0 2053.8 1523.0 2047.8 1523.4 2052.3 1523.5 2049.1 1524.5 2053.8 1524.8 2047.0 1525.6 2051.9 1525.7 2049.4 1526.1 2049.6 1526.4 2053.2 1527.6 2046.9 1527.9 2053.5 1528.2 2049.4 1528.7 2046.4 1529.1 2052.7 1529.8 2047.2 1530.7 2053.1 1530.8 2048.5 1531.4 2053.9 1531.6 2047.5 1532.3 2048.2 1532.9 2051.6 1533.3 2052.7 1533.6 2048.2 1534.4 2046.8 1534.9 2052.0 1535.3 2053.4 1535.8 2047.1 1536.1 2050.3 1536.7 2054.6 1537.5 2052.6 1537.8 2049.2 1538.6 2053.0 1539.0 2050.1 1539.1 2051.6 1539.2 2046.5 1540.7 2051.9 1540.8 2047.4 1541.0 2052.2 1541.3 2055.0 1542.1 2049.4 1542.8 2054.6 1543.3 2048.3 1543.9 2053.2 1544.5 2080.7 1545.0 2050.5 1545.1 2054.9 1545.5 2050.2 1546.0 2048.7 1546.9 2053.6 1547.1 2054.4 1547.2 2051.4 1548.3 2055.4 1548.8 2043.5 1549.2 2048.2 1550.0 2041.6 1550.6 2052.4 1550.9 2044.0 1551.1 2040.6 1551.3 2053.6 1552.6 2054.1 1553.0 2043.1 1553.2 2038.8 1553.9 2045.2 1554.1 2047.8 1554.5 2054.4 1555.1 2050.1 1555.3 2042.5 1556.1 2048.4 1556.6 2052.7 1557.7 2042.6 1557.8 2053.3 1558.2 2043.6 1558.6 2052.1 1559.4 2044.1 1559.5 2053.4 1560.2 2044.8 1560.7 2052.4 1561.2 2052.7 1561.4 2047.8 1562.1 2045.7 1562.8 2052.0 1563.2 2051.2 1563.5 2046.8 1564.4 2047.3 1564.6 2049.5 1565.0 2048.8 1565.8 2052.4 1566.6 2052.0 1566.9 2050.7 1567.3 2049.9 1567.5 2051.2 1568.0 2051.1 1568.7 2051.6 1569.6 2051.3 1569.9 2049.7 1570.1 2051.7 1570.7 2048.7 1571.3 2050.8 1572.0 2048.1 1572.2 2050.6 1572.6 2048.5 1573.0 2046.8 1573.1 2048.2 1574.9 2051.0 1575.0 2044.5 1575.2 2044.1 1575.5 2050.2 1576.0 2049.3 1576.3 2045.2 1577.2 2047.4 1577.9 2042.2 1578.1 2046.0 1578.5 2048.9 1579.3 2042.9 1579.7 2048.5 1580.1 2050.1 1580.9 2042.4 1581.4 2048.7 1581.5 2041.5 1582.3 2046.4 1582.7 2041.4 1583.2 2049.5 1583.4 2042.1 1584.2 2042.2 1584.4 2048.5 1585.6 2048.8 1585.7 2041.7 1586.6 2043.9 1586.8 2048.6 1587.2 2048.6 1588.0 2045.0 1588.2 2041.3 1588.5 2048.4 1589.3 2045.1 1589.7 2042.9 1590.7 2040.3 1591.0 2045.6 1591.2 2047.0 1591.8 2039.5 1592.0 2039.8 1592.4 2044.3 1593.1 2046.0 1593.3 2040.3 1594.2 2046.2 1594.6 2041.2 1595.2 2041.5 1595.3 2046.2 1596.2 2040.5 1596.9 2045.7 1597.5 2045.1 1597.9 2038.8 1598.0 2042.3 1598.6 2038.2 1599.4 2044.3 1599.9 2039.5 1600.4 2044.1 1600.7 2038.0 1601.1 2045.0 1601.7 2036.4 1602.5 2035.6 1602.8 2039.9 1603.2 2035.2 1603.4 2041.7 1604.2 2039.3 1604.6 2041.8 1605.4 2033.6 1605.6 2041.9 1606.3 2034.5 1606.4 2040.8 1607.3 2040.8 1608.0 2031.8 1608.3 2032.0 1608.7 2039.0 1609.3 2032.2 1609.8 2039.8 1610.4 2042.1 1610.8 2028.9 1611.0 2031.1 1611.5 2041.1 1612.3 2031.9 1612.5 2042.3 1613.1 2027.0 1613.4 2043.4 1614.2 2044.5 1614.9 2033.5 1615.6 2026.1 1616.0 2037.3 1616.4 2043.2 1616.9 2029.3 1617.3 2029.8 1617.7 2047.8 1618.7 2023.0 1618.9 2045.7 1619.1 2043.9 1619.7 2021.2 1620.4 2021.2 1620.8 2029.3 1621.1 2014.5 1621.9 2048.7 1622.4 2084.0 1622.9 2027.2 1623.5 2015.0 1623.6 2026.7 1624.1 2021.7 1624.4 2040.0 1625.8 2015.0 1626.0 2035.1 1626.1 2042.3 1626.5 2017.2 1627.5 2016.4 1627.8 2035.4 1628.0 2040.0 1628.6 2023.3 1629.1 2027.6 1629.2 2041.6 1630.0 2037.3 1630.3 2021.1 1631.1 2026.0 1631.7 2039.6 1632.5 2020.2 1632.8 2037.8 1633.0 2028.9 1633.3 2020.5 1634.1 2028.6 1634.5 2036.1 1635.4 2020.8 1635.8 2038.5 1636.7 2039.7 1636.8 2020.8 1637.1 2028.7 1637.5 2039.5 1638.4 2026.8 1638.9 2038.8 1639.4 2037.9 1639.8 2019.4 1640.2 2037.7 1640.8 2029.8 1641.5 2018.7 1641.7 2037.5 1642.1 2024.3 1643.0 2033.5 1643.5 2035.2 1643.8 2028.4 1644.6 2019.5 1644.9 2033.7 1645.5 2014.7 1646.0 2033.0 1646.3 2035.0 1646.9 2024.8 1647.3 2016.3 1647.6 2032.6 1648.2 2010.0 1648.4 2030.5 1649.3 2005.4 1649.9 2029.2 1650.3 2058.4 1651.0 2025.5 1651.1 2021.9 1651.9 2000.7 1652.2 2022.6 1652.7 1999.3 1653.3 2001.2 1654.0 2026.2 1654.3 2021.4 1654.5 1999.6 1655.0 2002.1 1655.4 2025.1 1656.2 1999.2 1656.7 2026.1 1657.1 1998.7 1657.5 2021.7 1658.4 1998.4 1659.0 2067.6 1659.1 2055.9 1659.6 1995.6 1660.1 2021.2 1660.7 2000.0 1661.3 2011.2 1661.7 1995.4 1662.4 2005.2 1662.6 1993.7 1663.7 2019.0 1663.8 2007.2 1664.1 1996.8 1664.3 2015.5 1665.3 2014.6 1665.5 2001.2 1666.0 2017.2 1666.6 2000.8 1667.6 2000.3 1667.7 2018.2 1668.0 2018.0 1668.5 1994.8 1669.3 2014.8 1669.8 1993.2 1670.2 2008.6 1670.9 1992.8 1671.3 1995.6 1671.7 2014.0 1672.7 1991.4 1672.9 2012.4 1673.3 1989.3 1673.8 2013.8 1674.2 1998.5 1675.0 1976.5 1675.1 2013.1 1675.7 1972.5 1676.3 1997.5 1676.7 1964.3 1677.6 1976.4 1678.0 2010.7 1678.4 2055.3 1678.9 1966.3 1679.0 2007.1 1679.8 1961.7 1680.1 1998.8 1680.6 1962.3 1681.2 1961.8 1681.4 2003.4 1682.3 2007.5 1682.8 1953.1 1683.7 1966.6 1684.0 2003.5 1684.1 1976.2 1684.8 1954.1 1685.0 1951.8 1685.6 2002.3 1686.4 1976.3 1686.5 1963.1 1687.1 1951.5 1687.4 1996.3 1688.2 1964.6 1688.6 2052.3 1689.1 1975.1 1689.4 1943.1 1690.0 1996.8 1690.8 1956.3 1691.2 1952.9 1692.0 1990.6 1692.1 1979.6 1692.5 1942.6 1693.0 1984.7 1694.0 1959.0 1694.5 1976.1 1695.0 1943.8 1695.1 1977.3 1695.4 1958.7 1696.0 1994.2 1696.8 1927.3 1697.5 1941.3 1697.8 1983.1 1698.8 1991.7 1698.9 1946.1 1699.5 1951.9 1700.0 2008.2 1700.1 2001.7 1700.8 1961.1 1701.3 1941.4 1701.8 1984.9 1702.2 1990.9 1702.9 1964.9 1703.6 1995.0 1703.9 1968.5 1704.0 1995.1 1705.0 1936.3 1705.1 1933.6 1705.4 1962.7 1706.4 2019.5 1706.9 1996.3 1707.1 1989.1 1707.4 1934.1 1708.2 1988.7 1708.5 1936.9 1709.0 1994.7 1709.9 1935.7 1710.3 1946.5 1711.0 1996.4 1711.2 1929.1 1711.4 1990.9 1712.4 1928.5 1712.8 1977.6 1713.2 1951.0 1713.9 1993.5 1714.3 1991.4 1714.4 1955.7 1715.2 1942.6 1715.8 1979.9 1716.2 1991.9 1716.4 1963.1 1717.0 1972.8 1717.7 1947.9 1718.1 1963.2 1719.0 2006.8 1719.4 2031.8 1719.9 1968.4 1720.0 1940.7 1720.8 1992.4 1721.2 1992.6 1722.0 1929.3 1722.6 1964.5 1722.9 1928.4 1723.6 1968.3 1723.7 1949.0 1724.1 1996.9 1724.6 1954.3 1725.5 1996.1 1725.8 1924.4 1726.4 1908.2 1726.7 1988.0 1727.4 1944.9 1727.8 1984.7 1728.0 1988.8 1728.5 1930.1 1729.2 1906.4 1730.0 1968.3 1730.6 1992.5 1730.9 1930.4 1731.7 1954.2 1731.8 1933.9 1732.6 1991.3 1732.7 1927.1 1733.3 1902.2 1733.5 1996.9 1734.0 1924.4 1734.8 1955.0 1735.4 1935.0 1735.9 1986.5 1736.0 1905.4 1736.3 1986.2 1737.3 1913.2 1737.6 1993.1 1738.6 1930.6 1738.9 1992.9 1739.4 1910.0 1739.9 2043.5 1740.1 2023.3 1740.6 1932.4 1741.1 1988.2 1741.6 1927.9 1742.2 1991.9 1742.7 1907.3 1743.1 1977.5 1743.9 1915.2 1744.4 1905.9 1744.5 1939.6 1745.6 1950.1 1746.0 1904.0 1746.5 1954.5 1746.8 1931.4 1747.3 1904.8 1747.8 2014.7 1748.1 2001.6 1748.5 1930.2 1749.1 1928.9 1749.5 1967.1 1750.3 1918.7 1750.4 1982.9 1751.2 1899.8 1751.3 1969.7 1752.1 1907.0 1752.9 1949.0 1753.4 1984.5 1753.8 1926.6 1754.4 1974.3 1754.9 1893.8 1755.0 1895.9 1755.8 1980.9 1756.1 1975.4 1757.0 1890.9 1757.1 1936.2 1757.4 1889.9 1758.3 1973.1 1758.5 1890.9 1759.1 1953.2 1759.5 1903.0 1760.1 1944.0 1760.5 1892.8 1761.3 1947.3 1762.0 1917.1 1762.1 1918.7 1762.7 1967.7 1763.1 1913.7 1763.4 1978.8 1764.1 1935.2 1764.7 1992.9 1765.4 1967.3 1765.6 1903.4 1766.3 1968.3 1766.9 1912.4 1767.2 1950.3 1767.9 1896.8 1768.1 1923.1 1768.6 1949.8 1769.3 1906.4 1769.8 1979.1 1770.1 1952.8 1770.6 1982.9 1771.1 1956.2 1771.8 1910.5 1772.4 1969.0 1773.0 1914.7 1773.4 1948.9 1773.7 1918.3 1774.1 1927.0 1774.8 1965.6 1775.6 1909.6 1775.8 1967.7 1776.4 1936.0 1776.8 1978.5 1777.0 1946.3 1777.5 2052.5 1778.1 1991.5 1778.9 1935.9 1779.4 1977.1 1779.9 1937.7 1780.3 1982.2 1781.0 1917.1 1781.3 1984.4 1781.9 1941.2 1782.1 1924.8 1782.3 1955.9 1783.0 1952.0 1783.4 1974.8" stroke="#7030A0" stroke-width="3" stroke-dasharray="12 4" fill="none" stroke-linejoin="round"/>
<path clip-path="url(#ce)" d="M771.6 2016.6 771.7 2049.4 772.3 2011.7 772.7 2031.2 773.5 2058.6 773.8 2015.5 774.2 2065.0 774.8 1992.5 775.2 1991.7 775.7 2045.0 776.0 2022.1 776.5 2047.2 777.3 2012.1 777.6 2040.7 778.0 2015.9 778.5 2047.2 779.2 2050.3 779.4 1977.7 780.1 1999.0 780.3 2042.4 781.0 1963.8 781.8 2075.3 782.2 2029.1 782.4 1958.8 783.2 1988.4 783.7 2067.8 784.0 2052.3 784.7 2118.7 784.9 2104.7 785.7 2000.3 786.6 1969.3 786.9 2091.0 787.1 1962.2 787.4 2057.1 788.1 2029.6 788.8 2061.9 789.2 2067.3 789.8 1996.9 790.4 2082.7 790.8 1969.6 791.2 1999.8 791.6 2090.2 792.1 2046.8 792.6 1953.7 793.6 2004.9 793.7 2052.6 794.1 2053.8 794.9 1959.1 795.0 1971.5 795.5 2075.3 796.1 1963.9 796.2 2072.9 797.2 1949.9 797.9 2055.5 798.0 1989.4 798.8 2051.3 799.1 2066.8 799.9 2000.6 800.0 2014.1 800.6 2085.3 801.0 1949.8 801.4 2075.3 802.7 2069.2 802.9 1996.7 803.1 2061.5 803.5 2008.5 803.9 1955.4 804.4 2371.0 805.2 1947.1 805.6 2074.7 806.5 2085.2 806.7 1968.1 807.3 2051.0 807.6 1984.3 808.1 1962.4 808.6 2062.2 809.3 2000.7 809.7 2038.4 810.5 1965.8 810.9 2068.8 811.6 1969.8 811.8 2008.6 812.6 2079.0 812.7 2019.5 813.0 2044.1 813.9 2070.7 814.1 1983.0 814.5 2033.9 815.1 1970.1 815.8 2053.4 816.1 2020.5 816.9 2065.9 817.5 1999.4 817.7 2032.0 817.9 2023.6 818.2 1986.1 819.4 1970.9 819.6 2078.1 820.6 1977.3 820.8 2078.9 821.1 2076.9 821.7 1991.3 822.1 1993.7 822.7 2062.7 822.9 1973.8 823.3 2058.6 824.4 1991.1 824.6 2072.2 825.1 2052.1 825.4 1995.5 826.7 2010.9 826.8 2034.9 827.1 2070.8 827.5 1991.2 828.3 1972.3 828.4 2052.4 829.5 2018.3 829.7 1972.7 830.0 2011.8 830.8 2070.7 831.2 1976.3 831.6 2074.1 832.2 2062.5 832.5 2008.7 833.5 2013.0 833.8 2039.1 834.0 2071.0 834.3 1975.6 835.4 2005.5 835.8 2072.0 836.3 2025.9 836.5 2060.7 836.9 2063.9 837.5 2019.6 838.2 2053.2 838.8 2005.9 838.9 1980.1 839.8 2170.3 839.9 2131.5 840.9 2028.8 841.1 2034.1 841.3 1990.1 842.3 2064.4 842.8 1999.6 843.4 2058.2 843.7 1999.8 844.0 2070.4 844.8 1994.0 845.7 2067.1 845.8 1998.3 846.0 1995.2 846.4 2065.3 847.2 2008.7 847.8 2069.1 847.9 2071.4 848.3 1986.5 849.0 2054.2 849.8 1991.2 850.2 1985.5 850.6 2044.7 851.7 2022.6 851.9 2065.1 852.1 1998.4 852.7 2045.9 853.0 1987.3 853.8 2121.0 854.0 2100.5 854.9 2020.3 855.1 2015.3 855.5 2068.9 856.1 2030.5 856.5 2065.3 857.4 2044.7 857.5 2061.5 857.9 2068.3 858.4 2016.8 859.1 2062.6 859.6 2006.8 860.3 2044.5 860.6 2007.6 861.0 2023.3 861.8 2124.9 862.1 2214.9 862.5 2010.2 863.0 2066.8 863.8 2025.0 864.2 2003.0 864.4 2064.8 865.1 2062.4 865.4 2008.2 866.2 2057.9 866.5 2015.5 866.9 2004.6 867.7 2050.0 868.2 2009.1 868.8 2060.3 869.2 2057.1 869.4 2026.5 870.1 2054.6 870.7 2033.9 871.4 2007.7 871.7 2051.8 871.9 2020.3 872.7 2064.1 873.0 2064.0 873.9 2004.3 874.3 2058.1 874.8 2013.7 874.9 2003.0 875.8 2072.3 876.1 2130.4 876.5 2008.7 877.3 2059.4 877.6 2005.5 878.2 2061.3 878.9 2021.3 879.0 2008.6 879.8 2049.2 880.0 2023.4 880.4 2057.9 881.0 2049.1 881.7 2004.4 882.1 2053.9 882.7 2011.9 883.1 2030.3 883.6 2002.5 884.4 2034.9 884.9 2003.1 885.0 2008.1 885.3 2044.8 886.2 2037.4 886.9 2005.3 887.4 2009.4 887.8 2036.6 888.0 2005.5 888.3 2051.7 889.2 2054.2 889.3 2012.5 890.3 2019.7 890.5 2046.3 891.2 2052.6 891.7 2021.8 892.0 2038.4 892.4 2011.5 893.0 2035.0 893.7 2128.1 893.9 2086.2 894.8 2027.3 895.2 2013.6 895.4 2049.6 896.3 2015.8 896.4 2057.1 897.2 2034.5 897.6 2049.4 898.5 2040.1 898.8 2055.0 899.0 2021.6 899.4 2046.9 900.0 2026.6 900.3 2048.4 901.0 2042.8 901.4 2058.2 902.3 2033.7 902.4 2054.0 903.8 2057.2 903.9 2024.3 904.0 2051.0 904.5 2024.4 905.2 2047.7 905.3 2026.7 906.5 2055.4 906.6 2026.4 906.9 2043.6 907.3 2058.2 907.9 2040.5 908.6 2055.6 909.1 2054.8 909.7 2037.0 910.0 2048.5 910.4 2026.6 911.1 2028.0 911.5 2052.2 912.3 2027.4 912.5 2050.6 913.2 2030.7 913.7 2053.7 914.1 2039.4 914.2 2050.7 915.0 2047.4 915.5 2035.5 915.9 2045.9 916.7 2027.3 917.0 2043.5 917.3 2029.6 917.9 2037.2 918.2 2045.7 919.0 2051.2 919.5 2114.3 920.0 2050.2 920.5 2031.4 921.3 2029.0 921.8 2055.6 922.8 2029.7 922.9 2058.0 923.5 2055.6 923.8 2031.8 924.1 2028.2 924.2 2048.6 925.5 2027.6 925.6 2046.3 925.9 2058.2 926.3 2038.9 927.1 2055.7 927.3 2032.4 928.0 2056.1 928.8 2033.2 929.2 2046.2 929.6 2052.1 930.0 2053.0 930.4 2035.6 931.0 2060.9 931.4 2066.7 931.9 2060.0 932.1 2034.9 933.1 2042.7 933.6 2059.4 934.0 2046.8 934.5 2057.6 934.9 2045.7 935.5 2036.0 936.0 2038.4 936.2 2051.4 937.2 2059.9 937.8 2037.9 938.2 2102.4 938.6 2039.6 939.3 2061.6 939.4 2039.8 940.4 2042.3 940.6 2057.7 941.0 2043.5 941.2 2059.7 942.3 2042.4 942.4 2053.5 942.9 2045.1 943.7 2055.1 944.2 2063.1 944.4 2044.7 945.3 2046.5 945.8 2063.3 945.9 2062.4 946.5 2044.7 947.1 2045.7 947.3 2059.4 947.9 2058.4 948.6 2046.7 949.2 2044.7 949.9 2094.3 950.1 2112.6 950.8 2056.3 951.6 2063.3 951.7 2045.5 952.2 2062.4 952.6 2046.0 953.0 2054.1 953.8 2062.9 954.6 2046.4 954.9 2064.1 955.2 2083.7 955.8 2051.9 955.9 2055.4 956.8 2050.5 957.0 2048.8 957.2 2059.7 958.1 2051.7 958.7 2061.0 959.0 2056.6 959.2 2063.3 960.4 2063.2 960.8 2051.1 961.4 2063.3 961.8 2051.3 962.3 2047.6 962.5 2058.0 963.0 2060.3 963.6 2048.6 964.4 2058.2 964.8 2063.3 965.6 2053.9 965.7 2062.5 966.4 2053.2 966.6 2061.5 966.9 2059.6 967.7 2047.3 968.0 2047.3 968.2 2056.6 969.3 2055.3 969.5 2050.5 969.9 2047.3 970.6 2088.8 971.1 2088.2 971.8 2053.3 972.3 2090.5 972.7 2047.8 972.9 2055.8 973.1 2051.3 974.5 2047.7 974.6 2062.0 975.2 2047.4 975.6 2060.0 975.9 2052.0 976.7 2063.3 977.4 2051.0 977.8 2061.6 977.9 2058.4 978.7 2047.7 979.2 2047.8 979.7 2062.4 980.0 2050.3 980.8 2055.3 980.9 2047.9 981.3 2063.1 982.0 2066.1 982.5 2083.7 983.2 2048.6 983.5 2058.7 984.2 2063.3 984.6 2049.4 985.3 2052.0 985.8 2062.9 985.9 2062.4 986.8 2049.3 987.0 2048.9 987.7 2063.0 988.0 2059.4 988.3 2052.8 989.6 2063.9 989.8 2051.5 990.5 2050.2 990.8 2060.2 991.5 2049.8 991.8 2054.6 992.1 2051.5 992.3 2063.4 993.2 2064.7 993.8 2051.6 993.9 2064.8 994.3 2050.3 995.3 2063.1 995.5 2050.7 996.1 2064.8 996.7 2051.9 997.2 2054.1 997.4 2060.9 998.1 2051.0 998.7 2063.6 999.4 2052.4 999.8 2061.0 1000.6 2058.4 1000.8 2069.0 1001.1 2078.6 1001.9 2049.5 1002.0 2049.8 1002.3 2060.5 1003.3 2047.7 1003.6 2057.0 1004.0 2059.3 1004.3 2045.7 1005.0 2048.6 1005.8 2060.6 1006.0 2049.0 1006.1 2060.2 1007.0 2051.7 1007.8 2061.4 1008.1 2058.3 1008.4 2046.7 1009.2 2064.9 1009.8 2047.1 1010.1 2064.4 1010.5 2051.9 1011.1 2060.9 1011.7 2056.1 1012.2 2057.2 1012.4 2063.3 1013.0 2065.0 1013.7 2048.9 1014.1 2057.6 1014.7 2080.3 1015.0 2074.5 1015.4 2055.5 1016.7 2062.2 1016.8 2053.3 1017.0 2049.3 1017.6 2065.7 1018.3 2057.9 1018.5 2063.8 1019.1 2062.8 1019.3 2050.4 1020.4 2050.3 1020.6 2060.1 1021.0 2058.2 1021.7 2066.7 1022.7 2066.5 1022.9 2056.0 1023.0 2053.6 1023.5 2062.4 1023.9 2062.5 1024.2 2055.7 1025.0 2064.9 1025.6 2060.9 1026.0 2057.3 1026.1 2065.5 1027.2 2057.4 1027.4 2066.4 1028.6 2064.2 1028.8 2061.1 1029.1 2064.6 1029.5 2061.8 1030.3 2062.4 1030.7 2064.9 1031.2 2064.5 1031.6 2062.2 1032.4 2066.5 1032.8 2063.2 1033.6 2062.8 1033.9 2065.4 1034.0 2066.4 1034.8 2061.1 1035.2 2060.9 1035.7 2064.3 1036.5 2066.8 1036.7 2061.2 1037.1 2061.9 1037.8 2066.0 1038.2 2061.5 1038.7 2066.6 1039.6 2060.9 1039.9 2065.3 1040.5 2065.5 1040.8 2062.4 1041.5 2063.2 1041.7 2064.7 1042.4 2067.4 1042.6 2065.1 1043.6 2061.1 1043.8 2068.0 1044.1 2067.6 1044.2 2061.5 1045.1 2066.0 1045.8 2062.7 1046.4 2062.0 1046.7 2068.2 1047.0 2067.5 1047.6 2060.9 1048.1 2066.5 1048.8 2061.2 1049.1 2061.0 1049.5 2067.3 1050.0 2068.1 1050.4 2061.7 1051.3 2061.1 1051.7 2066.2 1051.9 2067.6 1052.2 2062.3 1053.0 2067.4 1053.6 2062.1 1054.2 2065.3 1054.7 2061.2 1055.0 2066.7 1055.6 2061.4 1056.0 2066.4 1056.8 2063.0 1056.9 2066.8 1057.3 2063.3 1058.0 2066.9 1058.9 2061.1 1059.0 2061.8 1059.7 2066.2 1060.2 2061.2 1060.5 2067.1 1061.0 2067.0 1061.4 2061.7 1062.3 2066.3 1062.6 2060.9 1063.2 2064.1 1063.7 2066.6 1064.0 2066.3 1064.1 2062.2 1065.2 2064.9 1065.6 2060.6 1066.6 2064.5 1066.9 2059.2 1067.7 2066.2 1067.8 2062.0 1068.1 2058.2 1068.8 2065.7 1069.0 2057.3 1069.6 2065.9 1070.3 2061.0 1070.5 2056.6 1071.2 2061.2 1071.9 2056.8 1072.4 2055.7 1072.8 2066.0 1073.2 2065.7 1073.4 2058.5 1074.2 2055.7 1074.3 2063.6 1075.3 2059.2 1075.8 2067.7 1075.9 2068.4 1076.6 2058.3 1077.4 2056.3 1077.9 2063.7 1078.1 2066.5 1078.4 2062.8 1079.7 2059.3 1079.9 2063.4 1080.5 2065.3 1080.6 2057.4 1080.9 2061.1 1081.0 2065.9 1081.9 2060.2 1082.3 2064.0 1083.1 2063.4 1083.8 2058.3 1083.9 2056.8 1084.6 2061.4 1085.1 2066.3 1085.5 2058.9 1086.3 2063.5 1086.5 2056.9 1087.2 2063.7 1087.6 2055.7 1088.1 2054.6 1088.9 2065.9 1089.5 2053.7 1089.8 2065.0 1090.5 2050.4 1090.9 2058.1 1091.3 2060.2 1091.8 2054.0 1092.0 2055.6 1092.2 2064.8 1093.3 2065.5 1093.9 2048.0 1094.4 2048.4 1094.7 2059.3 1095.2 2044.7 1095.4 2055.9 1096.2 2064.1 1096.6 2043.2 1097.0 2058.3 1097.4 2047.4 1098.7 2064.1 1098.9 2043.4 1099.0 2046.8 1099.8 2073.5 1099.9 2071.5 1100.8 2037.0 1100.9 2036.6 1101.6 2047.4 1102.3 2035.4 1102.6 2056.6 1103.2 2060.7 1103.6 2035.2 1104.2 2053.8 1104.7 2038.7 1105.0 2061.8 1105.3 2036.5 1105.9 2051.9 1106.8 2031.2 1107.4 2052.8 1107.8 2037.0 1108.4 2030.6 1108.5 2044.2 1109.1 2046.4 1109.6 2074.1 1110.0 2073.5 1110.5 2043.4 1111.3 2049.4 1111.7 2073.5 1112.0 2061.2 1112.9 2028.3 1113.0 2038.9 1113.3 2058.3 1114.3 2044.7 1114.4 2034.4 1115.0 2040.5 1115.5 2027.9 1116.3 2054.4 1116.5 2028.0 1117.1 2051.8 1117.7 2030.8 1118.0 2041.1 1118.8 2053.7 1119.4 2040.8 1119.7 2026.2 1120.3 2026.1 1120.9 2052.2 1121.4 2057.4 1121.6 2039.1 1122.2 2055.7 1122.7 2030.9 1123.2 2056.0 1123.4 2029.1 1124.1 2057.0 1124.3 2025.5 1125.2 2052.6 1125.6 2026.4 1126.1 2028.8 1126.4 2053.6 1127.0 2052.5 1127.8 2033.6 1128.1 2027.1 1128.3 2055.3 1129.0 2027.8 1129.2 2055.9 1130.3 2048.3 1130.4 2025.6 1131.2 2050.4 1131.7 2030.9 1132.5 2049.3 1132.7 2023.5 1132.9 2055.5 1133.6 2033.4 1134.2 2033.7 1134.8 2051.7 1135.0 2056.1 1135.1 2041.4 1136.3 2029.7 1136.7 2056.1 1137.2 2047.5 1137.9 2038.8 1138.0 2034.0 1138.8 2067.0 1138.9 2070.1 1139.9 2040.6 1140.1 2031.9 1140.8 2056.3 1141.0 2050.4 1141.7 2022.7 1142.2 2046.1 1142.7 2022.6 1143.7 2046.6 1143.8 2032.0 1144.3 2028.5 1144.7 2052.7 1145.2 2039.8 1145.8 2055.6 1146.4 2033.5 1146.8 2057.6 1146.9 2041.3 1147.7 2020.7 1148.5 2048.0 1148.8 2024.4 1149.2 2058.2 1149.6 2027.0 1150.2 2036.8 1150.9 2017.6 1151.3 2043.6 1151.5 2015.7 1152.0 2056.4 1152.3 2014.1 1153.1 2013.9 1153.4 2035.5 1154.3 2013.5 1154.7 2039.0 1155.1 2034.2 1155.8 2077.5 1156.4 2081.1 1156.9 2010.4 1157.4 2041.3 1157.7 2004.5 1158.2 2051.4 1158.6 1987.5 1159.6 2015.6 1159.8 2059.8 1159.9 2014.3 1160.0 2042.5 1161.2 2020.0 1161.7 2040.6 1162.1 2013.0 1162.5 2031.0 1163.4 2053.1 1163.7 2012.0 1164.6 2038.4 1164.8 2014.9 1165.0 2046.0 1165.8 2010.6 1165.9 2019.9 1166.6 2046.6 1167.1 2010.9 1167.2 2046.2 1168.0 2032.5 1168.4 2007.5 1169.3 2004.7 1169.9 2032.8 1170.1 2004.5 1170.5 2033.6 1170.9 2006.4 1171.7 2026.2 1172.0 1999.1 1172.7 2035.3 1173.3 2008.9 1173.8 2070.1 1174.1 2132.8 1174.8 1997.9 1175.0 2005.9 1175.5 2023.6 1176.0 2017.9 1176.5 1996.7 1176.9 2033.5 1177.7 2004.9 1178.1 2023.6 1178.6 1994.6 1179.0 2011.1 1179.4 1977.8 1180.2 1991.6 1180.6 2027.2 1181.0 1975.5 1181.3 2033.2 1182.2 2085.8 1182.8 1977.1 1183.0 1968.0 1183.5 2028.4 1184.1 1966.6 1184.8 2021.7 1185.3 2029.1 1185.9 1976.4 1186.1 1962.0 1186.4 2025.3 1187.4 1971.2 1187.8 2043.2 1188.1 2076.5 1188.7 1983.2 1189.1 1970.8 1189.7 2013.8 1189.9 1974.1 1190.3 2025.5 1191.1 1995.2 1191.6 1975.6 1192.4 2021.7 1192.7 1955.7 1193.7 1958.9 1193.8 2002.9 1194.0 1996.9 1194.4 2023.9 1195.0 2011.2 1195.4 1980.9 1195.9 2029.3 1196.3 1987.8 1197.2 1977.8 1197.8 2013.9 1197.9 2031.2 1198.6 1989.1 1199.0 2029.5 1199.1 1983.3 1200.1 1983.1 1200.5 2007.8 1201.2 1968.7 1201.7 2007.0 1202.8 2026.3 1202.9 1970.5 1203.3 2111.6 1203.7 1970.1 1204.3 1968.7 1204.8 2014.1 1205.6 2009.0 1205.8 1971.2 1205.9 2029.4 1206.0 1960.6 1206.9 1964.7 1207.3 2007.8 1208.1 1964.3 1208.6 2004.6 1209.2 2018.8 1209.8 1972.3 1210.5 1986.1 1210.9 1952.6 1211.7 1951.4 1211.8 1962.4 1212.1 2028.6 1212.4 1984.1 1213.1 1961.9 1213.8 2020.7 1214.2 1958.7 1214.3 2016.6 1214.9 1956.0 1215.7 2025.1 1216.4 1954.1 1216.5 2008.3 1217.2 1973.8 1217.6 2027.4 1218.0 1954.3 1218.6 2022.7 1219.0 1968.7 1219.8 2104.6 1219.9 2079.5 1220.4 1950.4 1221.0 1956.1 1221.2 2024.0 1222.3 2026.0 1222.7 1953.9 1223.1 1961.3 1223.6 2018.8 1224.1 1955.1 1224.8 2011.8 1225.0 1993.0 1225.7 1954.7 1226.3 2024.7 1226.7 1955.0 1227.4 1998.7 1227.8 1970.6 1227.9 2007.6 1228.6 1966.0 1229.0 1944.5 1229.6 2015.4 1230.1 1945.2 1230.7 2019.9 1231.4 2001.3 1231.7 1946.5 1232.5 2011.3 1232.9 1949.6 1233.0 1991.6 1233.8 1950.7 1234.1 1965.0 1234.5 2018.1 1235.2 1974.5 1235.8 2017.3 1236.0 2017.5 1236.8 1962.0 1237.7 1955.6 1237.9 2015.0 1238.1 2022.9 1238.7 1953.5 1239.4 2021.2 1239.6 1973.9 1240.0 1992.6 1240.7 2023.2 1241.1 2015.8 1241.7 1948.3 1241.9 1974.0 1242.8 2024.2 1243.2 2050.6 1243.8 1976.3 1244.2 2014.3 1244.3 1972.2 1245.1 2002.6 1245.7 1958.9 1246.3 1950.3 1246.4 2000.8 1247.3 1948.6 1247.8 2020.7 1248.0 1978.1 1248.6 2011.7 1249.0 1945.5 1249.7 2022.3 1249.9 1951.6 1250.1 2017.2 1251.0 2013.7 1251.6 1967.0 1252.5 1947.2 1252.8 2011.2 1253.1 1947.1 1253.2 1993.8 1254.0 1974.3 1254.8 2033.0 1254.9 2041.3 1255.4 1983.1 1255.9 1996.9 1256.3 1946.1 1257.1 1951.3 1257.4 2023.8 1258.0 1963.3 1258.8 2016.5 1259.7 1953.2 1259.9 2013.5 1260.1 2003.5 1260.5 1956.1 1261.5 1947.0 1261.8 2015.2 1262.4 1994.0 1262.5 1941.4 1263.4 1942.3 1263.8 1989.7 1263.9 2004.5 1264.1 1971.2 1265.3 1979.1 1265.5 1953.0 1266.3 1972.1 1266.7 2010.4 1267.0 1992.9 1267.9 2043.6 1268.0 2037.6 1268.4 1960.5 1268.9 2020.6 1269.8 1955.7 1270.0 2019.3 1270.6 1983.5 1271.1 1972.7 1271.5 2023.4 1271.9 2008.0 1272.6 1969.5 1273.0 1998.0 1273.1 1969.7 1274.2 1968.4 1274.8 2015.0 1275.1 1981.7 1275.3 2022.3 1276.5 2000.3 1276.7 2018.4 1276.9 2016.6 1277.0 1993.6 1278.1 2015.4 1278.7 1981.2 1279.0 2007.6 1279.1 1991.8 1280.1 1995.7 1280.7 2092.9 1281.0 2052.0 1281.8 1982.0 1282.0 1985.3 1282.3 2007.6 1282.9 1994.1 1283.7 2015.8 1284.2 2011.9 1284.8 1985.9 1285.3 2019.4 1285.8 1977.6 1286.2 2025.2 1286.9 1969.9 1287.0 1971.6 1287.4 2020.9 1287.9 1976.3 1288.2 2022.4 1289.5 1959.2 1289.8 1996.0 1290.3 2007.6 1290.4 1969.4 1291.3 2027.8 1291.8 1984.0 1292.6 1963.4 1292.8 2004.8 1293.2 1942.9 1293.6 2009.0 1293.9 1951.5 1294.9 2158.6 1295.0 2098.9 1295.5 1937.8 1296.4 2028.6 1296.7 1942.7 1297.4 1964.4 1297.9 1994.1 1298.1 1937.4 1298.5 1979.2 1299.1 1960.1 1299.3 1998.9 1300.2 2031.6 1300.4 1981.9 1301.0 2022.9 1301.3 1940.2 1301.9 1995.1 1302.6 1956.6 1303.5 1998.4 1303.6 1937.7 1304.2 1946.4 1304.4 2009.1 1305.5 2024.4 1305.9 1960.0 1306.3 1972.0 1306.7 2027.2 1307.2 2027.4 1307.4 1945.0 1308.6 2021.7 1308.9 1949.7 1309.1 1956.0 1309.7 1987.5 1310.1 1980.0 1310.6 2002.3 1311.0 1959.2 1311.2 2020.3 1312.2 1960.7 1312.6 2014.7 1313.1 2022.4 1313.9 1980.5 1314.1 1979.0 1314.8 2099.9 1314.9 2081.7 1315.6 1982.4 1316.0 1995.3 1316.6 1953.5 1317.0 1962.3 1317.7 2023.0 1318.1 1972.1 1318.8 2017.2 1319.1 1947.0 1319.8 2026.0 1320.0 1981.5 1320.5 1947.1 1321.5 1947.1 1321.9 2025.1 1322.2 2017.6 1322.6 1967.8 1322.9 1970.3 1323.3 2021.0 1324.2 1942.5 1324.3 2017.2 1325.3 1947.0 1325.7 2021.8 1326.4 1936.5 1326.6 2002.3 1327.1 2016.4 1327.6 1960.2 1328.3 1929.8 1328.8 2238.4 1328.9 2198.9 1329.7 1960.7 1330.0 1994.8 1330.9 1965.2 1331.3 1955.9 1331.8 1995.7 1332.1 1974.5 1332.7 2017.6 1333.1 1935.1 1333.4 2017.9 1334.2 1950.1 1334.8 2016.2 1335.2 2031.2 1335.3 1921.7 1336.1 1973.0 1336.7 2012.8 1337.2 1935.3 1337.7 1996.4 1338.6 2020.5 1338.9 1918.5 1339.0 1952.9 1339.4 2016.0 1340.3 1934.4 1340.7 1998.4 1341.0 2034.9 1341.5 1973.0 1341.9 2016.0 1342.8 1921.4 1343.1 2021.2 1343.7 1945.6 1344.1 2019.7 1344.8 1922.0 1344.9 2016.7 1345.7 1909.5 1346.0 1931.8 1346.5 1975.9 1347.3 1917.1 1347.8 2002.8 1348.1 1966.7 1348.6 1931.9 1349.0 1924.7 1349.1 1996.8 1350.0 1954.3 1350.7 2008.5 1350.9 1997.3 1351.1 1954.2 1352.0 1991.8 1352.5 1926.9 1353.0 2002.5 1353.2 1934.8 1354.3 1998.5 1354.9 1944.3 1355.1 1944.4 1355.5 2001.4 1356.2 1973.4 1356.7 1937.6 1357.0 1941.3 1357.5 1988.5 1358.3 1939.8 1358.4 1994.6 1359.3 1938.1 1359.6 1971.6 1360.2 1939.7 1360.6 1967.0 1361.2 2077.7 1361.6 1978.3 1361.9 1994.8 1362.9 1952.1 1363.0 1957.7 1363.3 1995.5 1364.4 1962.6 1364.7 2014.0 1365.2 1999.6 1365.7 1969.9 1366.5 1992.6 1366.7 1962.5 1367.1 1962.9 1367.5 2010.9 1368.0 2021.7 1368.8 2008.4 1369.0 2012.5 1369.4 1965.1 1370.2 2082.2 1370.9 1991.5 1371.2 1976.8 1371.4 2035.6 1372.3 2021.1 1372.8 1966.8 1373.1 2029.9 1373.9 1970.4 1374.4 2052.6 1374.8 2032.7 1375.2 2026.0 1375.7 1966.1 1376.2 2004.2 1376.6 1963.3 1377.3 1983.5 1377.5 1958.2 1378.2 1997.2 1378.3 1950.6 1379.2 2073.1 1379.5 1991.4 1380.0 2018.7 1380.4 1971.8 1380.9 2019.6 1381.2 1960.7 1382.1 1970.9 1382.4 2019.1 1383.2 2020.9 1383.6 1984.2 1384.2 2024.2 1384.6 1994.9 1385.7 2008.9 1385.8 1989.3 1386.2 1980.0 1386.8 2028.1 1387.0 2029.8 1387.9 1998.4 1388.2 2017.9 1388.4 1989.7 1389.3 2017.8 1389.9 1977.4 1390.4 1986.4 1390.8 2019.7 1391.2 2020.7 1391.8 1993.7 1392.0 1975.8 1392.9 2004.3 1393.3 2016.4 1393.5 1985.2 1394.4 1981.8 1394.8 2012.3 1395.1 1980.2 1395.9 2009.2 1396.4 1993.4 1396.8 2015.3 1397.2 2016.8 1397.5 1993.4 1398.0 2014.7 1398.2 2006.8 1399.2 2007.5 1399.8 2025.5 1400.1 2008.0 1400.7 2089.1 1401.0 2041.4 1401.1 2005.7 1401.9 2013.4 1402.4 2024.0 1403.2 2003.5 1403.7 2032.3 1404.0 2025.0 1404.8 2056.0 1404.9 2064.0 1405.7 2010.7 1406.4 2017.5 1406.9 2037.8 1407.2 2038.7 1407.5 2016.4 1408.2 2030.0 1408.5 2002.7 1409.4 2020.0 1409.5 2002.8 1410.4 2011.1 1410.7 2038.2 1411.0 2027.6 1411.9 1993.6 1412.1 1997.5 1412.4 2017.1 1413.3 2069.7 1413.8 1998.6 1414.2 2040.4 1414.5 1998.9 1415.1 2036.9 1415.3 2011.2 1416.3 2043.5 1416.7 2012.4 1417.8 2044.7 1417.9 2007.8 1418.7 2024.2 1418.8 2047.4 1419.3 2052.6 1419.9 2036.0 1420.1 2027.5 1420.4 2042.3 1421.3 2017.4 1421.4 2046.8 1422.0 2047.1 1422.3 2024.9 1423.3 2021.9 1423.8 2047.1 1424.1 2048.1 1424.7 2037.9 1425.0 2045.9 1425.9 2029.0 1426.1 2041.9 1426.4 2026.1 1427.2 2023.8 1427.6 2037.2 1428.5 2026.8 1428.6 2042.1 1428.9 2044.4 1429.4 2026.3 1430.1 2029.4 1430.6 2041.8 1431.0 2037.1 1431.4 2043.6 1431.9 2040.9 1432.8 2031.9 1433.4 2035.0 1433.6 2041.1 1434.7 2040.1 1434.8 2032.5 1435.1 2030.4 1435.2 2041.7 1436.0 2042.4 1436.9 2030.1 1437.0 2040.9 1437.4 2030.6 1437.9 2030.0 1438.5 2046.9 1439.5 2027.9 1439.6 2046.1 1440.6 2026.4 1440.8 2033.8 1441.5 2043.7 1441.7 2031.2 1442.4 2027.2 1442.5 2041.9 1442.9 2028.9 1443.8 2042.3 1444.1 2045.6 1444.9 2025.2 1445.5 2038.6 1445.8 2047.0 1445.9 2039.5 1446.9 2100.5 1447.0 2086.0 1447.8 2034.3 1448.2 2045.3 1448.6 2028.3 1448.9 2046.2 1449.2 2033.1 1450.0 2046.2 1450.7 2028.0 1451.4 2024.5 1451.8 2047.1 1452.0 2024.9 1452.9 2047.0 1453.1 2039.9 1453.3 2027.7 1454.2 2029.4 1454.6 2048.1 1455.5 2033.7 1455.8 2046.1 1456.2 2030.3 1456.4 2048.2 1457.1 2035.8 1457.7 2048.8 1458.4 2049.0 1458.8 2028.2 1458.9 2028.1 1459.8 2081.4 1460.0 2100.5 1460.9 2033.8 1461.3 2048.2 1461.8 2031.0 1462.0 2042.2 1462.7 2035.2 1463.0 2030.2 1463.8 2049.4 1464.5 2051.5 1464.8 2030.3 1464.9 2044.5 1465.6 2030.8 1466.2 2037.6 1466.8 2057.4 1467.2 2162.0 1467.8 2044.1 1468.3 2034.1 1468.7 2048.3 1469.4 2036.5 1469.5 2055.8 1470.0 2053.9 1470.6 2036.6 1471.4 2053.2 1471.9 2034.1 1472.1 2030.7 1472.5 2048.2 1473.2 2026.9 1473.3 2049.4 1474.2 2021.3 1474.9 2049.1 1475.2 2046.6 1475.5 2029.9 1476.1 2027.4 1476.3 2040.0 1477.2 2032.3 1477.8 2044.6 1478.2 2043.7 1478.4 2049.1 1479.2 2036.6 1479.9 2047.5 1480.3 2040.6 1480.8 2046.7 1481.4 2046.4 1481.7 2053.6 1482.0 2044.8 1482.6 2054.7 1483.0 2042.5 1483.8 2043.7 1483.9 2043.7 1484.7 2047.5 1485.1 2046.0 1485.5 2049.4 1486.4 2044.6 1486.8 2061.0 1487.3 2049.3 1487.7 2055.0 1488.4 2067.9 1488.8 2045.2 1489.3 2060.8 1489.8 2043.4 1490.3 2041.4 1490.7 2058.7 1491.0 2043.7 1491.8 2066.2 1492.6 2043.5 1492.8 2056.7 1493.0 2057.9 1493.1 2046.1 1494.3 2058.2 1494.4 2041.8 1495.1 2051.7 1495.2 2055.1 1496.1 2057.9 1496.8 2039.8 1497.2 2041.1 1497.8 2057.1 1498.3 2045.7 1498.5 2056.9 1499.3 2043.5 1499.6 2055.5 1499.9 2050.7 1500.8 2040.5 1501.0 2043.8 1501.9 2051.0 1502.1 2048.8 1502.5 2041.3 1502.9 2046.0 1503.7 2039.6 1504.4 2051.7 1504.8 2035.2 1505.3 2034.6 1505.7 2046.7 1506.1 2048.9 1506.6 2037.5 1507.0 2042.9 1507.8 2034.0 1508.3 2046.2 1508.6 2033.9 1509.5 2052.5 1509.7 2037.0 1510.1 2053.5 1510.4 2038.9 1511.7 2046.7 1511.8 2036.3 1512.0 2054.6 1512.1 2044.4 1513.1 2048.6 1513.3 2035.3 1514.2 2038.2 1514.4 2055.2 1515.0 2044.1 1515.4 2056.7 1516.4 2054.9 1516.7 2044.1 1517.2 2052.7 1517.3 2048.8 1518.2 2054.7 1518.8 2046.8 1518.9 2055.4 1519.7 2045.8 1520.1 2054.9 1520.9 2051.0 1521.1 2046.4 1521.8 2051.7 1521.9 2054.4 1522.3 2048.5 1523.0 2047.8 1523.4 2052.3 1524.5 2053.8 1524.8 2047.0 1525.6 2051.9 1525.7 2049.4 1526.1 2049.6 1526.4 2053.2 1527.0 2051.6 1527.6 2046.9 1527.9 2053.5 1528.7 2046.4 1529.1 2052.7 1529.8 2047.2 1530.7 2053.1 1530.8 2048.5 1531.4 2053.9 1531.6 2047.5 1532.3 2048.2 1532.7 2051.2 1533.3 2052.7 1533.6 2048.2 1534.4 2046.8 1534.9 2052.0 1535.3 2053.4 1535.8 2047.1 1535.9 2049.9 1536.7 2054.6 1537.5 2052.6 1537.8 2049.2 1538.2 2050.2 1538.6 2053.0 1539.1 2051.6 1539.2 2046.5 1540.7 2051.9 1540.8 2047.4 1540.9 2050.1 1541.3 2055.0 1542.1 2049.4 1542.8 2054.6 1543.3 2048.3 1543.7 2052.1 1543.9 2053.2 1544.5 2080.7 1545.1 2054.9 1545.5 2050.2 1546.0 2048.7 1546.8 2053.2 1547.1 2054.4 1547.2 2051.4 1548.3 2055.4 1548.8 2043.5 1548.9 2051.5 1549.4 2044.6 1550.0 2041.6 1550.6 2052.4 1551.1 2040.6 1551.3 2053.6 1551.9 2043.0 1552.6 2054.1 1553.2 2038.8 1553.9 2045.2 1554.1 2047.8 1554.5 2054.4 1554.9 2053.3 1555.3 2042.5 1556.0 2046.7 1556.6 2052.7 1557.7 2042.6 1557.8 2053.3 1558.2 2043.6 1558.6 2052.1 1559.4 2044.1 1559.5 2053.4 1560.2 2044.8 1560.7 2052.4 1561.0 2047.6 1561.2 2052.7 1562.1 2045.7 1562.8 2052.0 1563.2 2051.2 1563.5 2046.8 1564.0 2049.7 1564.4 2047.3 1565.0 2048.8 1565.8 2052.4 1565.9 2052.2 1566.9 2050.7 1567.3 2049.9 1567.5 2051.2 1567.9 2051.0 1568.7 2051.6 1569.0 2051.6 1569.9 2049.7 1570.1 2051.7 1570.7 2048.7 1571.3 2050.8 1571.6 2048.7 1572.0 2048.1 1572.2 2050.6 1573.0 2046.8 1573.1 2048.2 1573.9 2047.4 1574.9 2051.0 1575.2 2044.1 1575.5 2050.2 1576.0 2049.3 1576.3 2045.2 1577.2 2047.4 1577.9 2042.2 1578.1 2046.0 1578.5 2048.9 1579.3 2042.9 1579.7 2048.5 1580.1 2050.1 1580.9 2042.4 1581.4 2048.7 1581.5 2041.5 1582.3 2046.4 1582.7 2041.4 1583.2 2049.5 1583.4 2042.1 1584.2 2042.2 1584.4 2048.5 1585.6 2048.8 1585.7 2041.7 1586.6 2043.9 1586.8 2048.6 1587.0 2045.5 1587.2 2048.6 1588.2 2041.3 1588.5 2048.4 1589.0 2046.3 1589.7 2042.9 1590.3 2044.8 1590.7 2040.3 1591.2 2047.0 1591.8 2039.5 1592.0 2039.8 1592.4 2044.3 1593.1 2046.0 1593.3 2040.3 1594.2 2046.2 1594.6 2041.2 1595.2 2041.5 1595.3 2046.2 1596.2 2040.5 1596.9 2045.7 1597.3 2042.5 1597.5 2045.1 1598.0 2042.3 1598.6 2038.2 1599.4 2044.3 1599.9 2039.5 1600.4 2044.1 1600.7 2038.0 1601.1 2045.0 1601.7 2036.4 1602.5 2035.6 1602.8 2039.9 1603.2 2035.2 1603.4 2041.7 1604.2 2039.3 1604.6 2041.8 1605.4 2033.6 1605.6 2041.9 1606.3 2034.5 1606.4 2040.8 1607.3 2040.8 1607.7 2032.9 1608.0 2031.8 1608.7 2039.0 1609.3 2032.2 1609.8 2039.8 1610.4 2042.1 1610.8 2028.9 1611.0 2031.1 1611.5 2041.1 1612.3 2031.9 1612.5 2042.3 1613.1 2027.0 1613.4 2043.4 1614.2 2044.5 1614.6 2035.0 1615.3 2036.6 1615.6 2026.1 1616.4 2043.2 1616.8 2034.1 1616.9 2029.3 1617.7 2047.8 1618.7 2023.0 1618.9 2045.7 1619.1 2043.9 1619.7 2021.2 1620.4 2021.2 1620.8 2029.3 1621.1 2014.5 1621.9 2048.7 1622.4 2084.0 1622.8 2049.6 1622.9 2027.2 1623.5 2015.0 1624.1 2021.7 1624.4 2040.0 1625.7 2033.7 1625.8 2015.0 1626.1 2042.3 1626.5 2017.2 1627.0 2036.1 1627.5 2016.4 1628.0 2040.0 1628.6 2023.3 1629.1 2027.6 1629.2 2041.6 1630.0 2037.3 1630.3 2021.1 1631.1 2026.0 1631.7 2039.6 1632.5 2020.2 1632.8 2037.8 1633.0 2028.9 1633.3 2020.5 1633.9 2023.9 1634.5 2036.1 1635.4 2020.8 1635.8 2038.5 1636.7 2039.7 1636.8 2020.8 1637.0 2022.7 1637.5 2039.5 1638.0 2037.2 1638.4 2026.8 1638.9 2038.8 1639.8 2019.4 1640.0 2026.6 1640.2 2037.7 1641.5 2018.7 1641.7 2037.5 1641.9 2020.2 1642.5 2033.1 1643.5 2035.2 1643.8 2028.4 1644.0 2031.2 1644.6 2019.5 1644.9 2033.7 1645.5 2014.7 1646.1 2027.5 1646.3 2035.0 1647.3 2016.3 1647.6 2032.6 1648.2 2010.0 1648.4 2030.5 1649.3 2005.4 1649.8 2028.3 1650.3 2058.4 1650.8 2025.8 1651.0 2025.5 1651.9 2000.7 1652.2 2022.6 1652.7 1999.3 1653.3 2001.2 1653.7 2025.9 1654.0 2026.2 1654.5 1999.6 1655.0 2002.1 1655.4 2025.1 1656.2 1999.2 1656.7 2026.1 1657.1 1998.7 1657.5 2021.7 1658.4 1998.4 1658.8 2048.4 1659.0 2067.6 1659.6 1995.6 1660.1 2021.2 1660.7 2000.0 1661.3 2011.2 1661.7 1995.4 1662.0 2007.0 1662.6 1993.7 1662.9 2001.9 1663.7 2019.0 1664.1 1996.8 1664.3 2015.5 1665.3 2014.6 1665.5 2001.2 1666.0 2017.2 1666.6 2000.8 1667.6 2000.3 1667.7 2018.2 1668.0 2018.0 1668.5 1994.8 1669.3 2014.8 1669.8 1993.2 1670.2 2008.6 1670.9 1992.8 1671.3 1995.6 1671.7 2014.0 1672.7 1991.4 1672.9 2012.4 1673.3 1989.3 1673.8 2013.8 1673.9 2006.1 1674.6 1985.4 1675.1 2013.1 1675.7 1972.5 1676.3 1997.5 1676.7 1964.3 1677.3 2006.7 1677.6 1976.4 1678.4 2055.3 1678.9 1966.3 1679.0 2007.1 1679.8 1961.7 1680.1 1998.8 1680.6 1962.3 1681.2 1961.8 1681.4 2003.4 1682.3 2007.5 1682.8 1953.1 1682.9 1958.0 1683.2 1988.7 1684.0 2003.5 1684.8 1954.1 1685.0 1951.8 1685.6 2002.3 1686.4 1976.3 1686.5 1963.1 1687.1 1951.5 1687.4 1996.3 1688.2 1964.6 1688.6 2052.3 1689.0 2011.1 1689.4 1943.1 1690.0 1996.8 1690.8 1956.3 1691.2 1952.9 1691.9 1987.5 1692.0 1990.6 1692.5 1942.6 1693.0 1984.7 1693.8 1966.7 1694.3 1952.6 1694.5 1976.1 1695.0 1943.8 1695.1 1977.3 1696.0 1994.2 1696.8 1927.3 1697.0 1931.3 1697.8 1983.1 1698.3 1950.4 1698.8 1991.7 1698.9 1946.1 1699.8 2004.0 1700.0 2008.2 1700.8 1961.1 1701.3 1941.4 1701.8 1984.9 1702.2 1990.9 1702.9 1964.9 1703.0 1968.6 1703.6 1995.0 1704.0 1995.1 1704.8 1949.3 1705.1 1933.6 1705.4 1962.7 1706.0 2000.4 1706.4 2019.5 1706.9 1996.3 1707.4 1934.1 1708.2 1988.7 1708.5 1936.9 1709.0 1994.7 1709.3 1948.4 1709.9 1935.7 1710.9 1990.7 1711.0 1996.4 1711.2 1929.1 1712.4 1928.5 1712.8 1977.6 1713.2 1951.0 1713.9 1993.5 1714.3 1991.4 1714.4 1955.7 1715.2 1942.6 1715.8 1979.9 1716.2 1991.9 1716.4 1963.1 1717.0 1972.8 1717.7 1947.9 1717.9 1953.8 1718.8 1998.0 1719.4 2031.8 1719.9 1968.4 1720.0 1940.7 1720.8 1992.4 1721.2 1992.6 1721.9 1940.9 1722.0 1929.3 1722.6 1964.5 1722.9 1928.4 1723.6 1968.3 1724.1 1996.9 1724.6 1954.3 1725.5 1996.1 1725.8 1924.4 1726.4 1908.2 1726.7 1988.0 1727.4 1944.9 1727.8 1984.7 1728.0 1988.8 1728.5 1930.1 1729.2 1906.4 1729.3 1968.2 1730.5 1932.4 1730.6 1992.5 1730.9 1930.4 1731.7 1954.2 1732.6 1991.3 1732.7 1927.1 1733.3 1902.2 1733.5 1996.9 1734.0 1924.4 1734.8 1955.0 1735.4 1935.0 1735.9 1986.5 1736.0 1905.4 1736.3 1986.2 1737.3 1913.2 1737.6 1993.1 1738.6 1930.6 1738.9 1992.9 1739.4 1910.0 1739.8 2030.9 1739.9 2043.5 1740.6 1932.4 1741.1 1988.2 1741.6 1927.9 1742.2 1991.9 1742.7 1907.3 1743.1 1977.5 1743.9 1915.2 1744.4 1905.9 1744.5 1939.6 1745.2 1904.4 1745.6 1950.1 1746.0 1904.0 1746.5 1954.5 1747.3 1904.8 1747.8 2014.7 1747.9 2009.5 1748.5 1930.2 1749.1 1928.9 1749.5 1967.1 1750.3 1918.7 1750.4 1982.9 1751.2 1899.8 1751.3 1969.7 1752.0 1951.0 1752.1 1907.0 1753.4 1984.5 1753.8 1926.6 1754.4 1974.3 1754.9 1893.8 1755.0 1895.9 1755.8 1980.9 1756.1 1975.4 1756.6 1905.4 1757.1 1936.2 1757.4 1889.9 1758.3 1973.1 1758.5 1890.9 1759.1 1953.2 1759.5 1903.0 1760.1 1944.0 1760.5 1892.8 1761.3 1947.3 1761.7 1919.6 1762.0 1917.1 1762.7 1967.7 1763.1 1913.7 1763.4 1978.8 1764.1 1935.2 1764.7 1992.9 1765.0 1982.8 1765.6 1903.4 1766.0 1921.9 1766.3 1968.3 1767.2 1950.3 1767.9 1896.8 1768.1 1923.1 1768.6 1949.8 1769.3 1906.4 1769.8 1979.1 1770.1 1952.8 1770.6 1982.9 1771.0 1965.7 1771.8 1910.5 1771.9 1925.5 1772.4 1969.0 1773.0 1914.7 1773.4 1948.9 1774.1 1927.0 1774.8 1965.6 1775.6 1909.6 1775.8 1967.7 1776.4 1936.0 1776.8 1978.5 1777.0 1946.3 1777.5 2052.5 1777.9 2010.7 1778.9 1935.9 1779.0 1961.0 1779.4 1977.1 1779.9 1937.7 1780.3 1982.2 1781.0 1917.1 1781.3 1984.4 1782.1 1924.8 1782.3 1955.9 1782.9 1951.0 1783.4 1974.8" stroke="rgb(8,190,195)" stroke-width="4" stroke-opacity="0.72" fill="none" stroke-linejoin="round"/>
<path d="M1044.5 2078.2L1058.7 2094.7H1051.4V2133.5H1037.6V2094.7H1030.3Z" fill="#FF0000" stroke="#000" stroke-width="3.2" stroke-linejoin="miter"/>
<path d="M1567.6 2062.5L1581.8 2078.4H1574.5V2117.1H1560.7V2078.4H1553.4Z" fill="#FF0000" stroke="#000" stroke-width="3.2" stroke-linejoin="miter"/>
<path d="M285.5 281.2H335.9" stroke="#C00000" stroke-width="5" fill="none" stroke-linecap="round"/>
<text transform="translate(341.6 296.6) scale(1 1.03)" font-size="47.4">SORCE/TIM</text>
<path d="M285.5 338.2H335.9" stroke="#7030A0" stroke-width="5" fill="none" stroke-linecap="round"/>
<text transform="translate(342.8 353.3) scale(1 1.03)" font-size="47.4">TSIS-1/TIM</text>
<path d="M254.5 1425.8H324.1" stroke="#C00000" stroke-width="3.2" stroke-dasharray="12.9 6.8" fill="none" stroke-linecap="butt"/>
<text transform="translate(330.6 1440.8) scale(1 1.03)" font-size="47.7">SORCE/TIM</text>
<path d="M254.5 1479.7H324.1" stroke="#7030A0" stroke-width="3.2" stroke-dasharray="12.9 6.8" fill="none" stroke-linecap="butt"/>
<text transform="translate(331.8 1497.0) scale(1 1.03)" font-size="47.7">TSIS-1/TIM</text>
<path d="M257.2 1535.3H321.4" stroke="rgb(8,190,195)" stroke-width="5.5" stroke-opacity="0.72" fill="none" stroke-linecap="round"/>
<text transform="translate(328.8 1551.8) scale(1 1.03)" font-size="47.7">Linearly shifted SORCE/TIM</text>
<path d="M1282.8 275.8H1349.2" stroke="#000" stroke-width="4.5" fill="none" stroke-linecap="round"/>
<text transform="translate(1357.8 290.6) scale(1 1.03)" font-size="47.5">TSIS-1 &#8722; SORCE difference</text>
<path d="M1280.0 339.6H1351.5" stroke="#FF0000" stroke-width="5" stroke-dasharray="16 5.2" fill="none" stroke-linecap="butt"/>
<text transform="translate(1356.9 354.4) scale(1 1.03)" font-size="47.5">Last 365 days</text>
<path d="M1283.1 402.8H1349.0" stroke="#FFC000" stroke-width="5" fill="none" stroke-linecap="round"/>
<text transform="translate(1358.7 417.3) scale(1 1.03)" font-size="47.5">Overlap period</text>
<path d="M1295.2 1084.3H1360.5" stroke="#000" stroke-width="4.5" fill="none" stroke-linecap="round"/>
<text transform="translate(1369.5 1101.5) scale(1 1.03)" font-size="47.5">TSIS-1 &#247; SORCE ratio</text>
<path d="M1293.0 1147.8H1362.8" stroke="#FF0000" stroke-width="5" stroke-dasharray="18 7.5" fill="none" stroke-linecap="butt"/>
<text transform="translate(1368.0 1164.8) scale(1 1.03)" font-size="47.5">Last 365 days</text>
<path d="M1295.5 1211.5H1360.3" stroke="#FFC000" stroke-width="5" fill="none" stroke-linecap="round"/>
<text transform="translate(1369.8 1226.8) scale(1 1.03)" font-size="47.5">Overlap period</text>
<path d="M405.5 1870.0H476.3" stroke="#C00000" stroke-width="3.2" stroke-dasharray="11 6" stroke-opacity="0.8" fill="none" stroke-linecap="butt"/>
<text transform="translate(481.8 1885.4) scale(1 1.03)" font-size="52.7">SORCE/TIM</text>
<path d="M405.5 1926.3H476.3" stroke="#7030A0" stroke-width="3.2" stroke-dasharray="12 6" fill="none" stroke-linecap="butt"/>
<text transform="translate(483.1 1942.0) scale(1 1.03)" font-size="52.7">TSIS-1/TIM</text>
<path d="M408.2 1983.4H473.6" stroke="rgb(8,190,195)" stroke-width="5.5" stroke-opacity="0.72" fill="none" stroke-linecap="round"/>
<text transform="translate(480.1 1998.2) scale(1 1.03)" font-size="52.7">New TIM composite</text>
</svg>
</body></html>
